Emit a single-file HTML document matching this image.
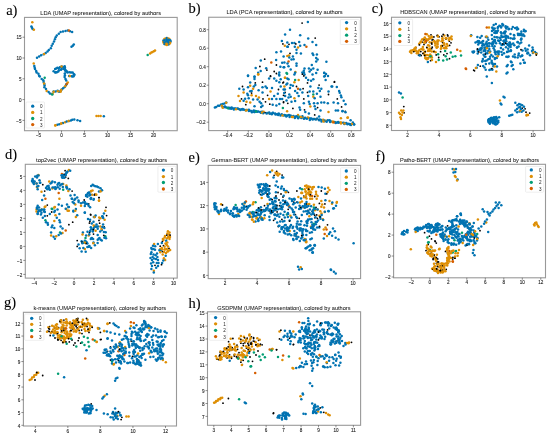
<!DOCTYPE html>
<html><head><meta charset="utf-8"><style>
html,body{margin:0;padding:0;background:#fff;}
svg{display:block;font-family:"Liberation Sans",sans-serif;will-change:transform;}
</style></head><body>
<svg width="550" height="435" viewBox="0 0 550 435">
<rect width="550" height="435" fill="#fff"/>
<circle cx="32.3" cy="22.3" r="1.25" fill="#de8f05"/>
<circle cx="31.4" cy="26.5" r="1.25" fill="#0173b2"/>
<circle cx="32.0" cy="27.8" r="1.25" fill="#0173b2"/>
<circle cx="32.6" cy="29.1" r="1.25" fill="#0173b2"/>
<circle cx="33.9" cy="29.7" r="1.25" fill="#de8f05"/>
<circle cx="37.0" cy="57.8" r="1.25" fill="#0173b2"/>
<circle cx="39.1" cy="56.4" r="1.25" fill="#0173b2"/>
<circle cx="41.1" cy="55.3" r="1.25" fill="#0173b2"/>
<circle cx="43.7" cy="54.3" r="1.25" fill="#0173b2"/>
<circle cx="45.7" cy="53.0" r="1.25" fill="#0173b2"/>
<circle cx="47.5" cy="51.5" r="1.25" fill="#0173b2"/>
<circle cx="48.8" cy="50.1" r="1.25" fill="#0173b2"/>
<circle cx="50.8" cy="48.2" r="1.25" fill="#0173b2"/>
<circle cx="51.7" cy="45.7" r="1.25" fill="#0173b2"/>
<circle cx="52.8" cy="43.8" r="1.25" fill="#0173b2"/>
<circle cx="54.0" cy="41.6" r="1.25" fill="#0173b2"/>
<circle cx="54.9" cy="39.2" r="1.25" fill="#0173b2"/>
<circle cx="55.7" cy="37.2" r="1.25" fill="#0173b2"/>
<circle cx="56.8" cy="35.4" r="1.25" fill="#0173b2"/>
<circle cx="58.8" cy="33.7" r="1.25" fill="#0173b2"/>
<circle cx="60.6" cy="32.1" r="1.25" fill="#0173b2"/>
<circle cx="63.0" cy="31.5" r="1.25" fill="#0173b2"/>
<circle cx="65.5" cy="31.1" r="1.25" fill="#0173b2"/>
<circle cx="67.7" cy="30.6" r="1.25" fill="#0173b2"/>
<circle cx="70.0" cy="31.3" r="1.25" fill="#0173b2"/>
<circle cx="72.1" cy="32.0" r="1.25" fill="#0173b2"/>
<circle cx="44.1" cy="53.9" r="1.25" fill="#de8f05"/>
<circle cx="68.9" cy="30.6" r="1.25" fill="#d55e00"/>
<circle cx="71.5" cy="46.8" r="1.25" fill="#0173b2"/>
<circle cx="72.8" cy="45.8" r="1.25" fill="#0173b2"/>
<circle cx="73.8" cy="44.4" r="1.25" fill="#0173b2"/>
<circle cx="33.7" cy="63.6" r="1.25" fill="#de8f05"/>
<circle cx="34.3" cy="65.9" r="1.25" fill="#0173b2"/>
<circle cx="34.7" cy="67.8" r="1.25" fill="#0173b2"/>
<circle cx="35.0" cy="68.9" r="1.25" fill="#0173b2"/>
<circle cx="36.2" cy="70.9" r="1.25" fill="#0173b2"/>
<circle cx="36.6" cy="72.5" r="1.25" fill="#0173b2"/>
<circle cx="38.4" cy="73.7" r="1.25" fill="#0173b2"/>
<circle cx="39.1" cy="75.8" r="1.25" fill="#0173b2"/>
<circle cx="39.8" cy="76.5" r="1.25" fill="#0173b2"/>
<circle cx="41.7" cy="78.9" r="1.25" fill="#0173b2"/>
<circle cx="43.3" cy="80.2" r="1.25" fill="#0173b2"/>
<circle cx="43.6" cy="82.0" r="1.25" fill="#0173b2"/>
<circle cx="44.3" cy="83.9" r="1.25" fill="#0173b2"/>
<circle cx="44.6" cy="85.5" r="1.25" fill="#0173b2"/>
<circle cx="44.4" cy="87.3" r="1.25" fill="#0173b2"/>
<circle cx="46.0" cy="89.0" r="1.25" fill="#0173b2"/>
<circle cx="46.7" cy="91.1" r="1.25" fill="#de8f05"/>
<circle cx="48.6" cy="92.1" r="1.25" fill="#0173b2"/>
<circle cx="49.9" cy="93.6" r="1.25" fill="#0173b2"/>
<circle cx="51.6" cy="94.1" r="1.25" fill="#0173b2"/>
<circle cx="52.6" cy="93.7" r="1.25" fill="#de8f05"/>
<circle cx="53.6" cy="91.4" r="1.25" fill="#0173b2"/>
<circle cx="55.6" cy="91.5" r="1.25" fill="#0173b2"/>
<circle cx="57.6" cy="90.7" r="1.25" fill="#0173b2"/>
<circle cx="59.1" cy="91.7" r="1.25" fill="#0173b2"/>
<circle cx="60.7" cy="91.0" r="1.25" fill="#0173b2"/>
<circle cx="61.7" cy="89.6" r="1.25" fill="#0173b2"/>
<circle cx="63.1" cy="88.2" r="1.25" fill="#0173b2"/>
<circle cx="64.7" cy="87.1" r="1.25" fill="#0173b2"/>
<circle cx="66.0" cy="85.1" r="1.25" fill="#0173b2"/>
<circle cx="66.7" cy="84.0" r="1.25" fill="#0173b2"/>
<circle cx="67.8" cy="82.4" r="1.25" fill="#de8f05"/>
<circle cx="66.2" cy="80.5" r="1.25" fill="#0173b2"/>
<circle cx="65.5" cy="79.1" r="1.25" fill="#0173b2"/>
<circle cx="64.6" cy="77.1" r="1.25" fill="#0173b2"/>
<circle cx="64.9" cy="75.3" r="1.25" fill="#0173b2"/>
<circle cx="64.8" cy="73.5" r="1.25" fill="#0173b2"/>
<circle cx="66.0" cy="71.6" r="1.25" fill="#0173b2"/>
<circle cx="65.3" cy="70.2" r="1.25" fill="#0173b2"/>
<circle cx="64.4" cy="67.9" r="1.25" fill="#0173b2"/>
<circle cx="53.6" cy="71.2" r="1.25" fill="#0173b2"/>
<circle cx="55.1" cy="69.0" r="1.25" fill="#0173b2"/>
<circle cx="56.2" cy="68.4" r="1.25" fill="#0173b2"/>
<circle cx="57.4" cy="67.8" r="1.25" fill="#0173b2"/>
<circle cx="58.7" cy="68.3" r="1.25" fill="#0173b2"/>
<circle cx="59.9" cy="67.3" r="1.25" fill="#0173b2"/>
<circle cx="61.6" cy="66.5" r="1.25" fill="#0173b2"/>
<circle cx="62.8" cy="66.9" r="1.25" fill="#0173b2"/>
<circle cx="64.7" cy="66.3" r="1.25" fill="#0173b2"/>
<circle cx="55.2" cy="72.5" r="1.25" fill="#0173b2"/>
<circle cx="55.9" cy="72.3" r="1.25" fill="#0173b2"/>
<circle cx="56.9" cy="72.2" r="1.25" fill="#0173b2"/>
<circle cx="58.3" cy="71.5" r="1.25" fill="#0173b2"/>
<circle cx="58.9" cy="70.2" r="1.25" fill="#0173b2"/>
<circle cx="61.0" cy="69.7" r="1.25" fill="#0173b2"/>
<circle cx="61.7" cy="68.9" r="1.25" fill="#0173b2"/>
<circle cx="63.7" cy="69.0" r="1.25" fill="#0173b2"/>
<circle cx="65.0" cy="67.7" r="1.25" fill="#0173b2"/>
<circle cx="64.3" cy="68.0" r="1.25" fill="#0173b2"/>
<circle cx="65.4" cy="69.9" r="1.25" fill="#0173b2"/>
<circle cx="65.7" cy="71.0" r="1.25" fill="#0173b2"/>
<circle cx="67.1" cy="71.6" r="1.25" fill="#0173b2"/>
<circle cx="67.5" cy="72.6" r="1.25" fill="#0173b2"/>
<circle cx="69.5" cy="72.2" r="1.25" fill="#0173b2"/>
<circle cx="71.0" cy="72.5" r="1.25" fill="#0173b2"/>
<circle cx="72.6" cy="72.5" r="1.25" fill="#0173b2"/>
<circle cx="73.7" cy="74.1" r="1.25" fill="#0173b2"/>
<circle cx="74.5" cy="74.8" r="1.25" fill="#0173b2"/>
<circle cx="73.6" cy="76.2" r="1.25" fill="#0173b2"/>
<circle cx="72.6" cy="76.5" r="1.25" fill="#0173b2"/>
<circle cx="71.6" cy="76.2" r="1.25" fill="#0173b2"/>
<circle cx="69.1" cy="76.0" r="1.25" fill="#0173b2"/>
<circle cx="61.5" cy="66.4" r="1.25" fill="#de8f05"/>
<circle cx="69.8" cy="76.1" r="1.25" fill="#de8f05"/>
<circle cx="66.6" cy="83.9" r="1.25" fill="#d55e00"/>
<circle cx="65.2" cy="86.2" r="1.25" fill="#de8f05"/>
<circle cx="61.1" cy="89.9" r="1.25" fill="#de8f05"/>
<circle cx="60.6" cy="91.7" r="1.25" fill="#de8f05"/>
<circle cx="57.9" cy="91.2" r="1.25" fill="#de8f05"/>
<circle cx="53.7" cy="91.7" r="1.25" fill="#de8f05"/>
<circle cx="52.3" cy="94.4" r="1.25" fill="#029e73"/>
<circle cx="44.7" cy="77.8" r="1.25" fill="#029e73"/>
<circle cx="44.1" cy="83.5" r="1.25" fill="#de8f05"/>
<circle cx="55.2" cy="125.4" r="1.25" fill="#de8f05"/>
<circle cx="57.4" cy="124.8" r="1.25" fill="#0173b2"/>
<circle cx="59.3" cy="124.3" r="1.25" fill="#0173b2"/>
<circle cx="61.1" cy="123.5" r="1.25" fill="#de8f05"/>
<circle cx="63.0" cy="123.0" r="1.25" fill="#0173b2"/>
<circle cx="65.1" cy="122.2" r="1.25" fill="#de8f05"/>
<circle cx="66.7" cy="121.6" r="1.25" fill="#0173b2"/>
<circle cx="68.9" cy="121.0" r="1.25" fill="#0173b2"/>
<circle cx="70.9" cy="120.4" r="1.25" fill="#0173b2"/>
<circle cx="72.3" cy="119.8" r="1.25" fill="#0173b2"/>
<circle cx="74.3" cy="119.4" r="1.25" fill="#0173b2"/>
<circle cx="55.5" cy="125.3" r="1.25" fill="#de8f05"/>
<circle cx="61.3" cy="123.5" r="1.25" fill="#de8f05"/>
<circle cx="68.6" cy="121.0" r="1.25" fill="#de8f05"/>
<circle cx="77.5" cy="120.2" r="1.25" fill="#0173b2"/>
<circle cx="80.1" cy="120.9" r="1.25" fill="#0173b2"/>
<circle cx="96.5" cy="116.0" r="1.25" fill="#de8f05"/>
<circle cx="98.5" cy="115.9" r="1.25" fill="#de8f05"/>
<circle cx="100.6" cy="116.0" r="1.25" fill="#de8f05"/>
<circle cx="103.8" cy="116.3" r="1.25" fill="#0173b2"/>
<circle cx="170.5" cy="41.5" r="1.25" fill="#0173b2"/>
<circle cx="170.2" cy="42.8" r="1.25" fill="#de8f05"/>
<circle cx="169.4" cy="43.9" r="1.25" fill="#de8f05"/>
<circle cx="168.3" cy="44.6" r="1.25" fill="#0173b2"/>
<circle cx="166.9" cy="44.9" r="1.25" fill="#de8f05"/>
<circle cx="165.5" cy="44.6" r="1.25" fill="#de8f05"/>
<circle cx="164.4" cy="43.9" r="1.25" fill="#0173b2"/>
<circle cx="163.6" cy="42.8" r="1.25" fill="#de8f05"/>
<circle cx="163.3" cy="41.5" r="1.25" fill="#de8f05"/>
<circle cx="163.6" cy="40.2" r="1.25" fill="#0173b2"/>
<circle cx="164.4" cy="39.1" r="1.25" fill="#de8f05"/>
<circle cx="165.5" cy="38.4" r="1.25" fill="#de8f05"/>
<circle cx="166.9" cy="38.1" r="1.25" fill="#0173b2"/>
<circle cx="168.3" cy="38.4" r="1.25" fill="#de8f05"/>
<circle cx="169.4" cy="39.1" r="1.25" fill="#de8f05"/>
<circle cx="170.2" cy="40.2" r="1.25" fill="#0173b2"/>
<circle cx="166.9" cy="41.8" r="1.25" fill="#0173b2"/>
<circle cx="169.3" cy="41.2" r="1.25" fill="#0173b2"/>
<circle cx="166.9" cy="41.6" r="1.25" fill="#0173b2"/>
<circle cx="166.6" cy="41.7" r="1.25" fill="#0173b2"/>
<circle cx="169.5" cy="42.6" r="1.25" fill="#de8f05"/>
<circle cx="167.2" cy="43.9" r="1.25" fill="#de8f05"/>
<circle cx="166.6" cy="39.2" r="1.25" fill="#0173b2"/>
<circle cx="164.4" cy="42.4" r="1.25" fill="#0173b2"/>
<circle cx="168.2" cy="42.4" r="1.25" fill="#0173b2"/>
<circle cx="166.3" cy="41.4" r="1.25" fill="#de8f05"/>
<circle cx="168.8" cy="39.7" r="1.25" fill="#0173b2"/>
<circle cx="167.0" cy="40.6" r="1.25" fill="#0173b2"/>
<circle cx="165.8" cy="42.7" r="1.25" fill="#0173b2"/>
<circle cx="167.2" cy="41.2" r="1.25" fill="#0173b2"/>
<circle cx="165.9" cy="42.2" r="1.25" fill="#0173b2"/>
<circle cx="164.6" cy="40.2" r="1.25" fill="#0173b2"/>
<circle cx="168.5" cy="40.3" r="1.25" fill="#0173b2"/>
<circle cx="166.4" cy="43.7" r="1.25" fill="#de8f05"/>
<circle cx="150.1" cy="53.4" r="1.25" fill="#de8f05"/>
<circle cx="151.4" cy="52.5" r="1.25" fill="#de8f05"/>
<circle cx="152.5" cy="51.9" r="1.25" fill="#de8f05"/>
<circle cx="153.9" cy="51.3" r="1.25" fill="#de8f05"/>
<circle cx="155.0" cy="50.5" r="1.25" fill="#de8f05"/>
<circle cx="147.7" cy="55.0" r="1.25" fill="#029e73"/>
<circle cx="285.1" cy="34.5" r="1.25" fill="#0173b2"/>
<circle cx="281.9" cy="41.0" r="1.25" fill="#0173b2"/>
<circle cx="282.9" cy="43.9" r="0.9" fill="#000000"/>
<circle cx="284.8" cy="45.8" r="1.25" fill="#de8f05"/>
<circle cx="287.3" cy="42.5" r="1.25" fill="#0173b2"/>
<circle cx="287.3" cy="46.8" r="1.25" fill="#0173b2"/>
<circle cx="276.4" cy="52.3" r="1.25" fill="#0173b2"/>
<circle cx="281.0" cy="51.6" r="1.25" fill="#0173b2"/>
<circle cx="283.6" cy="56.6" r="1.25" fill="#0173b2"/>
<circle cx="287.3" cy="56.0" r="1.25" fill="#de8f05"/>
<circle cx="264.7" cy="59.2" r="0.9" fill="#000000"/>
<circle cx="260.8" cy="60.6" r="1.25" fill="#0173b2"/>
<circle cx="271.3" cy="62.4" r="1.25" fill="#d55e00"/>
<circle cx="276.1" cy="59.9" r="1.25" fill="#0173b2"/>
<circle cx="276.4" cy="65.0" r="0.9" fill="#000000"/>
<circle cx="282.2" cy="62.8" r="1.25" fill="#0173b2"/>
<circle cx="284.4" cy="62.4" r="1.25" fill="#0173b2"/>
<circle cx="280.4" cy="66.7" r="1.25" fill="#0173b2"/>
<circle cx="283.6" cy="67.2" r="1.25" fill="#0173b2"/>
<circle cx="255.7" cy="67.9" r="1.25" fill="#0173b2"/>
<circle cx="259.9" cy="66.5" r="0.9" fill="#000000"/>
<circle cx="266.2" cy="68.2" r="1.25" fill="#0173b2"/>
<circle cx="266.9" cy="70.1" r="0.9" fill="#000000"/>
<circle cx="260.7" cy="71.1" r="1.25" fill="#0173b2"/>
<circle cx="258.2" cy="72.7" r="1.25" fill="#0173b2"/>
<circle cx="258.2" cy="74.5" r="1.25" fill="#de8f05"/>
<circle cx="274.2" cy="71.5" r="0.9" fill="#000000"/>
<circle cx="279.3" cy="72.6" r="1.25" fill="#0173b2"/>
<circle cx="279.0" cy="74.5" r="1.25" fill="#0173b2"/>
<circle cx="286.5" cy="73.0" r="1.25" fill="#029e73"/>
<circle cx="248.0" cy="75.9" r="1.25" fill="#0173b2"/>
<circle cx="254.5" cy="76.6" r="1.25" fill="#0173b2"/>
<circle cx="270.5" cy="75.9" r="0.9" fill="#000000"/>
<circle cx="302.1" cy="23.1" r="0.9" fill="#000000"/>
<circle cx="307.9" cy="22.1" r="1.25" fill="#0173b2"/>
<circle cx="290.0" cy="29.8" r="1.25" fill="#0173b2"/>
<circle cx="300.2" cy="35.2" r="1.25" fill="#0173b2"/>
<circle cx="308.2" cy="38.5" r="1.25" fill="#0173b2"/>
<circle cx="315.2" cy="38.1" r="0.9" fill="#000000"/>
<circle cx="292.0" cy="43.0" r="1.25" fill="#0173b2"/>
<circle cx="289.0" cy="44.3" r="0.9" fill="#000000"/>
<circle cx="287.8" cy="46.8" r="1.25" fill="#0173b2"/>
<circle cx="294.4" cy="42.9" r="1.25" fill="#0173b2"/>
<circle cx="295.8" cy="43.9" r="0.9" fill="#000000"/>
<circle cx="299.2" cy="42.0" r="1.25" fill="#0173b2"/>
<circle cx="294.8" cy="46.8" r="1.25" fill="#0173b2"/>
<circle cx="298.0" cy="47.5" r="1.25" fill="#de8f05"/>
<circle cx="300.2" cy="45.8" r="1.25" fill="#0173b2"/>
<circle cx="304.5" cy="44.9" r="1.25" fill="#0173b2"/>
<circle cx="306.4" cy="46.8" r="1.25" fill="#d55e00"/>
<circle cx="312.5" cy="42.0" r="1.25" fill="#0173b2"/>
<circle cx="316.2" cy="44.9" r="1.25" fill="#0173b2"/>
<circle cx="296.5" cy="49.7" r="1.25" fill="#0173b2"/>
<circle cx="290.0" cy="53.4" r="0.9" fill="#000000"/>
<circle cx="296.5" cy="53.1" r="1.25" fill="#0173b2"/>
<circle cx="300.9" cy="53.4" r="1.25" fill="#0173b2"/>
<circle cx="289.0" cy="55.5" r="1.25" fill="#de8f05"/>
<circle cx="289.3" cy="57.4" r="1.25" fill="#0173b2"/>
<circle cx="292.9" cy="56.6" r="1.25" fill="#0173b2"/>
<circle cx="291.5" cy="59.5" r="1.25" fill="#0173b2"/>
<circle cx="293.6" cy="59.2" r="1.25" fill="#0173b2"/>
<circle cx="288.5" cy="61.4" r="1.25" fill="#d55e00"/>
<circle cx="312.5" cy="53.4" r="1.25" fill="#0173b2"/>
<circle cx="313.3" cy="55.1" r="1.25" fill="#0173b2"/>
<circle cx="316.9" cy="54.5" r="1.25" fill="#0173b2"/>
<circle cx="316.2" cy="58.0" r="1.25" fill="#0173b2"/>
<circle cx="317.6" cy="59.5" r="1.25" fill="#0173b2"/>
<circle cx="316.2" cy="61.4" r="1.25" fill="#0173b2"/>
<circle cx="326.4" cy="61.8" r="1.25" fill="#0173b2"/>
<circle cx="287.5" cy="63.5" r="1.25" fill="#0173b2"/>
<circle cx="284.2" cy="67.2" r="1.25" fill="#0173b2"/>
<circle cx="296.5" cy="63.5" r="1.25" fill="#0173b2"/>
<circle cx="296.5" cy="65.7" r="1.25" fill="#0173b2"/>
<circle cx="288.5" cy="66.2" r="1.25" fill="#0173b2"/>
<circle cx="311.8" cy="65.0" r="1.25" fill="#0173b2"/>
<circle cx="290.7" cy="69.4" r="1.25" fill="#0173b2"/>
<circle cx="304.5" cy="68.6" r="1.25" fill="#0173b2"/>
<circle cx="303.8" cy="70.8" r="1.25" fill="#0173b2"/>
<circle cx="308.9" cy="68.6" r="1.25" fill="#0173b2"/>
<circle cx="311.1" cy="69.7" r="1.25" fill="#0173b2"/>
<circle cx="313.3" cy="68.6" r="1.25" fill="#0173b2"/>
<circle cx="317.6" cy="69.7" r="1.25" fill="#0173b2"/>
<circle cx="287.1" cy="73.7" r="1.25" fill="#029e73"/>
<circle cx="295.4" cy="72.0" r="1.25" fill="#de8f05"/>
<circle cx="294.4" cy="74.5" r="1.25" fill="#0173b2"/>
<circle cx="302.4" cy="72.6" r="1.25" fill="#0173b2"/>
<circle cx="304.5" cy="74.5" r="1.25" fill="#0173b2"/>
<circle cx="303.8" cy="75.9" r="0.9" fill="#000000"/>
<circle cx="309.6" cy="71.5" r="1.25" fill="#0173b2"/>
<circle cx="312.5" cy="74.5" r="1.25" fill="#0173b2"/>
<circle cx="316.2" cy="73.0" r="1.25" fill="#0173b2"/>
<circle cx="324.2" cy="73.0" r="1.25" fill="#0173b2"/>
<circle cx="324.9" cy="75.9" r="1.25" fill="#0173b2"/>
<circle cx="248.0" cy="75.6" r="1.25" fill="#0173b2"/>
<circle cx="258.2" cy="74.2" r="1.25" fill="#de8f05"/>
<circle cx="254.5" cy="77.1" r="1.25" fill="#0173b2"/>
<circle cx="254.5" cy="79.0" r="1.25" fill="#0173b2"/>
<circle cx="250.2" cy="82.5" r="1.25" fill="#0173b2"/>
<circle cx="255.3" cy="82.9" r="0.9" fill="#000000"/>
<circle cx="250.2" cy="85.8" r="1.25" fill="#de8f05"/>
<circle cx="242.5" cy="86.5" r="0.9" fill="#000000"/>
<circle cx="239.3" cy="88.7" r="1.25" fill="#0173b2"/>
<circle cx="243.6" cy="89.5" r="1.25" fill="#0173b2"/>
<circle cx="248.0" cy="87.3" r="1.25" fill="#0173b2"/>
<circle cx="253.8" cy="86.5" r="1.25" fill="#0173b2"/>
<circle cx="255.3" cy="85.1" r="1.25" fill="#0173b2"/>
<circle cx="253.1" cy="88.7" r="1.25" fill="#de8f05"/>
<circle cx="251.6" cy="90.9" r="1.25" fill="#0173b2"/>
<circle cx="250.2" cy="91.2" r="1.25" fill="#0173b2"/>
<circle cx="243.6" cy="92.4" r="1.25" fill="#de8f05"/>
<circle cx="247.3" cy="93.8" r="1.25" fill="#0173b2"/>
<circle cx="251.6" cy="93.1" r="0.9" fill="#000000"/>
<circle cx="258.6" cy="90.2" r="1.25" fill="#0173b2"/>
<circle cx="262.5" cy="82.2" r="0.9" fill="#000000"/>
<circle cx="262.5" cy="87.3" r="1.25" fill="#0173b2"/>
<circle cx="265.5" cy="86.5" r="1.25" fill="#0173b2"/>
<circle cx="266.9" cy="88.0" r="1.25" fill="#0173b2"/>
<circle cx="262.5" cy="92.4" r="1.25" fill="#0173b2"/>
<circle cx="238.5" cy="96.0" r="1.25" fill="#de8f05"/>
<circle cx="245.1" cy="98.7" r="1.25" fill="#0173b2"/>
<circle cx="248.0" cy="95.3" r="1.25" fill="#0173b2"/>
<circle cx="251.6" cy="95.3" r="1.25" fill="#de8f05"/>
<circle cx="256.0" cy="96.0" r="1.25" fill="#de8f05"/>
<circle cx="258.9" cy="97.5" r="1.25" fill="#de8f05"/>
<circle cx="241.5" cy="98.9" r="0.9" fill="#000000"/>
<circle cx="240.0" cy="101.1" r="1.25" fill="#de8f05"/>
<circle cx="243.6" cy="100.8" r="1.25" fill="#0173b2"/>
<circle cx="248.7" cy="98.2" r="1.25" fill="#0173b2"/>
<circle cx="246.5" cy="101.8" r="1.25" fill="#de8f05"/>
<circle cx="250.2" cy="102.5" r="1.25" fill="#de8f05"/>
<circle cx="253.1" cy="99.6" r="1.25" fill="#0173b2"/>
<circle cx="257.5" cy="99.6" r="1.25" fill="#0173b2"/>
<circle cx="259.6" cy="101.8" r="1.25" fill="#0173b2"/>
<circle cx="263.0" cy="98.9" r="0.9" fill="#000000"/>
<circle cx="261.1" cy="103.3" r="1.25" fill="#0173b2"/>
<circle cx="254.5" cy="106.2" r="1.25" fill="#0173b2"/>
<circle cx="265.5" cy="101.8" r="0.9" fill="#000000"/>
<circle cx="261.1" cy="106.9" r="1.25" fill="#0173b2"/>
<circle cx="262.5" cy="105.7" r="1.25" fill="#0173b2"/>
<circle cx="245.8" cy="104.7" r="0.9" fill="#000000"/>
<circle cx="267.6" cy="95.3" r="0.9" fill="#000000"/>
<circle cx="270.5" cy="91.6" r="1.25" fill="#de8f05"/>
<circle cx="272.0" cy="88.0" r="1.25" fill="#0173b2"/>
<circle cx="270.5" cy="76.4" r="0.9" fill="#000000"/>
<circle cx="274.2" cy="78.5" r="1.25" fill="#0173b2"/>
<circle cx="269.1" cy="78.5" r="1.25" fill="#0173b2"/>
<circle cx="274.2" cy="96.0" r="1.25" fill="#0173b2"/>
<circle cx="277.8" cy="93.8" r="1.25" fill="#0173b2"/>
<circle cx="278.5" cy="89.5" r="0.9" fill="#000000"/>
<circle cx="272.0" cy="98.9" r="1.25" fill="#0173b2"/>
<circle cx="269.1" cy="98.9" r="1.25" fill="#de8f05"/>
<circle cx="276.4" cy="98.9" r="1.25" fill="#0173b2"/>
<circle cx="280.0" cy="98.9" r="1.25" fill="#0173b2"/>
<circle cx="272.7" cy="104.7" r="1.25" fill="#0173b2"/>
<circle cx="269.8" cy="104.2" r="0.9" fill="#000000"/>
<circle cx="276.4" cy="105.5" r="1.25" fill="#0173b2"/>
<circle cx="279.3" cy="104.0" r="1.25" fill="#0173b2"/>
<circle cx="282.2" cy="98.9" r="1.25" fill="#0173b2"/>
<circle cx="283.6" cy="101.8" r="0.9" fill="#000000"/>
<circle cx="282.9" cy="108.1" r="1.25" fill="#029e73"/>
<circle cx="285.1" cy="92.4" r="0.9" fill="#000000"/>
<circle cx="285.1" cy="96.0" r="1.25" fill="#0173b2"/>
<circle cx="283.6" cy="89.5" r="1.25" fill="#0173b2"/>
<circle cx="284.4" cy="86.5" r="1.25" fill="#de8f05"/>
<circle cx="285.1" cy="77.8" r="1.25" fill="#de8f05"/>
<circle cx="287.3" cy="78.5" r="1.25" fill="#0173b2"/>
<circle cx="280.7" cy="86.5" r="1.25" fill="#0173b2"/>
<circle cx="276.4" cy="80.7" r="1.25" fill="#0173b2"/>
<circle cx="279.3" cy="82.2" r="1.25" fill="#0173b2"/>
<circle cx="280.7" cy="79.3" r="1.25" fill="#0173b2"/>
<circle cx="282.9" cy="82.9" r="0.9" fill="#000000"/>
<circle cx="287.3" cy="83.6" r="1.25" fill="#0173b2"/>
<circle cx="279.3" cy="75.6" r="1.25" fill="#0173b2"/>
<circle cx="276.4" cy="73.5" r="0.9" fill="#000000"/>
<circle cx="286.5" cy="100.4" r="1.25" fill="#0173b2"/>
<circle cx="295.1" cy="72.7" r="1.25" fill="#0173b2"/>
<circle cx="302.4" cy="74.2" r="0.9" fill="#000000"/>
<circle cx="304.0" cy="72.8" r="1.25" fill="#0173b2"/>
<circle cx="284.9" cy="77.8" r="1.25" fill="#de8f05"/>
<circle cx="288.5" cy="79.3" r="1.25" fill="#0173b2"/>
<circle cx="295.1" cy="80.0" r="1.25" fill="#029e73"/>
<circle cx="298.7" cy="80.0" r="1.25" fill="#de8f05"/>
<circle cx="294.4" cy="82.2" r="1.25" fill="#de8f05"/>
<circle cx="283.5" cy="82.2" r="0.9" fill="#000000"/>
<circle cx="286.4" cy="84.4" r="1.25" fill="#0173b2"/>
<circle cx="290.7" cy="85.1" r="1.25" fill="#0173b2"/>
<circle cx="292.9" cy="85.8" r="1.25" fill="#0173b2"/>
<circle cx="290.0" cy="88.0" r="1.25" fill="#0173b2"/>
<circle cx="296.5" cy="86.5" r="0.9" fill="#000000"/>
<circle cx="298.0" cy="88.7" r="1.25" fill="#d55e00"/>
<circle cx="300.2" cy="89.5" r="1.25" fill="#0173b2"/>
<circle cx="303.1" cy="88.7" r="0.9" fill="#000000"/>
<circle cx="295.1" cy="90.9" r="1.25" fill="#0173b2"/>
<circle cx="284.9" cy="89.5" r="1.25" fill="#0173b2"/>
<circle cx="284.2" cy="93.1" r="1.25" fill="#0173b2"/>
<circle cx="289.3" cy="94.5" r="1.25" fill="#0173b2"/>
<circle cx="297.3" cy="93.1" r="1.25" fill="#0173b2"/>
<circle cx="302.4" cy="92.4" r="1.25" fill="#0173b2"/>
<circle cx="307.5" cy="92.4" r="0.9" fill="#000000"/>
<circle cx="309.6" cy="91.6" r="1.25" fill="#0173b2"/>
<circle cx="313.3" cy="91.6" r="1.25" fill="#0173b2"/>
<circle cx="313.3" cy="94.5" r="1.25" fill="#029e73"/>
<circle cx="313.3" cy="96.7" r="1.25" fill="#de8f05"/>
<circle cx="316.9" cy="93.8" r="1.25" fill="#0173b2"/>
<circle cx="319.8" cy="90.9" r="1.25" fill="#0173b2"/>
<circle cx="321.3" cy="88.7" r="1.25" fill="#0173b2"/>
<circle cx="306.0" cy="77.8" r="1.25" fill="#0173b2"/>
<circle cx="308.2" cy="80.0" r="1.25" fill="#0173b2"/>
<circle cx="307.5" cy="82.9" r="0.9" fill="#000000"/>
<circle cx="311.1" cy="80.7" r="1.25" fill="#0173b2"/>
<circle cx="313.3" cy="79.3" r="1.25" fill="#0173b2"/>
<circle cx="310.4" cy="86.5" r="1.25" fill="#0173b2"/>
<circle cx="319.1" cy="85.1" r="0.9" fill="#000000"/>
<circle cx="318.4" cy="88.0" r="1.25" fill="#0173b2"/>
<circle cx="283.5" cy="95.3" r="0.9" fill="#000000"/>
<circle cx="288.5" cy="97.5" r="1.25" fill="#0173b2"/>
<circle cx="290.7" cy="96.7" r="1.25" fill="#0173b2"/>
<circle cx="294.4" cy="98.2" r="1.25" fill="#de8f05"/>
<circle cx="298.7" cy="96.0" r="1.25" fill="#0173b2"/>
<circle cx="303.8" cy="98.9" r="0.9" fill="#000000"/>
<circle cx="308.2" cy="96.0" r="1.25" fill="#0173b2"/>
<circle cx="314.7" cy="98.2" r="1.25" fill="#0173b2"/>
<circle cx="320.5" cy="96.7" r="1.25" fill="#0173b2"/>
<circle cx="328.5" cy="94.5" r="0.9" fill="#000000"/>
<circle cx="328.5" cy="91.6" r="1.25" fill="#0173b2"/>
<circle cx="332.2" cy="86.5" r="1.25" fill="#0173b2"/>
<circle cx="283.5" cy="102.5" r="0.9" fill="#000000"/>
<circle cx="287.8" cy="103.3" r="0.9" fill="#000000"/>
<circle cx="291.5" cy="101.8" r="1.25" fill="#0173b2"/>
<circle cx="295.1" cy="101.1" r="1.25" fill="#0173b2"/>
<circle cx="303.8" cy="103.3" r="1.25" fill="#0173b2"/>
<circle cx="308.9" cy="101.8" r="1.25" fill="#0173b2"/>
<circle cx="309.6" cy="104.0" r="1.25" fill="#0173b2"/>
<circle cx="314.0" cy="103.3" r="1.25" fill="#0173b2"/>
<circle cx="317.6" cy="103.3" r="1.25" fill="#0173b2"/>
<circle cx="321.3" cy="102.5" r="1.25" fill="#0173b2"/>
<circle cx="324.2" cy="102.5" r="1.25" fill="#0173b2"/>
<circle cx="327.8" cy="103.3" r="1.25" fill="#0173b2"/>
<circle cx="333.6" cy="102.5" r="1.25" fill="#0173b2"/>
<circle cx="337.3" cy="98.9" r="0.9" fill="#000000"/>
<circle cx="338.0" cy="103.3" r="1.25" fill="#0173b2"/>
<circle cx="287.1" cy="111.3" r="1.25" fill="#de8f05"/>
<circle cx="292.9" cy="108.4" r="0.9" fill="#000000"/>
<circle cx="299.5" cy="107.6" r="1.25" fill="#0173b2"/>
<circle cx="300.2" cy="109.8" r="1.25" fill="#0173b2"/>
<circle cx="304.5" cy="109.8" r="0.9" fill="#000000"/>
<circle cx="305.3" cy="112.0" r="1.25" fill="#0173b2"/>
<circle cx="310.4" cy="106.6" r="1.25" fill="#de8f05"/>
<circle cx="314.7" cy="106.2" r="1.25" fill="#0173b2"/>
<circle cx="315.5" cy="109.1" r="1.25" fill="#0173b2"/>
<circle cx="317.6" cy="107.6" r="0.9" fill="#000000"/>
<circle cx="320.5" cy="110.5" r="1.25" fill="#0173b2"/>
<circle cx="308.9" cy="113.5" r="1.25" fill="#0173b2"/>
<circle cx="314.7" cy="114.9" r="0.9" fill="#000000"/>
<circle cx="319.1" cy="116.4" r="1.25" fill="#0173b2"/>
<circle cx="328.5" cy="112.0" r="1.25" fill="#de8f05"/>
<circle cx="335.8" cy="110.5" r="1.25" fill="#0173b2"/>
<circle cx="338.0" cy="110.5" r="1.25" fill="#0173b2"/>
<circle cx="341.6" cy="106.9" r="0.9" fill="#000000"/>
<circle cx="342.4" cy="111.3" r="1.25" fill="#0173b2"/>
<circle cx="345.3" cy="111.3" r="0.9" fill="#000000"/>
<circle cx="340.9" cy="118.3" r="1.25" fill="#de8f05"/>
<circle cx="347.5" cy="117.8" r="1.25" fill="#de8f05"/>
<circle cx="298.0" cy="114.9" r="1.25" fill="#de8f05"/>
<circle cx="334.4" cy="82.2" r="0.9" fill="#000000"/>
<circle cx="331.5" cy="86.5" r="1.25" fill="#0173b2"/>
<circle cx="325.6" cy="80.0" r="1.25" fill="#0173b2"/>
<circle cx="324.2" cy="76.4" r="1.25" fill="#0173b2"/>
<circle cx="324.2" cy="72.7" r="1.25" fill="#0173b2"/>
<circle cx="336.8" cy="86.9" r="1.25" fill="#0173b2"/>
<circle cx="339.1" cy="90.9" r="1.25" fill="#0173b2"/>
<circle cx="339.7" cy="92.7" r="1.25" fill="#0173b2"/>
<circle cx="340.9" cy="95.5" r="1.25" fill="#0173b2"/>
<circle cx="341.4" cy="97.3" r="1.25" fill="#0173b2"/>
<circle cx="343.7" cy="100.7" r="1.25" fill="#0173b2"/>
<circle cx="345.5" cy="104.2" r="1.25" fill="#0173b2"/>
<circle cx="342.6" cy="111.1" r="1.25" fill="#0173b2"/>
<circle cx="345.5" cy="112.2" r="1.25" fill="#0173b2"/>
<circle cx="347.8" cy="117.4" r="1.25" fill="#de8f05"/>
<circle cx="350.6" cy="120.3" r="1.25" fill="#0173b2"/>
<circle cx="352.9" cy="122.6" r="1.25" fill="#0173b2"/>
<circle cx="354.1" cy="124.3" r="1.25" fill="#0173b2"/>
<circle cx="350.6" cy="124.3" r="1.25" fill="#0173b2"/>
<circle cx="334.5" cy="81.7" r="0.9" fill="#000000"/>
<circle cx="328.0" cy="76.0" r="1.25" fill="#0173b2"/>
<circle cx="326.0" cy="74.0" r="1.25" fill="#0173b2"/>
<circle cx="222.3" cy="106.4" r="1.25" fill="#0173b2"/>
<circle cx="223.9" cy="107.2" r="1.25" fill="#0173b2"/>
<circle cx="224.9" cy="106.6" r="1.25" fill="#0173b2"/>
<circle cx="225.2" cy="106.9" r="1.25" fill="#0173b2"/>
<circle cx="227.8" cy="107.7" r="1.25" fill="#0173b2"/>
<circle cx="229.0" cy="107.7" r="1.25" fill="#0173b2"/>
<circle cx="230.3" cy="108.1" r="1.25" fill="#0173b2"/>
<circle cx="231.7" cy="107.6" r="1.25" fill="#0173b2"/>
<circle cx="233.2" cy="108.4" r="1.25" fill="#0173b2"/>
<circle cx="234.5" cy="108.4" r="1.25" fill="#0173b2"/>
<circle cx="235.6" cy="108.4" r="1.25" fill="#0173b2"/>
<circle cx="237.4" cy="108.6" r="1.25" fill="#0173b2"/>
<circle cx="238.3" cy="109.0" r="1.25" fill="#de8f05"/>
<circle cx="239.7" cy="109.3" r="1.25" fill="#0173b2"/>
<circle cx="241.9" cy="109.2" r="1.25" fill="#0173b2"/>
<circle cx="242.7" cy="108.9" r="1.25" fill="#0173b2"/>
<circle cx="244.2" cy="109.7" r="1.25" fill="#0173b2"/>
<circle cx="246.3" cy="110.1" r="1.25" fill="#0173b2"/>
<circle cx="247.2" cy="110.1" r="1.25" fill="#de8f05"/>
<circle cx="248.9" cy="109.7" r="1.25" fill="#0173b2"/>
<circle cx="249.9" cy="110.7" r="1.25" fill="#0173b2"/>
<circle cx="251.6" cy="110.9" r="1.25" fill="#0173b2"/>
<circle cx="253.8" cy="110.5" r="1.25" fill="#0173b2"/>
<circle cx="254.2" cy="111.9" r="1.25" fill="#0173b2"/>
<circle cx="255.5" cy="111.1" r="1.25" fill="#0173b2"/>
<circle cx="256.5" cy="111.4" r="1.25" fill="#0173b2"/>
<circle cx="258.3" cy="111.5" r="1.25" fill="#0173b2"/>
<circle cx="260.1" cy="111.9" r="1.25" fill="#0173b2"/>
<circle cx="261.5" cy="111.9" r="1.25" fill="#0173b2"/>
<circle cx="262.2" cy="111.8" r="1.25" fill="#0173b2"/>
<circle cx="263.6" cy="111.7" r="1.25" fill="#de8f05"/>
<circle cx="265.1" cy="112.6" r="0.9" fill="#000000"/>
<circle cx="267.2" cy="113.1" r="1.25" fill="#0173b2"/>
<circle cx="268.9" cy="113.0" r="1.25" fill="#de8f05"/>
<circle cx="269.2" cy="112.5" r="1.25" fill="#0173b2"/>
<circle cx="271.3" cy="113.5" r="1.25" fill="#0173b2"/>
<circle cx="272.8" cy="112.7" r="1.25" fill="#0173b2"/>
<circle cx="273.1" cy="113.1" r="1.25" fill="#0173b2"/>
<circle cx="275.1" cy="113.4" r="1.25" fill="#0173b2"/>
<circle cx="276.9" cy="114.2" r="1.25" fill="#0173b2"/>
<circle cx="278.3" cy="113.7" r="1.25" fill="#0173b2"/>
<circle cx="279.0" cy="113.8" r="1.25" fill="#0173b2"/>
<circle cx="281.6" cy="114.5" r="1.25" fill="#0173b2"/>
<circle cx="281.8" cy="114.6" r="1.25" fill="#0173b2"/>
<circle cx="284.3" cy="115.1" r="1.25" fill="#0173b2"/>
<circle cx="285.4" cy="115.2" r="1.25" fill="#0173b2"/>
<circle cx="286.7" cy="115.8" r="1.25" fill="#029e73"/>
<circle cx="287.5" cy="115.4" r="1.25" fill="#0173b2"/>
<circle cx="289.0" cy="115.0" r="1.25" fill="#0173b2"/>
<circle cx="290.6" cy="115.6" r="1.25" fill="#0173b2"/>
<circle cx="292.1" cy="116.6" r="1.25" fill="#0173b2"/>
<circle cx="293.5" cy="116.1" r="1.25" fill="#0173b2"/>
<circle cx="294.9" cy="116.9" r="1.25" fill="#0173b2"/>
<circle cx="296.2" cy="116.2" r="1.25" fill="#0173b2"/>
<circle cx="297.3" cy="116.8" r="1.25" fill="#0173b2"/>
<circle cx="299.4" cy="116.7" r="1.25" fill="#029e73"/>
<circle cx="300.6" cy="117.1" r="1.25" fill="#0173b2"/>
<circle cx="302.4" cy="116.3" r="1.25" fill="#0173b2"/>
<circle cx="303.3" cy="117.7" r="1.25" fill="#de8f05"/>
<circle cx="304.9" cy="118.2" r="1.25" fill="#0173b2"/>
<circle cx="305.2" cy="117.7" r="1.25" fill="#0173b2"/>
<circle cx="307.8" cy="117.6" r="1.25" fill="#de8f05"/>
<circle cx="308.9" cy="117.9" r="1.25" fill="#de8f05"/>
<circle cx="310.3" cy="118.4" r="1.25" fill="#0173b2"/>
<circle cx="311.4" cy="118.6" r="1.25" fill="#0173b2"/>
<circle cx="313.4" cy="119.1" r="1.25" fill="#0173b2"/>
<circle cx="314.6" cy="118.9" r="1.25" fill="#0173b2"/>
<circle cx="316.1" cy="119.0" r="1.25" fill="#de8f05"/>
<circle cx="317.2" cy="118.5" r="1.25" fill="#0173b2"/>
<circle cx="318.6" cy="119.8" r="0.9" fill="#000000"/>
<circle cx="319.9" cy="119.5" r="1.25" fill="#0173b2"/>
<circle cx="321.6" cy="120.0" r="1.25" fill="#0173b2"/>
<circle cx="323.2" cy="119.8" r="1.25" fill="#de8f05"/>
<circle cx="324.5" cy="120.6" r="1.25" fill="#0173b2"/>
<circle cx="326.0" cy="120.8" r="1.25" fill="#de8f05"/>
<circle cx="327.8" cy="120.2" r="1.25" fill="#0173b2"/>
<circle cx="329.5" cy="120.3" r="1.25" fill="#0173b2"/>
<circle cx="330.1" cy="120.9" r="1.25" fill="#0173b2"/>
<circle cx="330.9" cy="121.4" r="1.25" fill="#0173b2"/>
<circle cx="332.9" cy="121.5" r="1.25" fill="#de8f05"/>
<circle cx="334.6" cy="121.9" r="1.25" fill="#0173b2"/>
<circle cx="335.5" cy="122.4" r="1.25" fill="#029e73"/>
<circle cx="337.1" cy="122.5" r="1.25" fill="#0173b2"/>
<circle cx="338.2" cy="122.0" r="1.25" fill="#0173b2"/>
<circle cx="340.1" cy="122.6" r="1.25" fill="#de8f05"/>
<circle cx="341.1" cy="122.5" r="1.25" fill="#de8f05"/>
<circle cx="343.2" cy="122.7" r="1.25" fill="#0173b2"/>
<circle cx="344.2" cy="123.1" r="1.25" fill="#0173b2"/>
<circle cx="345.8" cy="123.2" r="1.25" fill="#0173b2"/>
<circle cx="346.2" cy="122.9" r="1.25" fill="#0173b2"/>
<circle cx="348.0" cy="123.7" r="1.25" fill="#0173b2"/>
<circle cx="349.5" cy="123.9" r="1.25" fill="#0173b2"/>
<circle cx="351.0" cy="124.9" r="1.25" fill="#0173b2"/>
<circle cx="352.0" cy="124.0" r="1.25" fill="#de8f05"/>
<circle cx="354.1" cy="124.5" r="1.25" fill="#0173b2"/>
<circle cx="222.7" cy="107.8" r="1.25" fill="#de8f05"/>
<circle cx="226.3" cy="107.4" r="1.25" fill="#0173b2"/>
<circle cx="229.3" cy="108.5" r="1.25" fill="#0173b2"/>
<circle cx="231.2" cy="108.8" r="1.25" fill="#0173b2"/>
<circle cx="233.9" cy="109.6" r="1.25" fill="#0173b2"/>
<circle cx="238.0" cy="108.8" r="1.25" fill="#0173b2"/>
<circle cx="240.5" cy="110.0" r="1.25" fill="#0173b2"/>
<circle cx="242.9" cy="109.5" r="1.25" fill="#0173b2"/>
<circle cx="245.7" cy="110.2" r="1.25" fill="#0173b2"/>
<circle cx="248.9" cy="111.0" r="1.25" fill="#0173b2"/>
<circle cx="251.9" cy="112.2" r="1.25" fill="#0173b2"/>
<circle cx="254.7" cy="112.0" r="1.25" fill="#0173b2"/>
<circle cx="257.3" cy="111.8" r="1.25" fill="#0173b2"/>
<circle cx="260.9" cy="112.8" r="1.25" fill="#0173b2"/>
<circle cx="263.2" cy="113.2" r="1.25" fill="#0173b2"/>
<circle cx="266.6" cy="113.4" r="1.25" fill="#0173b2"/>
<circle cx="269.7" cy="113.7" r="1.25" fill="#0173b2"/>
<circle cx="271.8" cy="114.2" r="1.25" fill="#0173b2"/>
<circle cx="275.5" cy="114.4" r="1.25" fill="#0173b2"/>
<circle cx="278.2" cy="115.0" r="1.25" fill="#0173b2"/>
<circle cx="280.5" cy="115.5" r="1.25" fill="#0173b2"/>
<circle cx="283.8" cy="115.6" r="1.25" fill="#0173b2"/>
<circle cx="286.3" cy="116.4" r="1.25" fill="#0173b2"/>
<circle cx="289.6" cy="117.1" r="1.25" fill="#0173b2"/>
<circle cx="292.0" cy="116.9" r="1.25" fill="#de8f05"/>
<circle cx="294.9" cy="117.9" r="1.25" fill="#0173b2"/>
<circle cx="298.2" cy="118.2" r="1.25" fill="#0173b2"/>
<circle cx="301.3" cy="117.9" r="1.25" fill="#0173b2"/>
<circle cx="303.9" cy="118.8" r="1.25" fill="#0173b2"/>
<circle cx="306.9" cy="118.7" r="1.25" fill="#0173b2"/>
<circle cx="309.8" cy="120.1" r="1.25" fill="#0173b2"/>
<circle cx="312.6" cy="119.6" r="1.25" fill="#0173b2"/>
<circle cx="315.9" cy="119.5" r="1.25" fill="#0173b2"/>
<circle cx="319.1" cy="120.3" r="1.25" fill="#0173b2"/>
<circle cx="321.5" cy="121.5" r="1.25" fill="#0173b2"/>
<circle cx="324.5" cy="121.2" r="1.25" fill="#0173b2"/>
<circle cx="326.7" cy="121.7" r="1.25" fill="#0173b2"/>
<circle cx="330.1" cy="121.9" r="1.25" fill="#0173b2"/>
<circle cx="332.9" cy="122.2" r="1.25" fill="#de8f05"/>
<circle cx="335.7" cy="123.0" r="1.25" fill="#0173b2"/>
<circle cx="338.6" cy="122.7" r="1.25" fill="#0173b2"/>
<circle cx="341.0" cy="123.5" r="1.25" fill="#de8f05"/>
<circle cx="344.3" cy="124.1" r="1.25" fill="#0173b2"/>
<circle cx="347.5" cy="124.3" r="1.25" fill="#0173b2"/>
<circle cx="350.0" cy="124.5" r="1.25" fill="#0173b2"/>
<circle cx="214.9" cy="107.4" r="1.25" fill="#0173b2"/>
<circle cx="216.2" cy="106.9" r="1.25" fill="#0173b2"/>
<circle cx="218.0" cy="105.8" r="1.25" fill="#0173b2"/>
<circle cx="219.4" cy="105.8" r="1.25" fill="#0173b2"/>
<circle cx="221.1" cy="104.6" r="1.25" fill="#0173b2"/>
<circle cx="222.8" cy="103.9" r="1.25" fill="#0173b2"/>
<circle cx="224.5" cy="103.4" r="1.25" fill="#0173b2"/>
<circle cx="226.2" cy="102.4" r="1.25" fill="#0173b2"/>
<circle cx="221.8" cy="105.7" r="1.25" fill="#de8f05"/>
<circle cx="226.2" cy="102.8" r="1.25" fill="#de8f05"/>
<circle cx="292.9" cy="117.1" r="1.25" fill="#de8f05"/>
<circle cx="300.9" cy="117.1" r="1.25" fill="#de8f05"/>
<circle cx="323.5" cy="121.5" r="1.25" fill="#de8f05"/>
<circle cx="333.6" cy="122.2" r="1.25" fill="#d55e00"/>
<circle cx="344.5" cy="123.6" r="1.25" fill="#de8f05"/>
<circle cx="282.5" cy="115.6" r="1.25" fill="#de8f05"/>
<circle cx="262.0" cy="112.5" r="1.25" fill="#de8f05"/>
<circle cx="246.0" cy="110.5" r="1.25" fill="#de8f05"/>
<circle cx="236.0" cy="109.2" r="1.25" fill="#de8f05"/>
<circle cx="256.0" cy="111.6" r="1.25" fill="#029e73"/>
<circle cx="228.0" cy="108.2" r="1.25" fill="#029e73"/>
<circle cx="430.6" cy="60.7" r="0.9" fill="#000000"/>
<circle cx="426.7" cy="40.5" r="1.25" fill="#de8f05"/>
<circle cx="424.1" cy="42.4" r="1.25" fill="#de8f05"/>
<circle cx="444.3" cy="35.6" r="1.25" fill="#de8f05"/>
<circle cx="443.0" cy="40.4" r="1.25" fill="#de8f05"/>
<circle cx="441.1" cy="46.1" r="1.25" fill="#de8f05"/>
<circle cx="428.0" cy="51.0" r="1.25" fill="#de8f05"/>
<circle cx="439.1" cy="36.8" r="0.9" fill="#000000"/>
<circle cx="422.6" cy="49.5" r="1.25" fill="#de8f05"/>
<circle cx="442.3" cy="39.0" r="1.25" fill="#de8f05"/>
<circle cx="424.0" cy="44.6" r="0.9" fill="#000000"/>
<circle cx="432.1" cy="39.9" r="0.9" fill="#000000"/>
<circle cx="426.1" cy="58.1" r="1.25" fill="#de8f05"/>
<circle cx="421.1" cy="55.5" r="0.9" fill="#000000"/>
<circle cx="414.2" cy="50.3" r="1.25" fill="#de8f05"/>
<circle cx="419.2" cy="43.8" r="1.25" fill="#de8f05"/>
<circle cx="424.1" cy="52.7" r="1.25" fill="#de8f05"/>
<circle cx="423.4" cy="39.1" r="1.25" fill="#de8f05"/>
<circle cx="434.0" cy="51.6" r="1.25" fill="#de8f05"/>
<circle cx="416.8" cy="53.2" r="1.25" fill="#de8f05"/>
<circle cx="422.1" cy="42.1" r="0.9" fill="#000000"/>
<circle cx="423.4" cy="49.5" r="1.25" fill="#de8f05"/>
<circle cx="428.0" cy="58.0" r="0.9" fill="#000000"/>
<circle cx="425.7" cy="38.9" r="1.25" fill="#de8f05"/>
<circle cx="449.6" cy="45.4" r="0.9" fill="#000000"/>
<circle cx="427.6" cy="58.5" r="1.25" fill="#de8f05"/>
<circle cx="434.0" cy="51.6" r="0.9" fill="#000000"/>
<circle cx="413.5" cy="51.1" r="1.25" fill="#de8f05"/>
<circle cx="431.9" cy="37.5" r="1.25" fill="#de8f05"/>
<circle cx="431.0" cy="34.8" r="0.9" fill="#000000"/>
<circle cx="426.8" cy="59.2" r="1.25" fill="#de8f05"/>
<circle cx="446.2" cy="37.9" r="1.25" fill="#de8f05"/>
<circle cx="419.4" cy="44.9" r="0.9" fill="#000000"/>
<circle cx="446.4" cy="38.5" r="1.25" fill="#de8f05"/>
<circle cx="427.3" cy="48.1" r="1.25" fill="#de8f05"/>
<circle cx="443.2" cy="34.4" r="0.9" fill="#000000"/>
<circle cx="414.7" cy="50.4" r="1.25" fill="#de8f05"/>
<circle cx="437.4" cy="42.1" r="1.25" fill="#de8f05"/>
<circle cx="435.4" cy="45.5" r="1.25" fill="#de8f05"/>
<circle cx="429.4" cy="45.8" r="1.25" fill="#de8f05"/>
<circle cx="437.0" cy="47.3" r="1.25" fill="#de8f05"/>
<circle cx="429.9" cy="38.4" r="1.25" fill="#de8f05"/>
<circle cx="428.7" cy="35.9" r="1.25" fill="#de8f05"/>
<circle cx="437.8" cy="35.7" r="1.25" fill="#de8f05"/>
<circle cx="444.1" cy="47.9" r="1.25" fill="#de8f05"/>
<circle cx="431.9" cy="44.1" r="0.9" fill="#000000"/>
<circle cx="445.8" cy="38.8" r="0.9" fill="#000000"/>
<circle cx="450.3" cy="38.0" r="1.25" fill="#de8f05"/>
<circle cx="425.1" cy="54.9" r="1.25" fill="#de8f05"/>
<circle cx="449.4" cy="41.2" r="0.9" fill="#000000"/>
<circle cx="415.9" cy="47.7" r="0.9" fill="#000000"/>
<circle cx="432.0" cy="42.4" r="1.25" fill="#de8f05"/>
<circle cx="449.3" cy="38.1" r="1.25" fill="#de8f05"/>
<circle cx="414.6" cy="48.5" r="1.25" fill="#de8f05"/>
<circle cx="425.5" cy="58.3" r="1.25" fill="#de8f05"/>
<circle cx="437.5" cy="44.6" r="1.25" fill="#de8f05"/>
<circle cx="435.2" cy="43.6" r="1.25" fill="#de8f05"/>
<circle cx="429.2" cy="38.4" r="1.25" fill="#de8f05"/>
<circle cx="420.8" cy="51.6" r="0.9" fill="#000000"/>
<circle cx="435.6" cy="52.3" r="1.25" fill="#de8f05"/>
<circle cx="416.1" cy="50.9" r="1.25" fill="#de8f05"/>
<circle cx="419.5" cy="50.0" r="1.25" fill="#de8f05"/>
<circle cx="418.6" cy="51.1" r="1.25" fill="#de8f05"/>
<circle cx="413.8" cy="51.6" r="0.9" fill="#000000"/>
<circle cx="444.3" cy="44.8" r="1.25" fill="#de8f05"/>
<circle cx="410.0" cy="51.7" r="1.25" fill="#de8f05"/>
<circle cx="425.1" cy="51.8" r="1.25" fill="#de8f05"/>
<circle cx="427.6" cy="40.1" r="1.25" fill="#de8f05"/>
<circle cx="436.6" cy="47.8" r="1.25" fill="#de8f05"/>
<circle cx="445.7" cy="38.3" r="1.25" fill="#de8f05"/>
<circle cx="430.2" cy="54.5" r="1.25" fill="#de8f05"/>
<circle cx="424.4" cy="54.7" r="1.25" fill="#de8f05"/>
<circle cx="421.3" cy="49.1" r="1.25" fill="#de8f05"/>
<circle cx="444.6" cy="48.3" r="1.25" fill="#de8f05"/>
<circle cx="420.0" cy="54.6" r="0.9" fill="#000000"/>
<circle cx="442.7" cy="42.6" r="0.9" fill="#000000"/>
<circle cx="424.1" cy="40.1" r="0.9" fill="#000000"/>
<circle cx="430.4" cy="57.3" r="1.25" fill="#de8f05"/>
<circle cx="447.7" cy="45.8" r="1.25" fill="#de8f05"/>
<circle cx="434.9" cy="42.1" r="1.25" fill="#de8f05"/>
<circle cx="437.2" cy="35.5" r="0.9" fill="#000000"/>
<circle cx="424.8" cy="37.4" r="1.25" fill="#de8f05"/>
<circle cx="411.4" cy="53.1" r="1.25" fill="#de8f05"/>
<circle cx="412.4" cy="50.2" r="1.25" fill="#de8f05"/>
<circle cx="451.5" cy="36.4" r="1.25" fill="#de8f05"/>
<circle cx="437.6" cy="41.5" r="1.25" fill="#de8f05"/>
<circle cx="420.9" cy="41.4" r="1.25" fill="#de8f05"/>
<circle cx="425.9" cy="42.5" r="0.9" fill="#000000"/>
<circle cx="431.9" cy="57.6" r="1.25" fill="#de8f05"/>
<circle cx="428.9" cy="55.4" r="1.25" fill="#de8f05"/>
<circle cx="440.9" cy="48.7" r="1.25" fill="#de8f05"/>
<circle cx="447.9" cy="35.9" r="0.9" fill="#000000"/>
<circle cx="418.5" cy="55.1" r="0.9" fill="#000000"/>
<circle cx="431.4" cy="56.1" r="1.25" fill="#de8f05"/>
<circle cx="431.5" cy="43.2" r="0.9" fill="#000000"/>
<circle cx="422.1" cy="39.4" r="1.25" fill="#de8f05"/>
<circle cx="431.7" cy="36.4" r="1.25" fill="#de8f05"/>
<circle cx="437.4" cy="43.5" r="1.25" fill="#de8f05"/>
<circle cx="427.1" cy="58.8" r="1.25" fill="#de8f05"/>
<circle cx="426.4" cy="58.6" r="1.25" fill="#de8f05"/>
<circle cx="430.0" cy="48.5" r="1.25" fill="#de8f05"/>
<circle cx="425.0" cy="42.6" r="1.25" fill="#de8f05"/>
<circle cx="442.5" cy="38.1" r="1.25" fill="#de8f05"/>
<circle cx="448.9" cy="40.1" r="1.25" fill="#de8f05"/>
<circle cx="422.9" cy="53.4" r="0.9" fill="#000000"/>
<circle cx="420.5" cy="42.6" r="1.25" fill="#de8f05"/>
<circle cx="441.9" cy="36.2" r="0.9" fill="#000000"/>
<circle cx="442.1" cy="45.7" r="1.25" fill="#de8f05"/>
<circle cx="437.9" cy="36.4" r="1.25" fill="#de8f05"/>
<circle cx="426.8" cy="34.3" r="1.25" fill="#de8f05"/>
<circle cx="431.8" cy="51.4" r="1.25" fill="#de8f05"/>
<circle cx="415.8" cy="50.6" r="1.25" fill="#de8f05"/>
<circle cx="428.6" cy="49.7" r="1.25" fill="#de8f05"/>
<circle cx="428.2" cy="39.8" r="1.25" fill="#de8f05"/>
<circle cx="429.7" cy="42.3" r="1.25" fill="#de8f05"/>
<circle cx="437.5" cy="40.5" r="1.25" fill="#de8f05"/>
<circle cx="429.8" cy="51.1" r="1.25" fill="#de8f05"/>
<circle cx="417.6" cy="52.0" r="1.25" fill="#de8f05"/>
<circle cx="426.8" cy="47.3" r="0.9" fill="#000000"/>
<circle cx="414.0" cy="49.7" r="1.25" fill="#de8f05"/>
<circle cx="441.4" cy="47.9" r="1.25" fill="#de8f05"/>
<circle cx="446.4" cy="48.2" r="1.25" fill="#de8f05"/>
<circle cx="451.7" cy="39.3" r="1.25" fill="#de8f05"/>
<circle cx="427.0" cy="55.1" r="1.25" fill="#de8f05"/>
<circle cx="428.1" cy="45.3" r="1.25" fill="#de8f05"/>
<circle cx="425.2" cy="40.9" r="1.25" fill="#de8f05"/>
<circle cx="433.0" cy="39.6" r="0.9" fill="#000000"/>
<circle cx="426.9" cy="39.4" r="1.25" fill="#de8f05"/>
<circle cx="437.7" cy="46.7" r="1.25" fill="#de8f05"/>
<circle cx="425.2" cy="51.6" r="0.9" fill="#000000"/>
<circle cx="445.8" cy="46.7" r="1.25" fill="#de8f05"/>
<circle cx="433.9" cy="36.9" r="0.9" fill="#000000"/>
<circle cx="425.3" cy="57.6" r="1.25" fill="#de8f05"/>
<circle cx="426.2" cy="40.6" r="1.25" fill="#de8f05"/>
<circle cx="441.6" cy="41.3" r="1.25" fill="#de8f05"/>
<circle cx="422.9" cy="47.0" r="1.25" fill="#de8f05"/>
<circle cx="447.5" cy="34.9" r="0.9" fill="#000000"/>
<circle cx="438.7" cy="40.5" r="1.25" fill="#de8f05"/>
<circle cx="444.0" cy="43.2" r="1.25" fill="#de8f05"/>
<circle cx="418.3" cy="53.1" r="1.25" fill="#de8f05"/>
<circle cx="442.5" cy="45.8" r="0.9" fill="#000000"/>
<circle cx="434.2" cy="40.9" r="1.25" fill="#de8f05"/>
<circle cx="415.7" cy="47.4" r="1.25" fill="#de8f05"/>
<circle cx="430.3" cy="37.4" r="1.25" fill="#de8f05"/>
<circle cx="431.7" cy="48.7" r="0.9" fill="#000000"/>
<circle cx="430.3" cy="49.4" r="1.25" fill="#de8f05"/>
<circle cx="446.9" cy="44.0" r="1.25" fill="#de8f05"/>
<circle cx="410.8" cy="50.7" r="1.25" fill="#de8f05"/>
<circle cx="451.0" cy="42.8" r="0.9" fill="#000000"/>
<circle cx="432.2" cy="47.2" r="0.9" fill="#000000"/>
<circle cx="430.5" cy="56.2" r="1.25" fill="#029e73"/>
<circle cx="438.1" cy="54.3" r="1.25" fill="#029e73"/>
<circle cx="445.1" cy="51.1" r="1.25" fill="#029e73"/>
<circle cx="450.8" cy="52.4" r="1.25" fill="#029e73"/>
<circle cx="452.7" cy="56.8" r="1.25" fill="#029e73"/>
<circle cx="455.3" cy="56.2" r="1.25" fill="#029e73"/>
<circle cx="461.0" cy="55.5" r="1.25" fill="#029e73"/>
<circle cx="443.2" cy="60.6" r="1.25" fill="#029e73"/>
<circle cx="438.7" cy="60.0" r="1.25" fill="#029e73"/>
<circle cx="447.0" cy="59.4" r="1.25" fill="#029e73"/>
<circle cx="445.7" cy="56.2" r="1.25" fill="#029e73"/>
<circle cx="436.2" cy="54.9" r="0.9" fill="#000000"/>
<circle cx="440.6" cy="51.7" r="0.9" fill="#000000"/>
<circle cx="443.8" cy="54.9" r="0.9" fill="#000000"/>
<circle cx="447.0" cy="53.6" r="0.9" fill="#000000"/>
<circle cx="449.5" cy="58.7" r="0.9" fill="#000000"/>
<circle cx="438.7" cy="57.5" r="0.9" fill="#000000"/>
<circle cx="424.7" cy="55.5" r="0.9" fill="#000000"/>
<circle cx="419.6" cy="55.5" r="1.25" fill="#0173b2"/>
<circle cx="427.9" cy="61.9" r="1.25" fill="#0173b2"/>
<circle cx="425.4" cy="33.9" r="1.25" fill="#d55e00"/>
<circle cx="426.0" cy="40.9" r="1.25" fill="#d55e00"/>
<circle cx="457.2" cy="49.8" r="1.25" fill="#d55e00"/>
<circle cx="466.1" cy="68.9" r="1.25" fill="#d55e00"/>
<circle cx="460.4" cy="51.1" r="1.25" fill="#de8f05"/>
<circle cx="473.7" cy="70.2" r="0.9" fill="#000000"/>
<circle cx="471.2" cy="35.2" r="1.25" fill="#0173b2"/>
<circle cx="472.5" cy="51.7" r="1.25" fill="#0173b2"/>
<circle cx="432.0" cy="60.0" r="1.25" fill="#de8f05"/>
<circle cx="436.0" cy="62.0" r="1.25" fill="#de8f05"/>
<circle cx="428.0" cy="58.5" r="1.25" fill="#de8f05"/>
<circle cx="399.0" cy="92.5" r="1.25" fill="#0173b2"/>
<circle cx="400.9" cy="93.6" r="1.25" fill="#0173b2"/>
<circle cx="402.6" cy="97.5" r="1.25" fill="#029e73"/>
<circle cx="403.8" cy="106.6" r="0.9" fill="#000000"/>
<circle cx="399.0" cy="112.8" r="1.25" fill="#de8f05"/>
<circle cx="401.2" cy="110.6" r="1.25" fill="#de8f05"/>
<circle cx="403.4" cy="110.6" r="1.25" fill="#de8f05"/>
<circle cx="401.9" cy="115.0" r="1.25" fill="#de8f05"/>
<circle cx="400.5" cy="117.2" r="1.25" fill="#de8f05"/>
<circle cx="404.1" cy="112.8" r="0.9" fill="#000000"/>
<circle cx="400.0" cy="114.0" r="1.25" fill="#de8f05"/>
<circle cx="402.5" cy="112.5" r="1.25" fill="#de8f05"/>
<circle cx="401.0" cy="119.0" r="1.25" fill="#de8f05"/>
<circle cx="484.4" cy="47.8" r="1.25" fill="#0173b2"/>
<circle cx="510.5" cy="34.1" r="1.25" fill="#0173b2"/>
<circle cx="521.0" cy="35.1" r="1.25" fill="#0173b2"/>
<circle cx="503.9" cy="40.8" r="1.25" fill="#0173b2"/>
<circle cx="517.0" cy="29.5" r="1.25" fill="#0173b2"/>
<circle cx="502.1" cy="37.1" r="1.25" fill="#0173b2"/>
<circle cx="507.4" cy="51.7" r="1.25" fill="#0173b2"/>
<circle cx="495.8" cy="51.7" r="1.25" fill="#0173b2"/>
<circle cx="500.7" cy="40.0" r="1.25" fill="#0173b2"/>
<circle cx="494.9" cy="40.1" r="1.25" fill="#0173b2"/>
<circle cx="517.9" cy="33.8" r="1.25" fill="#0173b2"/>
<circle cx="496.9" cy="32.7" r="1.25" fill="#0173b2"/>
<circle cx="508.8" cy="44.8" r="1.25" fill="#0173b2"/>
<circle cx="491.3" cy="55.1" r="1.25" fill="#0173b2"/>
<circle cx="509.8" cy="45.6" r="1.25" fill="#0173b2"/>
<circle cx="509.9" cy="44.1" r="1.25" fill="#0173b2"/>
<circle cx="510.6" cy="47.0" r="1.25" fill="#0173b2"/>
<circle cx="509.3" cy="46.4" r="1.25" fill="#0173b2"/>
<circle cx="492.3" cy="45.9" r="1.25" fill="#0173b2"/>
<circle cx="503.1" cy="49.4" r="1.25" fill="#0173b2"/>
<circle cx="484.5" cy="49.8" r="1.25" fill="#0173b2"/>
<circle cx="499.2" cy="51.5" r="1.25" fill="#0173b2"/>
<circle cx="517.7" cy="42.1" r="1.25" fill="#0173b2"/>
<circle cx="494.3" cy="32.8" r="1.25" fill="#0173b2"/>
<circle cx="501.5" cy="33.4" r="1.25" fill="#0173b2"/>
<circle cx="501.9" cy="45.0" r="1.25" fill="#0173b2"/>
<circle cx="488.2" cy="51.1" r="1.25" fill="#0173b2"/>
<circle cx="500.0" cy="43.2" r="1.25" fill="#0173b2"/>
<circle cx="503.9" cy="36.7" r="1.25" fill="#0173b2"/>
<circle cx="487.4" cy="45.1" r="1.25" fill="#0173b2"/>
<circle cx="492.3" cy="27.4" r="1.25" fill="#0173b2"/>
<circle cx="493.6" cy="48.3" r="1.25" fill="#0173b2"/>
<circle cx="517.1" cy="47.6" r="1.25" fill="#0173b2"/>
<circle cx="486.6" cy="44.5" r="1.25" fill="#0173b2"/>
<circle cx="514.2" cy="38.5" r="1.25" fill="#0173b2"/>
<circle cx="524.1" cy="31.0" r="1.25" fill="#0173b2"/>
<circle cx="515.1" cy="27.9" r="1.25" fill="#0173b2"/>
<circle cx="521.0" cy="39.4" r="1.25" fill="#0173b2"/>
<circle cx="508.3" cy="37.7" r="1.25" fill="#0173b2"/>
<circle cx="512.8" cy="27.1" r="1.25" fill="#0173b2"/>
<circle cx="518.1" cy="35.0" r="1.25" fill="#0173b2"/>
<circle cx="511.4" cy="44.6" r="1.25" fill="#0173b2"/>
<circle cx="501.4" cy="35.8" r="1.25" fill="#0173b2"/>
<circle cx="517.6" cy="42.3" r="1.25" fill="#0173b2"/>
<circle cx="495.8" cy="24.1" r="1.25" fill="#0173b2"/>
<circle cx="519.5" cy="33.9" r="1.25" fill="#0173b2"/>
<circle cx="519.6" cy="43.5" r="1.25" fill="#0173b2"/>
<circle cx="496.5" cy="37.3" r="1.25" fill="#0173b2"/>
<circle cx="522.2" cy="35.5" r="1.25" fill="#0173b2"/>
<circle cx="513.2" cy="43.6" r="1.25" fill="#0173b2"/>
<circle cx="494.5" cy="37.1" r="1.25" fill="#0173b2"/>
<circle cx="508.8" cy="51.3" r="1.25" fill="#0173b2"/>
<circle cx="521.2" cy="42.5" r="1.25" fill="#0173b2"/>
<circle cx="495.0" cy="52.5" r="1.25" fill="#0173b2"/>
<circle cx="518.6" cy="46.5" r="1.25" fill="#0173b2"/>
<circle cx="523.3" cy="34.4" r="1.25" fill="#0173b2"/>
<circle cx="486.7" cy="41.8" r="1.25" fill="#0173b2"/>
<circle cx="518.1" cy="29.1" r="1.25" fill="#0173b2"/>
<circle cx="493.2" cy="43.7" r="1.25" fill="#0173b2"/>
<circle cx="512.9" cy="38.7" r="1.25" fill="#0173b2"/>
<circle cx="492.0" cy="31.1" r="1.25" fill="#0173b2"/>
<circle cx="503.2" cy="25.1" r="1.25" fill="#0173b2"/>
<circle cx="493.2" cy="42.8" r="1.25" fill="#0173b2"/>
<circle cx="506.0" cy="39.1" r="1.25" fill="#0173b2"/>
<circle cx="508.9" cy="28.7" r="1.25" fill="#0173b2"/>
<circle cx="513.9" cy="35.0" r="1.25" fill="#0173b2"/>
<circle cx="507.8" cy="36.4" r="1.25" fill="#0173b2"/>
<circle cx="505.8" cy="27.3" r="1.25" fill="#0173b2"/>
<circle cx="499.4" cy="25.7" r="1.25" fill="#0173b2"/>
<circle cx="510.9" cy="50.2" r="1.25" fill="#0173b2"/>
<circle cx="489.8" cy="43.4" r="1.25" fill="#0173b2"/>
<circle cx="498.1" cy="40.6" r="1.25" fill="#0173b2"/>
<circle cx="504.4" cy="42.3" r="1.25" fill="#0173b2"/>
<circle cx="494.5" cy="50.0" r="1.25" fill="#0173b2"/>
<circle cx="525.5" cy="31.0" r="1.25" fill="#0173b2"/>
<circle cx="521.4" cy="38.4" r="1.25" fill="#0173b2"/>
<circle cx="485.7" cy="43.4" r="1.25" fill="#0173b2"/>
<circle cx="500.5" cy="26.2" r="1.25" fill="#0173b2"/>
<circle cx="525.3" cy="31.2" r="1.25" fill="#0173b2"/>
<circle cx="507.8" cy="45.0" r="1.25" fill="#0173b2"/>
<circle cx="500.3" cy="38.0" r="1.25" fill="#0173b2"/>
<circle cx="490.0" cy="56.7" r="1.25" fill="#0173b2"/>
<circle cx="498.5" cy="54.4" r="1.25" fill="#0173b2"/>
<circle cx="485.0" cy="50.2" r="1.25" fill="#0173b2"/>
<circle cx="514.3" cy="45.2" r="1.25" fill="#0173b2"/>
<circle cx="489.3" cy="49.1" r="1.25" fill="#0173b2"/>
<circle cx="496.1" cy="43.2" r="1.25" fill="#0173b2"/>
<circle cx="497.2" cy="31.2" r="1.25" fill="#0173b2"/>
<circle cx="489.2" cy="46.3" r="1.25" fill="#0173b2"/>
<circle cx="523.9" cy="29.8" r="1.25" fill="#0173b2"/>
<circle cx="502.7" cy="25.4" r="1.25" fill="#0173b2"/>
<circle cx="510.7" cy="38.2" r="1.25" fill="#0173b2"/>
<circle cx="497.9" cy="51.5" r="1.25" fill="#0173b2"/>
<circle cx="504.0" cy="44.5" r="1.25" fill="#0173b2"/>
<circle cx="485.4" cy="47.6" r="1.25" fill="#0173b2"/>
<circle cx="507.4" cy="27.1" r="1.25" fill="#0173b2"/>
<circle cx="521.4" cy="31.5" r="1.25" fill="#0173b2"/>
<circle cx="501.1" cy="27.5" r="1.25" fill="#0173b2"/>
<circle cx="494.9" cy="52.1" r="1.25" fill="#0173b2"/>
<circle cx="497.7" cy="27.9" r="1.25" fill="#0173b2"/>
<circle cx="504.6" cy="33.4" r="1.25" fill="#0173b2"/>
<circle cx="492.2" cy="39.1" r="1.25" fill="#0173b2"/>
<circle cx="495.6" cy="31.2" r="1.25" fill="#0173b2"/>
<circle cx="491.8" cy="35.0" r="1.25" fill="#0173b2"/>
<circle cx="495.7" cy="54.2" r="1.25" fill="#0173b2"/>
<circle cx="485.4" cy="48.1" r="1.25" fill="#0173b2"/>
<circle cx="483.6" cy="51.0" r="1.25" fill="#0173b2"/>
<circle cx="498.0" cy="26.9" r="1.25" fill="#0173b2"/>
<circle cx="506.2" cy="28.6" r="1.25" fill="#0173b2"/>
<circle cx="502.1" cy="54.7" r="1.25" fill="#0173b2"/>
<circle cx="492.5" cy="42.5" r="1.25" fill="#0173b2"/>
<circle cx="517.0" cy="47.5" r="1.25" fill="#0173b2"/>
<circle cx="486.8" cy="43.8" r="1.25" fill="#0173b2"/>
<circle cx="504.8" cy="31.8" r="1.25" fill="#0173b2"/>
<circle cx="492.0" cy="43.9" r="1.25" fill="#0173b2"/>
<circle cx="508.7" cy="29.2" r="1.25" fill="#0173b2"/>
<circle cx="485.8" cy="48.3" r="1.25" fill="#0173b2"/>
<circle cx="500.9" cy="47.9" r="1.25" fill="#0173b2"/>
<circle cx="485.3" cy="51.1" r="1.25" fill="#0173b2"/>
<circle cx="497.7" cy="52.2" r="1.25" fill="#0173b2"/>
<circle cx="521.1" cy="39.6" r="1.25" fill="#0173b2"/>
<circle cx="483.6" cy="54.7" r="1.25" fill="#0173b2"/>
<circle cx="504.0" cy="53.3" r="1.25" fill="#0173b2"/>
<circle cx="494.7" cy="28.6" r="1.25" fill="#0173b2"/>
<circle cx="519.7" cy="35.1" r="1.25" fill="#0173b2"/>
<circle cx="505.9" cy="37.9" r="1.25" fill="#0173b2"/>
<circle cx="505.7" cy="26.2" r="1.25" fill="#0173b2"/>
<circle cx="521.2" cy="33.5" r="1.25" fill="#0173b2"/>
<circle cx="514.3" cy="35.6" r="1.25" fill="#0173b2"/>
<circle cx="504.8" cy="40.4" r="1.25" fill="#0173b2"/>
<circle cx="506.3" cy="41.2" r="1.25" fill="#0173b2"/>
<circle cx="492.8" cy="28.5" r="1.25" fill="#0173b2"/>
<circle cx="487.2" cy="47.1" r="1.25" fill="#0173b2"/>
<circle cx="509.4" cy="42.7" r="1.25" fill="#0173b2"/>
<circle cx="506.0" cy="47.2" r="1.25" fill="#0173b2"/>
<circle cx="487.4" cy="53.2" r="1.25" fill="#0173b2"/>
<circle cx="488.3" cy="39.7" r="1.25" fill="#0173b2"/>
<circle cx="505.0" cy="32.0" r="1.25" fill="#0173b2"/>
<circle cx="489.0" cy="43.2" r="1.25" fill="#0173b2"/>
<circle cx="508.2" cy="48.8" r="1.25" fill="#0173b2"/>
<circle cx="490.2" cy="51.6" r="1.25" fill="#0173b2"/>
<circle cx="524.3" cy="35.9" r="1.25" fill="#0173b2"/>
<circle cx="501.5" cy="52.1" r="1.25" fill="#0173b2"/>
<circle cx="506.1" cy="36.1" r="1.25" fill="#0173b2"/>
<circle cx="497.9" cy="30.6" r="1.25" fill="#0173b2"/>
<circle cx="497.7" cy="37.6" r="1.25" fill="#0173b2"/>
<circle cx="524.2" cy="30.9" r="1.25" fill="#0173b2"/>
<circle cx="501.6" cy="44.7" r="1.25" fill="#0173b2"/>
<circle cx="499.0" cy="41.0" r="1.25" fill="#0173b2"/>
<circle cx="510.9" cy="51.0" r="1.25" fill="#0173b2"/>
<circle cx="484.4" cy="45.0" r="1.25" fill="#0173b2"/>
<circle cx="494.6" cy="46.3" r="1.25" fill="#0173b2"/>
<circle cx="495.0" cy="41.4" r="1.25" fill="#0173b2"/>
<circle cx="494.0" cy="40.6" r="1.25" fill="#0173b2"/>
<circle cx="495.6" cy="32.9" r="1.25" fill="#0173b2"/>
<circle cx="505.6" cy="31.6" r="1.25" fill="#0173b2"/>
<circle cx="503.5" cy="41.1" r="1.25" fill="#0173b2"/>
<circle cx="500.9" cy="32.3" r="1.25" fill="#0173b2"/>
<circle cx="493.7" cy="25.1" r="1.25" fill="#0173b2"/>
<circle cx="507.0" cy="52.1" r="1.25" fill="#0173b2"/>
<circle cx="509.9" cy="42.4" r="1.25" fill="#0173b2"/>
<circle cx="511.6" cy="29.1" r="1.25" fill="#0173b2"/>
<circle cx="514.3" cy="38.5" r="1.25" fill="#0173b2"/>
<circle cx="507.1" cy="44.0" r="1.25" fill="#0173b2"/>
<circle cx="503.6" cy="33.1" r="1.25" fill="#0173b2"/>
<circle cx="493.6" cy="29.9" r="1.25" fill="#0173b2"/>
<circle cx="505.6" cy="35.7" r="1.25" fill="#0173b2"/>
<circle cx="498.5" cy="52.9" r="1.25" fill="#0173b2"/>
<circle cx="493.4" cy="41.9" r="1.25" fill="#0173b2"/>
<circle cx="504.6" cy="32.2" r="1.25" fill="#0173b2"/>
<circle cx="517.0" cy="27.6" r="1.25" fill="#0173b2"/>
<circle cx="485.9" cy="53.3" r="1.25" fill="#0173b2"/>
<circle cx="502.3" cy="24.1" r="1.25" fill="#0173b2"/>
<circle cx="500.0" cy="37.7" r="1.25" fill="#0173b2"/>
<circle cx="492.9" cy="56.4" r="1.25" fill="#0173b2"/>
<circle cx="485.9" cy="37.1" r="1.25" fill="#0173b2"/>
<circle cx="478.1" cy="41.0" r="1.25" fill="#0173b2"/>
<circle cx="481.6" cy="48.8" r="1.25" fill="#0173b2"/>
<circle cx="480.8" cy="49.7" r="1.25" fill="#0173b2"/>
<circle cx="474.0" cy="51.4" r="1.25" fill="#0173b2"/>
<circle cx="482.9" cy="44.0" r="1.25" fill="#0173b2"/>
<circle cx="479.6" cy="49.7" r="1.25" fill="#0173b2"/>
<circle cx="478.9" cy="43.0" r="1.25" fill="#0173b2"/>
<circle cx="480.4" cy="48.5" r="1.25" fill="#0173b2"/>
<circle cx="477.2" cy="41.8" r="1.25" fill="#0173b2"/>
<circle cx="482.3" cy="41.7" r="1.25" fill="#0173b2"/>
<circle cx="477.8" cy="49.7" r="1.25" fill="#0173b2"/>
<circle cx="480.2" cy="37.7" r="1.25" fill="#0173b2"/>
<circle cx="477.4" cy="36.9" r="1.25" fill="#0173b2"/>
<circle cx="482.7" cy="45.6" r="1.25" fill="#0173b2"/>
<circle cx="473.2" cy="52.4" r="1.25" fill="#0173b2"/>
<circle cx="477.8" cy="50.9" r="1.25" fill="#0173b2"/>
<circle cx="475.5" cy="42.5" r="1.25" fill="#0173b2"/>
<circle cx="481.2" cy="52.4" r="1.25" fill="#0173b2"/>
<circle cx="481.6" cy="47.7" r="1.25" fill="#0173b2"/>
<circle cx="479.1" cy="41.2" r="1.25" fill="#0173b2"/>
<circle cx="483.1" cy="41.0" r="1.25" fill="#0173b2"/>
<circle cx="481.7" cy="36.0" r="1.25" fill="#0173b2"/>
<circle cx="478.8" cy="42.0" r="1.25" fill="#0173b2"/>
<circle cx="482.4" cy="45.5" r="1.25" fill="#0173b2"/>
<circle cx="481.0" cy="42.8" r="1.25" fill="#0173b2"/>
<circle cx="478.2" cy="44.6" r="1.25" fill="#0173b2"/>
<circle cx="487.4" cy="37.4" r="1.25" fill="#0173b2"/>
<circle cx="477.7" cy="53.6" r="1.25" fill="#0173b2"/>
<circle cx="473.7" cy="51.9" r="1.25" fill="#0173b2"/>
<circle cx="513.3" cy="69.2" r="1.25" fill="#0173b2"/>
<circle cx="491.7" cy="60.8" r="1.25" fill="#0173b2"/>
<circle cx="485.9" cy="64.0" r="1.25" fill="#0173b2"/>
<circle cx="508.6" cy="56.5" r="1.25" fill="#0173b2"/>
<circle cx="518.5" cy="55.3" r="1.25" fill="#0173b2"/>
<circle cx="492.4" cy="69.7" r="1.25" fill="#0173b2"/>
<circle cx="507.7" cy="65.0" r="1.25" fill="#0173b2"/>
<circle cx="486.6" cy="60.4" r="1.25" fill="#0173b2"/>
<circle cx="510.9" cy="61.4" r="1.25" fill="#0173b2"/>
<circle cx="484.5" cy="67.5" r="1.25" fill="#0173b2"/>
<circle cx="485.2" cy="61.1" r="1.25" fill="#0173b2"/>
<circle cx="520.4" cy="63.6" r="1.25" fill="#0173b2"/>
<circle cx="476.7" cy="67.8" r="1.25" fill="#0173b2"/>
<circle cx="493.4" cy="66.3" r="1.25" fill="#0173b2"/>
<circle cx="524.8" cy="62.7" r="1.25" fill="#0173b2"/>
<circle cx="494.8" cy="59.1" r="1.25" fill="#0173b2"/>
<circle cx="524.1" cy="62.7" r="1.25" fill="#0173b2"/>
<circle cx="522.2" cy="55.5" r="1.25" fill="#0173b2"/>
<circle cx="492.4" cy="63.3" r="1.25" fill="#0173b2"/>
<circle cx="527.3" cy="53.6" r="1.25" fill="#0173b2"/>
<circle cx="497.0" cy="66.4" r="1.25" fill="#0173b2"/>
<circle cx="523.3" cy="60.1" r="1.25" fill="#0173b2"/>
<circle cx="518.8" cy="53.6" r="1.25" fill="#0173b2"/>
<circle cx="485.4" cy="56.7" r="1.25" fill="#0173b2"/>
<circle cx="491.7" cy="62.2" r="1.25" fill="#0173b2"/>
<circle cx="482.2" cy="61.4" r="1.25" fill="#0173b2"/>
<circle cx="496.8" cy="57.9" r="1.25" fill="#0173b2"/>
<circle cx="520.6" cy="56.5" r="1.25" fill="#0173b2"/>
<circle cx="477.9" cy="64.9" r="1.25" fill="#0173b2"/>
<circle cx="490.6" cy="69.5" r="1.25" fill="#0173b2"/>
<circle cx="482.9" cy="59.0" r="1.25" fill="#0173b2"/>
<circle cx="484.6" cy="56.5" r="1.25" fill="#0173b2"/>
<circle cx="515.0" cy="57.2" r="1.25" fill="#0173b2"/>
<circle cx="527.8" cy="52.6" r="1.25" fill="#0173b2"/>
<circle cx="488.3" cy="59.2" r="1.25" fill="#0173b2"/>
<circle cx="483.1" cy="66.1" r="1.25" fill="#0173b2"/>
<circle cx="507.7" cy="56.9" r="1.25" fill="#0173b2"/>
<circle cx="489.3" cy="63.4" r="1.25" fill="#0173b2"/>
<circle cx="482.6" cy="60.9" r="1.25" fill="#0173b2"/>
<circle cx="517.7" cy="57.4" r="1.25" fill="#0173b2"/>
<circle cx="511.5" cy="62.3" r="1.25" fill="#0173b2"/>
<circle cx="522.0" cy="55.7" r="1.25" fill="#0173b2"/>
<circle cx="506.3" cy="56.8" r="1.25" fill="#0173b2"/>
<circle cx="514.7" cy="54.6" r="1.25" fill="#0173b2"/>
<circle cx="522.5" cy="50.6" r="1.25" fill="#0173b2"/>
<circle cx="512.7" cy="64.9" r="1.25" fill="#0173b2"/>
<circle cx="495.0" cy="58.1" r="1.25" fill="#0173b2"/>
<circle cx="511.6" cy="65.9" r="1.25" fill="#0173b2"/>
<circle cx="489.4" cy="69.9" r="1.25" fill="#0173b2"/>
<circle cx="495.0" cy="64.0" r="1.25" fill="#0173b2"/>
<circle cx="492.8" cy="64.2" r="1.25" fill="#0173b2"/>
<circle cx="485.7" cy="69.7" r="1.25" fill="#0173b2"/>
<circle cx="506.8" cy="66.3" r="1.25" fill="#0173b2"/>
<circle cx="489.8" cy="58.7" r="1.25" fill="#0173b2"/>
<circle cx="513.0" cy="56.4" r="1.25" fill="#0173b2"/>
<circle cx="536.4" cy="53.2" r="1.25" fill="#0173b2"/>
<circle cx="528.2" cy="53.2" r="1.25" fill="#0173b2"/>
<circle cx="532.9" cy="53.1" r="1.25" fill="#0173b2"/>
<circle cx="535.0" cy="51.9" r="1.25" fill="#0173b2"/>
<circle cx="529.1" cy="45.6" r="1.25" fill="#0173b2"/>
<circle cx="533.0" cy="49.7" r="1.25" fill="#0173b2"/>
<circle cx="530.0" cy="55.2" r="1.25" fill="#0173b2"/>
<circle cx="532.0" cy="51.0" r="1.25" fill="#0173b2"/>
<circle cx="527.6" cy="49.5" r="1.25" fill="#0173b2"/>
<circle cx="525.2" cy="48.4" r="1.25" fill="#0173b2"/>
<circle cx="532.5" cy="47.6" r="1.25" fill="#0173b2"/>
<circle cx="525.8" cy="50.7" r="1.25" fill="#0173b2"/>
<circle cx="486.8" cy="27.5" r="1.25" fill="#d55e00"/>
<circle cx="489.0" cy="27.5" r="1.25" fill="#de8f05"/>
<circle cx="470.8" cy="35.9" r="1.25" fill="#de8f05"/>
<circle cx="486.5" cy="36.6" r="1.25" fill="#de8f05"/>
<circle cx="486.8" cy="48.3" r="1.25" fill="#de8f05"/>
<circle cx="489.7" cy="52.6" r="1.25" fill="#de8f05"/>
<circle cx="497.7" cy="56.3" r="1.25" fill="#de8f05"/>
<circle cx="494.8" cy="66.5" r="1.25" fill="#de8f05"/>
<circle cx="496.3" cy="71.5" r="1.25" fill="#de8f05"/>
<circle cx="533.4" cy="52.6" r="1.25" fill="#de8f05"/>
<circle cx="536.3" cy="54.1" r="1.25" fill="#de8f05"/>
<circle cx="475.9" cy="67.9" r="1.25" fill="#de8f05"/>
<circle cx="465.7" cy="68.6" r="1.25" fill="#d55e00"/>
<circle cx="536.3" cy="55.1" r="0.9" fill="#000000"/>
<circle cx="477.4" cy="49.0" r="0.9" fill="#000000"/>
<circle cx="478.8" cy="51.9" r="0.9" fill="#000000"/>
<circle cx="485.4" cy="54.1" r="0.9" fill="#000000"/>
<circle cx="502.8" cy="43.9" r="0.9" fill="#000000"/>
<circle cx="505.7" cy="43.2" r="0.9" fill="#000000"/>
<circle cx="521.0" cy="49.7" r="0.9" fill="#000000"/>
<circle cx="480.3" cy="66.2" r="0.9" fill="#000000"/>
<circle cx="491.9" cy="68.6" r="0.9" fill="#000000"/>
<circle cx="474.5" cy="70.8" r="0.9" fill="#000000"/>
<circle cx="486.8" cy="76.5" r="1.25" fill="#0173b2"/>
<circle cx="491.9" cy="83.0" r="1.25" fill="#0173b2"/>
<circle cx="506.5" cy="73.5" r="1.25" fill="#0173b2"/>
<circle cx="507.5" cy="72.5" r="1.25" fill="#0173b2"/>
<circle cx="503.5" cy="96.8" r="1.25" fill="#0173b2"/>
<circle cx="504.5" cy="97.5" r="1.25" fill="#0173b2"/>
<circle cx="499.9" cy="100.5" r="1.25" fill="#de8f05"/>
<circle cx="500.6" cy="103.4" r="1.25" fill="#0173b2"/>
<circle cx="501.4" cy="104.5" r="1.25" fill="#0173b2"/>
<circle cx="499.2" cy="117.2" r="1.25" fill="#0173b2"/>
<circle cx="515.3" cy="102.8" r="1.25" fill="#0173b2"/>
<circle cx="517.4" cy="105.3" r="1.25" fill="#0173b2"/>
<circle cx="520.5" cy="104.5" r="1.25" fill="#0173b2"/>
<circle cx="522.2" cy="105.3" r="1.25" fill="#0173b2"/>
<circle cx="524.0" cy="106.8" r="1.25" fill="#0173b2"/>
<circle cx="518.8" cy="107.4" r="1.25" fill="#0173b2"/>
<circle cx="515.3" cy="110.5" r="1.25" fill="#0173b2"/>
<circle cx="517.1" cy="112.2" r="1.25" fill="#0173b2"/>
<circle cx="519.5" cy="111.5" r="1.25" fill="#0173b2"/>
<circle cx="521.7" cy="111.7" r="1.25" fill="#0173b2"/>
<circle cx="523.4" cy="110.5" r="1.25" fill="#0173b2"/>
<circle cx="520.2" cy="110.5" r="1.25" fill="#de8f05"/>
<circle cx="522.2" cy="108.2" r="0.9" fill="#000000"/>
<circle cx="525.1" cy="108.8" r="0.9" fill="#000000"/>
<circle cx="526.0" cy="112.2" r="0.9" fill="#000000"/>
<circle cx="529.7" cy="113.1" r="0.9" fill="#000000"/>
<circle cx="526.8" cy="114.8" r="1.25" fill="#de8f05"/>
<circle cx="528.0" cy="115.1" r="1.25" fill="#de8f05"/>
<circle cx="526.5" cy="115.5" r="1.25" fill="#de8f05"/>
<circle cx="519.0" cy="104.0" r="1.25" fill="#0173b2"/>
<circle cx="520.0" cy="107.0" r="1.25" fill="#0173b2"/>
<circle cx="517.0" cy="109.0" r="1.25" fill="#0173b2"/>
<circle cx="521.0" cy="109.0" r="1.25" fill="#0173b2"/>
<circle cx="509.2" cy="115.8" r="1.25" fill="#0173b2"/>
<circle cx="510.8" cy="115.3" r="1.25" fill="#0173b2"/>
<circle cx="512.3" cy="114.7" r="1.25" fill="#0173b2"/>
<circle cx="494.1" cy="119.3" r="1.25" fill="#0173b2"/>
<circle cx="496.9" cy="121.2" r="1.25" fill="#0173b2"/>
<circle cx="496.3" cy="117.8" r="1.25" fill="#0173b2"/>
<circle cx="495.2" cy="121.7" r="1.25" fill="#0173b2"/>
<circle cx="493.0" cy="123.2" r="1.25" fill="#0173b2"/>
<circle cx="491.1" cy="119.5" r="1.25" fill="#0173b2"/>
<circle cx="491.0" cy="118.1" r="1.25" fill="#0173b2"/>
<circle cx="495.6" cy="120.3" r="1.25" fill="#0173b2"/>
<circle cx="489.1" cy="119.2" r="1.25" fill="#0173b2"/>
<circle cx="493.1" cy="119.6" r="1.25" fill="#0173b2"/>
<circle cx="496.2" cy="117.1" r="1.25" fill="#0173b2"/>
<circle cx="494.1" cy="117.3" r="1.25" fill="#0173b2"/>
<circle cx="493.3" cy="120.2" r="1.25" fill="#0173b2"/>
<circle cx="490.0" cy="121.2" r="1.25" fill="#0173b2"/>
<circle cx="495.0" cy="121.9" r="1.25" fill="#0173b2"/>
<circle cx="498.2" cy="122.2" r="1.25" fill="#0173b2"/>
<circle cx="490.7" cy="118.5" r="1.25" fill="#0173b2"/>
<circle cx="496.4" cy="123.9" r="1.25" fill="#0173b2"/>
<circle cx="491.2" cy="118.0" r="1.25" fill="#0173b2"/>
<circle cx="494.9" cy="123.9" r="1.25" fill="#0173b2"/>
<circle cx="496.5" cy="123.8" r="1.25" fill="#0173b2"/>
<circle cx="496.1" cy="119.2" r="1.25" fill="#0173b2"/>
<circle cx="489.9" cy="123.7" r="1.25" fill="#0173b2"/>
<circle cx="491.4" cy="119.6" r="1.25" fill="#0173b2"/>
<circle cx="494.0" cy="119.6" r="1.25" fill="#0173b2"/>
<circle cx="497.0" cy="118.5" r="1.25" fill="#0173b2"/>
<circle cx="488.4" cy="121.4" r="1.25" fill="#0173b2"/>
<circle cx="494.8" cy="123.7" r="1.25" fill="#0173b2"/>
<circle cx="495.7" cy="124.4" r="1.25" fill="#0173b2"/>
<circle cx="498.3" cy="120.7" r="1.25" fill="#0173b2"/>
<circle cx="493.4" cy="117.7" r="1.25" fill="#0173b2"/>
<circle cx="491.2" cy="121.5" r="1.25" fill="#0173b2"/>
<circle cx="488.8" cy="122.5" r="1.25" fill="#0173b2"/>
<circle cx="489.7" cy="120.3" r="1.25" fill="#0173b2"/>
<circle cx="488.3" cy="120.3" r="1.25" fill="#0173b2"/>
<circle cx="490.0" cy="122.8" r="1.25" fill="#0173b2"/>
<circle cx="497.3" cy="123.4" r="1.25" fill="#0173b2"/>
<circle cx="492.6" cy="118.8" r="1.25" fill="#0173b2"/>
<circle cx="495.2" cy="120.9" r="1.25" fill="#0173b2"/>
<circle cx="492.5" cy="119.3" r="1.25" fill="#0173b2"/>
<circle cx="492.7" cy="122.3" r="1.25" fill="#0173b2"/>
<circle cx="489.7" cy="119.0" r="1.25" fill="#0173b2"/>
<circle cx="492.8" cy="121.4" r="1.25" fill="#0173b2"/>
<circle cx="491.7" cy="118.1" r="1.25" fill="#0173b2"/>
<circle cx="488.8" cy="119.2" r="1.25" fill="#0173b2"/>
<circle cx="32.6" cy="179.0" r="1.25" fill="#0173b2"/>
<circle cx="35.2" cy="176.5" r="1.25" fill="#0173b2"/>
<circle cx="38.4" cy="174.9" r="1.25" fill="#de8f05"/>
<circle cx="34.5" cy="181.5" r="1.25" fill="#0173b2"/>
<circle cx="36.5" cy="183.5" r="1.25" fill="#de8f05"/>
<circle cx="37.1" cy="187.3" r="1.25" fill="#de8f05"/>
<circle cx="37.7" cy="189.2" r="1.25" fill="#0173b2"/>
<circle cx="32.0" cy="180.9" r="1.25" fill="#0173b2"/>
<circle cx="40.3" cy="182.8" r="1.25" fill="#0173b2"/>
<circle cx="33.9" cy="184.1" r="1.25" fill="#0173b2"/>
<circle cx="42.8" cy="184.7" r="0.9" fill="#000000"/>
<circle cx="44.7" cy="191.1" r="0.9" fill="#000000"/>
<circle cx="46.0" cy="187.9" r="1.25" fill="#0173b2"/>
<circle cx="48.5" cy="186.0" r="1.25" fill="#0173b2"/>
<circle cx="50.5" cy="183.5" r="1.25" fill="#0173b2"/>
<circle cx="52.4" cy="181.5" r="1.25" fill="#0173b2"/>
<circle cx="54.9" cy="182.2" r="1.25" fill="#0173b2"/>
<circle cx="57.5" cy="184.7" r="1.25" fill="#0173b2"/>
<circle cx="55.5" cy="187.3" r="1.25" fill="#0173b2"/>
<circle cx="52.4" cy="188.5" r="1.25" fill="#de8f05"/>
<circle cx="49.8" cy="189.8" r="1.25" fill="#0173b2"/>
<circle cx="47.3" cy="189.2" r="1.25" fill="#0173b2"/>
<circle cx="49.2" cy="181.5" r="1.25" fill="#de8f05"/>
<circle cx="60.0" cy="185.4" r="1.25" fill="#0173b2"/>
<circle cx="63.2" cy="184.1" r="1.25" fill="#de8f05"/>
<circle cx="66.4" cy="185.4" r="1.25" fill="#de8f05"/>
<circle cx="67.0" cy="188.5" r="1.25" fill="#0173b2"/>
<circle cx="63.2" cy="189.8" r="1.25" fill="#029e73"/>
<circle cx="68.3" cy="191.1" r="1.25" fill="#de8f05"/>
<circle cx="69.5" cy="189.2" r="1.25" fill="#0173b2"/>
<circle cx="61.9" cy="173.9" r="1.25" fill="#d55e00"/>
<circle cx="64.5" cy="175.2" r="1.25" fill="#0173b2"/>
<circle cx="65.7" cy="173.9" r="1.25" fill="#0173b2"/>
<circle cx="67.6" cy="171.4" r="1.25" fill="#0173b2"/>
<circle cx="68.9" cy="170.1" r="1.25" fill="#de8f05"/>
<circle cx="70.2" cy="170.7" r="1.25" fill="#0173b2"/>
<circle cx="63.2" cy="177.1" r="1.25" fill="#0173b2"/>
<circle cx="65.7" cy="177.1" r="0.9" fill="#000000"/>
<circle cx="68.3" cy="178.4" r="0.9" fill="#000000"/>
<circle cx="65.1" cy="170.7" r="0.9" fill="#000000"/>
<circle cx="62.5" cy="176.0" r="1.25" fill="#0173b2"/>
<circle cx="41.5" cy="191.7" r="1.25" fill="#de8f05"/>
<circle cx="44.1" cy="195.5" r="1.25" fill="#0173b2"/>
<circle cx="45.4" cy="198.7" r="1.25" fill="#d55e00"/>
<circle cx="42.2" cy="200.0" r="1.25" fill="#0173b2"/>
<circle cx="58.7" cy="193.0" r="1.25" fill="#d55e00"/>
<circle cx="59.4" cy="198.7" r="1.25" fill="#de8f05"/>
<circle cx="72.1" cy="191.1" r="0.9" fill="#000000"/>
<circle cx="91.2" cy="186.0" r="1.25" fill="#0173b2"/>
<circle cx="92.5" cy="190.5" r="1.25" fill="#de8f05"/>
<circle cx="88.6" cy="193.0" r="1.25" fill="#0173b2"/>
<circle cx="86.1" cy="194.9" r="1.25" fill="#0173b2"/>
<circle cx="89.9" cy="194.9" r="1.25" fill="#0173b2"/>
<circle cx="87.4" cy="196.8" r="1.25" fill="#0173b2"/>
<circle cx="91.2" cy="198.1" r="1.25" fill="#0173b2"/>
<circle cx="93.7" cy="185.4" r="1.25" fill="#0173b2"/>
<circle cx="74.6" cy="194.9" r="1.25" fill="#0173b2"/>
<circle cx="72.1" cy="198.7" r="1.25" fill="#0173b2"/>
<circle cx="75.3" cy="198.7" r="1.25" fill="#0173b2"/>
<circle cx="77.2" cy="197.5" r="1.25" fill="#0173b2"/>
<circle cx="78.5" cy="200.6" r="1.25" fill="#0173b2"/>
<circle cx="81.0" cy="203.2" r="1.25" fill="#0173b2"/>
<circle cx="84.8" cy="201.9" r="1.25" fill="#0173b2"/>
<circle cx="86.1" cy="203.8" r="1.25" fill="#0173b2"/>
<circle cx="88.6" cy="205.7" r="1.25" fill="#0173b2"/>
<circle cx="72.7" cy="201.9" r="1.25" fill="#0173b2"/>
<circle cx="75.3" cy="204.5" r="1.25" fill="#de8f05"/>
<circle cx="81.0" cy="205.7" r="1.25" fill="#de8f05"/>
<circle cx="84.2" cy="200.0" r="0.9" fill="#000000"/>
<circle cx="74.0" cy="203.2" r="1.25" fill="#0173b2"/>
<circle cx="37.7" cy="205.7" r="1.25" fill="#0173b2"/>
<circle cx="45.4" cy="206.4" r="1.25" fill="#de8f05"/>
<circle cx="47.3" cy="205.1" r="0.9" fill="#000000"/>
<circle cx="36.5" cy="209.5" r="1.25" fill="#de8f05"/>
<circle cx="44.1" cy="209.5" r="1.25" fill="#0173b2"/>
<circle cx="39.0" cy="210.2" r="1.25" fill="#0173b2"/>
<circle cx="52.4" cy="208.9" r="1.25" fill="#029e73"/>
<circle cx="54.9" cy="207.0" r="1.25" fill="#de8f05"/>
<circle cx="57.5" cy="209.5" r="1.25" fill="#0173b2"/>
<circle cx="58.7" cy="204.5" r="1.25" fill="#0173b2"/>
<circle cx="61.9" cy="205.7" r="1.25" fill="#0173b2"/>
<circle cx="67.0" cy="204.5" r="1.25" fill="#0173b2"/>
<circle cx="68.9" cy="207.0" r="1.25" fill="#0173b2"/>
<circle cx="66.4" cy="208.9" r="1.25" fill="#de8f05"/>
<circle cx="68.9" cy="210.8" r="1.25" fill="#de8f05"/>
<circle cx="73.4" cy="210.8" r="1.25" fill="#0173b2"/>
<circle cx="75.9" cy="208.9" r="1.25" fill="#0173b2"/>
<circle cx="41.5" cy="212.7" r="1.25" fill="#0173b2"/>
<circle cx="37.7" cy="213.4" r="1.25" fill="#0173b2"/>
<circle cx="54.3" cy="212.1" r="1.25" fill="#0173b2"/>
<circle cx="84.8" cy="212.7" r="1.25" fill="#0173b2"/>
<circle cx="36.5" cy="211.4" r="1.25" fill="#de8f05"/>
<circle cx="37.7" cy="213.9" r="1.25" fill="#0173b2"/>
<circle cx="37.1" cy="208.8" r="1.25" fill="#0173b2"/>
<circle cx="39.0" cy="207.5" r="1.25" fill="#0173b2"/>
<circle cx="41.5" cy="209.5" r="1.25" fill="#de8f05"/>
<circle cx="44.1" cy="211.4" r="1.25" fill="#0173b2"/>
<circle cx="40.9" cy="214.5" r="1.25" fill="#0173b2"/>
<circle cx="42.8" cy="217.7" r="1.25" fill="#0173b2"/>
<circle cx="45.4" cy="220.3" r="1.25" fill="#029e73"/>
<circle cx="46.0" cy="222.2" r="1.25" fill="#0173b2"/>
<circle cx="47.9" cy="224.7" r="1.25" fill="#0173b2"/>
<circle cx="47.3" cy="215.8" r="0.9" fill="#000000"/>
<circle cx="44.7" cy="206.9" r="1.25" fill="#de8f05"/>
<circle cx="51.7" cy="208.8" r="1.25" fill="#029e73"/>
<circle cx="54.3" cy="207.5" r="1.25" fill="#de8f05"/>
<circle cx="54.9" cy="210.7" r="1.25" fill="#0173b2"/>
<circle cx="51.7" cy="212.0" r="0.9" fill="#000000"/>
<circle cx="49.8" cy="213.9" r="1.25" fill="#0173b2"/>
<circle cx="55.5" cy="215.2" r="1.25" fill="#de8f05"/>
<circle cx="56.8" cy="217.7" r="1.25" fill="#0173b2"/>
<circle cx="54.3" cy="220.9" r="1.25" fill="#de8f05"/>
<circle cx="59.4" cy="213.9" r="1.25" fill="#0173b2"/>
<circle cx="59.4" cy="220.3" r="1.25" fill="#0173b2"/>
<circle cx="60.0" cy="222.2" r="1.25" fill="#0173b2"/>
<circle cx="52.4" cy="225.4" r="1.25" fill="#0173b2"/>
<circle cx="54.3" cy="227.9" r="1.25" fill="#0173b2"/>
<circle cx="51.7" cy="227.3" r="1.25" fill="#0173b2"/>
<circle cx="60.6" cy="226.6" r="1.25" fill="#0173b2"/>
<circle cx="62.5" cy="228.5" r="1.25" fill="#0173b2"/>
<circle cx="51.1" cy="232.4" r="1.25" fill="#0173b2"/>
<circle cx="51.1" cy="235.5" r="1.25" fill="#de8f05"/>
<circle cx="53.6" cy="236.8" r="1.25" fill="#0173b2"/>
<circle cx="54.9" cy="238.7" r="1.25" fill="#0173b2"/>
<circle cx="56.2" cy="236.2" r="1.25" fill="#de8f05"/>
<circle cx="58.7" cy="234.9" r="1.25" fill="#0173b2"/>
<circle cx="60.0" cy="232.4" r="1.25" fill="#029e73"/>
<circle cx="62.5" cy="233.0" r="1.25" fill="#de8f05"/>
<circle cx="65.7" cy="230.5" r="1.25" fill="#d55e00"/>
<circle cx="61.0" cy="233.5" r="1.25" fill="#0173b2"/>
<circle cx="65.7" cy="208.8" r="1.25" fill="#0173b2"/>
<circle cx="67.6" cy="210.7" r="1.25" fill="#de8f05"/>
<circle cx="68.3" cy="206.9" r="1.25" fill="#0173b2"/>
<circle cx="72.7" cy="222.2" r="0.9" fill="#000000"/>
<circle cx="68.9" cy="224.7" r="0.9" fill="#000000"/>
<circle cx="73.4" cy="211.4" r="1.25" fill="#0173b2"/>
<circle cx="75.3" cy="210.7" r="1.25" fill="#de8f05"/>
<circle cx="77.2" cy="215.2" r="1.25" fill="#0173b2"/>
<circle cx="75.9" cy="217.1" r="1.25" fill="#de8f05"/>
<circle cx="84.8" cy="212.6" r="1.25" fill="#0173b2"/>
<circle cx="90.5" cy="214.5" r="0.9" fill="#000000"/>
<circle cx="88.0" cy="219.0" r="1.25" fill="#0173b2"/>
<circle cx="89.9" cy="221.5" r="0.9" fill="#000000"/>
<circle cx="91.8" cy="223.5" r="1.25" fill="#0173b2"/>
<circle cx="93.7" cy="225.4" r="1.25" fill="#de8f05"/>
<circle cx="82.9" cy="232.4" r="1.25" fill="#0173b2"/>
<circle cx="86.1" cy="235.5" r="1.25" fill="#0173b2"/>
<circle cx="89.9" cy="231.7" r="0.9" fill="#000000"/>
<circle cx="91.2" cy="229.2" r="1.25" fill="#0173b2"/>
<circle cx="93.7" cy="227.9" r="1.25" fill="#0173b2"/>
<circle cx="85.5" cy="238.1" r="1.25" fill="#029e73"/>
<circle cx="81.6" cy="241.3" r="1.25" fill="#0173b2"/>
<circle cx="77.2" cy="240.6" r="0.9" fill="#000000"/>
<circle cx="78.5" cy="244.5" r="1.25" fill="#0173b2"/>
<circle cx="77.2" cy="246.4" r="0.9" fill="#000000"/>
<circle cx="79.7" cy="248.3" r="1.25" fill="#0173b2"/>
<circle cx="81.6" cy="251.5" r="1.25" fill="#0173b2"/>
<circle cx="84.8" cy="248.9" r="1.25" fill="#de8f05"/>
<circle cx="87.4" cy="247.0" r="1.25" fill="#0173b2"/>
<circle cx="89.3" cy="246.4" r="1.25" fill="#0173b2"/>
<circle cx="82.3" cy="243.2" r="1.25" fill="#0173b2"/>
<circle cx="90.8" cy="191.4" r="1.25" fill="#de8f05"/>
<circle cx="89.4" cy="195.5" r="1.25" fill="#0173b2"/>
<circle cx="92.1" cy="194.8" r="1.25" fill="#de8f05"/>
<circle cx="94.9" cy="194.1" r="0.9" fill="#000000"/>
<circle cx="96.3" cy="194.8" r="1.25" fill="#de8f05"/>
<circle cx="99.0" cy="191.4" r="1.25" fill="#0173b2"/>
<circle cx="101.1" cy="190.7" r="1.25" fill="#de8f05"/>
<circle cx="90.8" cy="199.0" r="1.25" fill="#0173b2"/>
<circle cx="93.5" cy="199.7" r="1.25" fill="#0173b2"/>
<circle cx="99.0" cy="197.6" r="0.9" fill="#000000"/>
<circle cx="99.0" cy="200.4" r="1.25" fill="#de8f05"/>
<circle cx="88.7" cy="203.8" r="0.9" fill="#000000"/>
<circle cx="90.1" cy="207.3" r="1.25" fill="#0173b2"/>
<circle cx="106.0" cy="207.3" r="0.9" fill="#000000"/>
<circle cx="105.3" cy="210.7" r="1.25" fill="#de8f05"/>
<circle cx="103.9" cy="213.5" r="1.25" fill="#0173b2"/>
<circle cx="106.6" cy="215.6" r="0.9" fill="#000000"/>
<circle cx="102.5" cy="216.2" r="1.25" fill="#0173b2"/>
<circle cx="100.4" cy="218.3" r="1.25" fill="#de8f05"/>
<circle cx="104.6" cy="219.7" r="1.25" fill="#de8f05"/>
<circle cx="99.0" cy="220.4" r="0.9" fill="#000000"/>
<circle cx="90.8" cy="214.9" r="0.9" fill="#000000"/>
<circle cx="95.6" cy="215.6" r="1.25" fill="#0173b2"/>
<circle cx="90.1" cy="219.7" r="1.25" fill="#0173b2"/>
<circle cx="93.5" cy="221.8" r="1.25" fill="#0173b2"/>
<circle cx="89.4" cy="223.1" r="0.9" fill="#000000"/>
<circle cx="94.2" cy="225.9" r="1.25" fill="#de8f05"/>
<circle cx="95.6" cy="226.6" r="1.25" fill="#de8f05"/>
<circle cx="100.4" cy="226.6" r="1.25" fill="#de8f05"/>
<circle cx="97.7" cy="228.7" r="1.25" fill="#0173b2"/>
<circle cx="90.8" cy="227.3" r="1.25" fill="#0173b2"/>
<circle cx="92.8" cy="231.4" r="1.25" fill="#0173b2"/>
<circle cx="89.4" cy="232.8" r="0.9" fill="#000000"/>
<circle cx="95.6" cy="230.7" r="1.25" fill="#de8f05"/>
<circle cx="101.8" cy="230.0" r="1.25" fill="#0173b2"/>
<circle cx="103.9" cy="232.1" r="1.25" fill="#0173b2"/>
<circle cx="88.7" cy="235.6" r="1.25" fill="#de8f05"/>
<circle cx="97.7" cy="234.9" r="1.25" fill="#0173b2"/>
<circle cx="105.3" cy="236.3" r="1.25" fill="#029e73"/>
<circle cx="106.0" cy="238.3" r="1.25" fill="#0173b2"/>
<circle cx="101.8" cy="240.4" r="1.25" fill="#0173b2"/>
<circle cx="97.7" cy="239.7" r="1.25" fill="#0173b2"/>
<circle cx="93.5" cy="242.5" r="1.25" fill="#0173b2"/>
<circle cx="94.9" cy="245.2" r="1.25" fill="#0173b2"/>
<circle cx="89.4" cy="245.9" r="1.25" fill="#0173b2"/>
<circle cx="92.7" cy="184.7" r="1.25" fill="#0173b2"/>
<circle cx="95.3" cy="186.2" r="1.25" fill="#0173b2"/>
<circle cx="98.4" cy="187.2" r="1.25" fill="#0173b2"/>
<circle cx="100.5" cy="188.3" r="1.25" fill="#0173b2"/>
<circle cx="102.0" cy="190.3" r="1.25" fill="#0173b2"/>
<circle cx="100.5" cy="191.4" r="1.25" fill="#de8f05"/>
<circle cx="91.2" cy="190.9" r="1.25" fill="#de8f05"/>
<circle cx="89.1" cy="192.4" r="1.25" fill="#0173b2"/>
<circle cx="87.1" cy="194.5" r="1.25" fill="#0173b2"/>
<circle cx="86.0" cy="196.0" r="1.25" fill="#0173b2"/>
<circle cx="90.2" cy="194.5" r="1.25" fill="#0173b2"/>
<circle cx="95.8" cy="194.5" r="1.25" fill="#de8f05"/>
<circle cx="94.3" cy="195.0" r="0.9" fill="#000000"/>
<circle cx="90.7" cy="198.6" r="1.25" fill="#0173b2"/>
<circle cx="93.8" cy="199.1" r="1.25" fill="#0173b2"/>
<circle cx="99.0" cy="197.6" r="0.9" fill="#000000"/>
<circle cx="99.0" cy="200.7" r="1.25" fill="#de8f05"/>
<circle cx="88.0" cy="193.0" r="1.25" fill="#0173b2"/>
<circle cx="97.0" cy="186.5" r="1.25" fill="#0173b2"/>
<circle cx="61.6" cy="175.4" r="1.25" fill="#0173b2"/>
<circle cx="64.0" cy="174.3" r="0.9" fill="#000000"/>
<circle cx="65.8" cy="175.1" r="1.25" fill="#0173b2"/>
<circle cx="64.4" cy="177.7" r="1.25" fill="#0173b2"/>
<circle cx="62.9" cy="175.5" r="1.25" fill="#0173b2"/>
<circle cx="61.9" cy="175.3" r="1.25" fill="#0173b2"/>
<circle cx="66.8" cy="172.6" r="1.25" fill="#0173b2"/>
<circle cx="66.6" cy="172.4" r="1.25" fill="#0173b2"/>
<circle cx="62.8" cy="177.8" r="1.25" fill="#0173b2"/>
<circle cx="62.1" cy="177.5" r="1.25" fill="#0173b2"/>
<circle cx="32.9" cy="182.5" r="1.25" fill="#0173b2"/>
<circle cx="34.3" cy="181.8" r="1.25" fill="#0173b2"/>
<circle cx="37.0" cy="177.6" r="1.25" fill="#0173b2"/>
<circle cx="37.2" cy="175.8" r="1.25" fill="#0173b2"/>
<circle cx="36.6" cy="183.4" r="1.25" fill="#0173b2"/>
<circle cx="32.7" cy="180.5" r="1.25" fill="#0173b2"/>
<circle cx="32.7" cy="181.0" r="1.25" fill="#0173b2"/>
<circle cx="39.8" cy="182.8" r="1.25" fill="#0173b2"/>
<circle cx="38.4" cy="186.1" r="1.25" fill="#0173b2"/>
<circle cx="38.5" cy="175.6" r="1.25" fill="#0173b2"/>
<circle cx="39.5" cy="180.3" r="1.25" fill="#0173b2"/>
<circle cx="37.1" cy="186.4" r="1.25" fill="#0173b2"/>
<circle cx="49.0" cy="188.0" r="1.25" fill="#0173b2"/>
<circle cx="59.1" cy="182.9" r="1.25" fill="#0173b2"/>
<circle cx="52.6" cy="187.4" r="1.25" fill="#0173b2"/>
<circle cx="55.4" cy="189.0" r="1.25" fill="#0173b2"/>
<circle cx="59.7" cy="188.8" r="1.25" fill="#0173b2"/>
<circle cx="62.4" cy="184.1" r="1.25" fill="#0173b2"/>
<circle cx="62.8" cy="187.1" r="1.25" fill="#0173b2"/>
<circle cx="54.2" cy="187.6" r="1.25" fill="#0173b2"/>
<circle cx="66.9" cy="187.5" r="1.25" fill="#0173b2"/>
<circle cx="47.0" cy="186.4" r="1.25" fill="#0173b2"/>
<circle cx="48.2" cy="185.9" r="1.25" fill="#0173b2"/>
<circle cx="66.4" cy="187.1" r="1.25" fill="#0173b2"/>
<circle cx="51.6" cy="182.7" r="1.25" fill="#0173b2"/>
<circle cx="55.8" cy="188.5" r="1.25" fill="#0173b2"/>
<circle cx="58.2" cy="183.6" r="1.25" fill="#0173b2"/>
<circle cx="61.1" cy="184.4" r="1.25" fill="#0173b2"/>
<circle cx="49.2" cy="188.9" r="1.25" fill="#0173b2"/>
<circle cx="57.8" cy="187.2" r="1.25" fill="#0173b2"/>
<circle cx="100.7" cy="239.8" r="1.25" fill="#0173b2"/>
<circle cx="101.5" cy="228.9" r="1.25" fill="#de8f05"/>
<circle cx="94.7" cy="216.9" r="1.25" fill="#0173b2"/>
<circle cx="83.3" cy="248.0" r="1.25" fill="#0173b2"/>
<circle cx="87.5" cy="231.8" r="1.25" fill="#0173b2"/>
<circle cx="96.5" cy="224.4" r="1.25" fill="#0173b2"/>
<circle cx="93.5" cy="234.1" r="0.9" fill="#000000"/>
<circle cx="93.3" cy="243.3" r="1.25" fill="#de8f05"/>
<circle cx="99.5" cy="238.1" r="1.25" fill="#0173b2"/>
<circle cx="85.8" cy="243.0" r="1.25" fill="#0173b2"/>
<circle cx="91.8" cy="238.1" r="1.25" fill="#0173b2"/>
<circle cx="93.0" cy="229.4" r="1.25" fill="#0173b2"/>
<circle cx="105.7" cy="232.3" r="1.25" fill="#0173b2"/>
<circle cx="90.1" cy="230.9" r="1.25" fill="#0173b2"/>
<circle cx="85.9" cy="241.6" r="1.25" fill="#0173b2"/>
<circle cx="104.2" cy="226.9" r="0.9" fill="#000000"/>
<circle cx="93.9" cy="217.0" r="1.25" fill="#0173b2"/>
<circle cx="87.4" cy="243.4" r="1.25" fill="#0173b2"/>
<circle cx="102.2" cy="216.6" r="1.25" fill="#0173b2"/>
<circle cx="103.1" cy="224.5" r="1.25" fill="#0173b2"/>
<circle cx="84.8" cy="240.8" r="1.25" fill="#0173b2"/>
<circle cx="94.4" cy="217.0" r="1.25" fill="#de8f05"/>
<circle cx="102.4" cy="227.0" r="1.25" fill="#0173b2"/>
<circle cx="82.5" cy="234.4" r="1.25" fill="#de8f05"/>
<circle cx="98.7" cy="238.7" r="1.25" fill="#0173b2"/>
<circle cx="96.7" cy="226.8" r="1.25" fill="#0173b2"/>
<circle cx="95.2" cy="226.7" r="1.25" fill="#0173b2"/>
<circle cx="103.8" cy="235.4" r="0.9" fill="#000000"/>
<circle cx="98.0" cy="226.5" r="1.25" fill="#0173b2"/>
<circle cx="99.2" cy="217.4" r="1.25" fill="#de8f05"/>
<circle cx="89.3" cy="234.5" r="1.25" fill="#0173b2"/>
<circle cx="93.1" cy="239.0" r="1.25" fill="#0173b2"/>
<circle cx="86.6" cy="242.2" r="1.25" fill="#0173b2"/>
<circle cx="97.6" cy="243.0" r="1.25" fill="#0173b2"/>
<circle cx="86.0" cy="243.4" r="0.9" fill="#000000"/>
<circle cx="90.8" cy="238.9" r="1.25" fill="#0173b2"/>
<circle cx="83.6" cy="242.8" r="1.25" fill="#0173b2"/>
<circle cx="104.3" cy="227.9" r="1.25" fill="#0173b2"/>
<circle cx="82.1" cy="242.0" r="0.9" fill="#000000"/>
<circle cx="99.6" cy="223.2" r="0.9" fill="#000000"/>
<circle cx="91.5" cy="238.2" r="1.25" fill="#0173b2"/>
<circle cx="100.2" cy="231.5" r="1.25" fill="#0173b2"/>
<circle cx="103.2" cy="218.1" r="1.25" fill="#0173b2"/>
<circle cx="88.7" cy="246.8" r="1.25" fill="#0173b2"/>
<circle cx="93.4" cy="229.6" r="0.9" fill="#000000"/>
<circle cx="104.4" cy="237.8" r="1.25" fill="#0173b2"/>
<circle cx="82.9" cy="242.8" r="1.25" fill="#0173b2"/>
<circle cx="85.7" cy="251.8" r="1.25" fill="#0173b2"/>
<circle cx="84.8" cy="242.6" r="1.25" fill="#de8f05"/>
<circle cx="91.1" cy="247.9" r="1.25" fill="#0173b2"/>
<circle cx="83.0" cy="202.4" r="1.25" fill="#0173b2"/>
<circle cx="78.6" cy="202.1" r="1.25" fill="#0173b2"/>
<circle cx="84.8" cy="206.1" r="1.25" fill="#0173b2"/>
<circle cx="70.5" cy="195.6" r="1.25" fill="#0173b2"/>
<circle cx="71.7" cy="198.8" r="1.25" fill="#0173b2"/>
<circle cx="87.5" cy="204.0" r="1.25" fill="#0173b2"/>
<circle cx="85.1" cy="203.7" r="1.25" fill="#0173b2"/>
<circle cx="74.4" cy="200.0" r="1.25" fill="#0173b2"/>
<circle cx="37.3" cy="207.4" r="1.25" fill="#0173b2"/>
<circle cx="41.8" cy="209.4" r="1.25" fill="#0173b2"/>
<circle cx="41.1" cy="210.2" r="1.25" fill="#0173b2"/>
<circle cx="44.2" cy="209.7" r="1.25" fill="#0173b2"/>
<circle cx="44.9" cy="216.0" r="1.25" fill="#0173b2"/>
<circle cx="40.2" cy="210.9" r="1.25" fill="#0173b2"/>
<circle cx="47.6" cy="222.9" r="1.25" fill="#0173b2"/>
<circle cx="44.8" cy="211.9" r="1.25" fill="#0173b2"/>
<circle cx="38.1" cy="211.8" r="1.25" fill="#0173b2"/>
<circle cx="36.8" cy="207.8" r="1.25" fill="#0173b2"/>
<circle cx="167.9" cy="231.3" r="1.25" fill="#de8f05"/>
<circle cx="169.5" cy="232.4" r="1.25" fill="#de8f05"/>
<circle cx="167.3" cy="233.5" r="1.25" fill="#de8f05"/>
<circle cx="169.0" cy="234.6" r="1.25" fill="#de8f05"/>
<circle cx="170.1" cy="235.2" r="0.9" fill="#000000"/>
<circle cx="166.8" cy="235.2" r="0.9" fill="#000000"/>
<circle cx="168.4" cy="236.8" r="1.25" fill="#de8f05"/>
<circle cx="164.6" cy="237.4" r="1.25" fill="#de8f05"/>
<circle cx="166.8" cy="238.5" r="1.25" fill="#de8f05"/>
<circle cx="162.9" cy="239.0" r="1.25" fill="#de8f05"/>
<circle cx="169.5" cy="239.0" r="1.25" fill="#de8f05"/>
<circle cx="166.2" cy="240.7" r="1.25" fill="#0173b2"/>
<circle cx="162.4" cy="241.3" r="0.9" fill="#000000"/>
<circle cx="167.3" cy="242.4" r="1.25" fill="#de8f05"/>
<circle cx="165.5" cy="243.5" r="1.25" fill="#de8f05"/>
<circle cx="161.8" cy="242.9" r="1.25" fill="#0173b2"/>
<circle cx="157.9" cy="244.0" r="1.25" fill="#0173b2"/>
<circle cx="154.1" cy="244.0" r="1.25" fill="#de8f05"/>
<circle cx="153.0" cy="245.7" r="1.25" fill="#0173b2"/>
<circle cx="155.2" cy="246.2" r="1.25" fill="#0173b2"/>
<circle cx="151.3" cy="247.9" r="1.25" fill="#0173b2"/>
<circle cx="153.5" cy="249.0" r="1.25" fill="#0173b2"/>
<circle cx="160.2" cy="246.2" r="0.9" fill="#000000"/>
<circle cx="163.5" cy="245.7" r="0.9" fill="#000000"/>
<circle cx="164.6" cy="246.8" r="1.25" fill="#de8f05"/>
<circle cx="166.8" cy="245.1" r="1.25" fill="#de8f05"/>
<circle cx="161.8" cy="247.9" r="1.25" fill="#de8f05"/>
<circle cx="159.6" cy="250.1" r="1.25" fill="#0173b2"/>
<circle cx="161.0" cy="250.5" r="1.25" fill="#0173b2"/>
<circle cx="164.6" cy="249.5" r="1.25" fill="#de8f05"/>
<circle cx="166.8" cy="249.0" r="1.25" fill="#de8f05"/>
<circle cx="169.0" cy="248.4" r="0.9" fill="#000000"/>
<circle cx="170.1" cy="250.1" r="1.25" fill="#de8f05"/>
<circle cx="167.9" cy="251.2" r="1.25" fill="#de8f05"/>
<circle cx="160.3" cy="248.9" r="1.25" fill="#de8f05"/>
<circle cx="162.1" cy="249.2" r="1.25" fill="#de8f05"/>
<circle cx="165.1" cy="249.2" r="1.25" fill="#de8f05"/>
<circle cx="168.7" cy="250.4" r="1.25" fill="#de8f05"/>
<circle cx="167.5" cy="251.6" r="1.25" fill="#de8f05"/>
<circle cx="152.0" cy="249.2" r="1.25" fill="#0173b2"/>
<circle cx="155.0" cy="249.8" r="1.25" fill="#0173b2"/>
<circle cx="159.7" cy="250.4" r="1.25" fill="#0173b2"/>
<circle cx="160.3" cy="252.2" r="1.25" fill="#de8f05"/>
<circle cx="162.7" cy="251.6" r="0.9" fill="#000000"/>
<circle cx="162.7" cy="254.6" r="1.25" fill="#de8f05"/>
<circle cx="165.7" cy="255.8" r="1.25" fill="#0173b2"/>
<circle cx="163.9" cy="258.2" r="1.25" fill="#de8f05"/>
<circle cx="165.1" cy="260.0" r="1.25" fill="#de8f05"/>
<circle cx="163.3" cy="260.6" r="1.25" fill="#0173b2"/>
<circle cx="162.1" cy="262.9" r="1.25" fill="#0173b2"/>
<circle cx="161.5" cy="264.7" r="0.9" fill="#000000"/>
<circle cx="151.4" cy="252.2" r="1.25" fill="#0173b2"/>
<circle cx="150.8" cy="254.0" r="1.25" fill="#0173b2"/>
<circle cx="155.6" cy="255.2" r="1.25" fill="#0173b2"/>
<circle cx="157.4" cy="257.0" r="1.25" fill="#0173b2"/>
<circle cx="158.0" cy="260.0" r="1.25" fill="#0173b2"/>
<circle cx="152.0" cy="260.0" r="1.25" fill="#0173b2"/>
<circle cx="153.2" cy="262.3" r="1.25" fill="#0173b2"/>
<circle cx="156.8" cy="262.9" r="1.25" fill="#0173b2"/>
<circle cx="158.5" cy="263.0" r="1.25" fill="#0173b2"/>
<circle cx="155.0" cy="265.3" r="0.9" fill="#000000"/>
<circle cx="158.0" cy="265.9" r="1.25" fill="#0173b2"/>
<circle cx="152.0" cy="265.9" r="1.25" fill="#0173b2"/>
<circle cx="151.4" cy="268.9" r="1.25" fill="#0173b2"/>
<circle cx="153.8" cy="270.7" r="1.25" fill="#de8f05"/>
<circle cx="153.8" cy="272.5" r="1.25" fill="#0173b2"/>
<circle cx="156.2" cy="267.7" r="1.25" fill="#0173b2"/>
<circle cx="152.6" cy="257.0" r="1.25" fill="#0173b2"/>
<circle cx="150.5" cy="258.0" r="1.25" fill="#0173b2"/>
<circle cx="168.0" cy="237.5" r="1.25" fill="#de8f05"/>
<circle cx="170.0" cy="237.0" r="1.25" fill="#de8f05"/>
<circle cx="165.0" cy="236.0" r="1.25" fill="#de8f05"/>
<circle cx="163.5" cy="240.0" r="1.25" fill="#de8f05"/>
<circle cx="166.0" cy="244.0" r="1.25" fill="#de8f05"/>
<circle cx="168.0" cy="246.5" r="1.25" fill="#de8f05"/>
<circle cx="164.0" cy="252.0" r="1.25" fill="#de8f05"/>
<circle cx="166.0" cy="253.0" r="1.25" fill="#de8f05"/>
<circle cx="154.0" cy="258.5" r="1.25" fill="#0173b2"/>
<circle cx="156.0" cy="259.0" r="1.25" fill="#0173b2"/>
<circle cx="151.0" cy="263.5" r="1.25" fill="#0173b2"/>
<circle cx="157.0" cy="253.5" r="1.25" fill="#0173b2"/>
<circle cx="153.5" cy="254.5" r="1.25" fill="#0173b2"/>
<circle cx="215.6" cy="203.6" r="1.25" fill="#0173b2"/>
<circle cx="214.9" cy="206.3" r="1.25" fill="#0173b2"/>
<circle cx="216.3" cy="209.1" r="1.25" fill="#0173b2"/>
<circle cx="218.3" cy="211.2" r="1.25" fill="#0173b2"/>
<circle cx="219.0" cy="213.9" r="1.25" fill="#de8f05"/>
<circle cx="221.1" cy="204.3" r="1.25" fill="#de8f05"/>
<circle cx="222.5" cy="205.0" r="0.9" fill="#000000"/>
<circle cx="221.1" cy="209.8" r="1.25" fill="#0173b2"/>
<circle cx="224.5" cy="209.1" r="1.25" fill="#0173b2"/>
<circle cx="226.6" cy="207.7" r="1.25" fill="#0173b2"/>
<circle cx="228.0" cy="210.5" r="1.25" fill="#0173b2"/>
<circle cx="230.0" cy="213.9" r="1.25" fill="#0173b2"/>
<circle cx="232.8" cy="213.2" r="1.25" fill="#0173b2"/>
<circle cx="233.5" cy="209.1" r="1.25" fill="#0173b2"/>
<circle cx="235.6" cy="205.0" r="1.25" fill="#029e73"/>
<circle cx="236.9" cy="207.7" r="1.25" fill="#0173b2"/>
<circle cx="237.6" cy="211.2" r="1.25" fill="#0173b2"/>
<circle cx="238.3" cy="213.9" r="1.25" fill="#de8f05"/>
<circle cx="236.2" cy="215.3" r="1.25" fill="#0173b2"/>
<circle cx="234.2" cy="216.7" r="1.25" fill="#0173b2"/>
<circle cx="239.7" cy="209.8" r="1.25" fill="#0173b2"/>
<circle cx="241.8" cy="207.7" r="1.25" fill="#0173b2"/>
<circle cx="243.8" cy="205.7" r="1.25" fill="#0173b2"/>
<circle cx="244.5" cy="203.6" r="1.25" fill="#de8f05"/>
<circle cx="245.9" cy="201.5" r="1.25" fill="#d55e00"/>
<circle cx="246.6" cy="206.3" r="0.9" fill="#000000"/>
<circle cx="248.7" cy="206.3" r="1.25" fill="#0173b2"/>
<circle cx="246.6" cy="209.8" r="1.25" fill="#0173b2"/>
<circle cx="252.8" cy="204.3" r="1.25" fill="#de8f05"/>
<circle cx="255.5" cy="202.2" r="1.25" fill="#029e73"/>
<circle cx="253.5" cy="202.2" r="1.25" fill="#de8f05"/>
<circle cx="252.8" cy="211.9" r="1.25" fill="#029e73"/>
<circle cx="249.3" cy="215.3" r="1.25" fill="#0173b2"/>
<circle cx="253.5" cy="214.6" r="1.25" fill="#0173b2"/>
<circle cx="256.9" cy="217.4" r="1.25" fill="#de8f05"/>
<circle cx="261.1" cy="217.4" r="1.25" fill="#de8f05"/>
<circle cx="252.1" cy="219.4" r="1.25" fill="#de8f05"/>
<circle cx="255.5" cy="221.5" r="1.25" fill="#0173b2"/>
<circle cx="258.3" cy="210.5" r="1.25" fill="#0173b2"/>
<circle cx="259.7" cy="209.8" r="0.9" fill="#000000"/>
<circle cx="263.1" cy="209.8" r="0.9" fill="#000000"/>
<circle cx="257.6" cy="213.2" r="1.25" fill="#0173b2"/>
<circle cx="268.6" cy="210.5" r="1.25" fill="#0173b2"/>
<circle cx="269.3" cy="216.7" r="1.25" fill="#0173b2"/>
<circle cx="272.8" cy="211.9" r="1.25" fill="#0173b2"/>
<circle cx="275.5" cy="209.1" r="1.25" fill="#d55e00"/>
<circle cx="216.5" cy="207.0" r="1.25" fill="#0173b2"/>
<circle cx="231.0" cy="211.0" r="1.25" fill="#0173b2"/>
<circle cx="240.0" cy="212.0" r="1.25" fill="#0173b2"/>
<circle cx="250.0" cy="212.5" r="1.25" fill="#0173b2"/>
<circle cx="254.0" cy="216.0" r="1.25" fill="#0173b2"/>
<circle cx="258.0" cy="219.0" r="1.25" fill="#0173b2"/>
<circle cx="261.7" cy="198.1" r="1.25" fill="#de8f05"/>
<circle cx="260.4" cy="194.6" r="0.9" fill="#000000"/>
<circle cx="275.5" cy="197.4" r="0.9" fill="#000000"/>
<circle cx="264.5" cy="205.7" r="0.9" fill="#000000"/>
<circle cx="272.1" cy="170.5" r="1.25" fill="#de8f05"/>
<circle cx="270.1" cy="171.9" r="1.25" fill="#0173b2"/>
<circle cx="267.2" cy="175.3" r="1.25" fill="#de8f05"/>
<circle cx="276.7" cy="171.3" r="0.9" fill="#000000"/>
<circle cx="275.5" cy="172.8" r="1.25" fill="#de8f05"/>
<circle cx="277.5" cy="173.0" r="1.25" fill="#de8f05"/>
<circle cx="279.5" cy="174.0" r="1.25" fill="#de8f05"/>
<circle cx="278.0" cy="175.5" r="1.25" fill="#de8f05"/>
<circle cx="276.5" cy="174.5" r="1.25" fill="#de8f05"/>
<circle cx="274.1" cy="175.3" r="0.9" fill="#000000"/>
<circle cx="282.1" cy="175.1" r="0.9" fill="#000000"/>
<circle cx="282.1" cy="177.4" r="1.25" fill="#0173b2"/>
<circle cx="283.2" cy="177.6" r="1.25" fill="#0173b2"/>
<circle cx="273.5" cy="177.6" r="1.25" fill="#0173b2"/>
<circle cx="276.7" cy="181.4" r="1.25" fill="#0173b2"/>
<circle cx="281.8" cy="186.4" r="1.25" fill="#0173b2"/>
<circle cx="283.8" cy="189.1" r="1.25" fill="#0173b2"/>
<circle cx="285.9" cy="191.2" r="1.25" fill="#0173b2"/>
<circle cx="274.5" cy="210.3" r="1.25" fill="#d55e00"/>
<circle cx="290.4" cy="215.8" r="1.25" fill="#de8f05"/>
<circle cx="286.9" cy="214.5" r="1.25" fill="#029e73"/>
<circle cx="289.0" cy="206.2" r="1.25" fill="#d55e00"/>
<circle cx="313.8" cy="224.1" r="1.25" fill="#029e73"/>
<circle cx="295.9" cy="235.8" r="1.25" fill="#de8f05"/>
<circle cx="289.7" cy="231.0" r="1.25" fill="#de8f05"/>
<circle cx="325.5" cy="227.6" r="1.25" fill="#de8f05"/>
<circle cx="260.8" cy="217.2" r="1.25" fill="#de8f05"/>
<circle cx="311.7" cy="226.9" r="1.25" fill="#de8f05"/>
<circle cx="306.2" cy="241.3" r="1.25" fill="#de8f05"/>
<circle cx="306.2" cy="248.2" r="1.25" fill="#0173b2"/>
<circle cx="310.4" cy="245.5" r="1.25" fill="#0173b2"/>
<circle cx="313.1" cy="248.2" r="1.25" fill="#0173b2"/>
<circle cx="312.4" cy="252.4" r="1.25" fill="#0173b2"/>
<circle cx="309.7" cy="250.3" r="1.25" fill="#0173b2"/>
<circle cx="314.5" cy="245.5" r="1.25" fill="#0173b2"/>
<circle cx="305.5" cy="239.3" r="1.25" fill="#0173b2"/>
<circle cx="310.4" cy="239.3" r="1.25" fill="#0173b2"/>
<circle cx="332.0" cy="203.7" r="1.25" fill="#de8f05"/>
<circle cx="336.7" cy="202.8" r="1.25" fill="#de8f05"/>
<circle cx="333.9" cy="208.3" r="1.25" fill="#0173b2"/>
<circle cx="328.4" cy="211.0" r="1.25" fill="#0173b2"/>
<circle cx="324.7" cy="211.9" r="1.25" fill="#de8f05"/>
<circle cx="314.6" cy="208.3" r="1.25" fill="#029e73"/>
<circle cx="312.8" cy="212.9" r="1.25" fill="#0173b2"/>
<circle cx="317.4" cy="218.4" r="0.9" fill="#000000"/>
<circle cx="322.9" cy="219.3" r="1.25" fill="#de8f05"/>
<circle cx="313.7" cy="223.9" r="1.25" fill="#029e73"/>
<circle cx="310.9" cy="226.7" r="1.25" fill="#de8f05"/>
<circle cx="311.8" cy="232.2" r="1.25" fill="#0173b2"/>
<circle cx="327.5" cy="224.8" r="0.9" fill="#000000"/>
<circle cx="319.2" cy="227.6" r="1.25" fill="#0173b2"/>
<circle cx="323.8" cy="229.4" r="1.25" fill="#de8f05"/>
<circle cx="326.5" cy="229.4" r="1.25" fill="#d55e00"/>
<circle cx="333.0" cy="228.5" r="1.25" fill="#0173b2"/>
<circle cx="334.8" cy="231.3" r="1.25" fill="#0173b2"/>
<circle cx="330.2" cy="232.2" r="1.25" fill="#0173b2"/>
<circle cx="324.7" cy="234.0" r="1.25" fill="#d55e00"/>
<circle cx="332.1" cy="235.8" r="1.25" fill="#0173b2"/>
<circle cx="335.7" cy="237.7" r="1.25" fill="#0173b2"/>
<circle cx="338.5" cy="239.5" r="1.25" fill="#0173b2"/>
<circle cx="323.8" cy="238.6" r="1.25" fill="#0173b2"/>
<circle cx="327.0" cy="236.0" r="1.25" fill="#de8f05"/>
<circle cx="329.0" cy="234.0" r="1.25" fill="#0173b2"/>
<circle cx="353.6" cy="243.2" r="1.25" fill="#0173b2"/>
<circle cx="311.8" cy="238.6" r="1.25" fill="#0173b2"/>
<circle cx="314.6" cy="245.0" r="1.25" fill="#0173b2"/>
<circle cx="311.8" cy="248.7" r="1.25" fill="#0173b2"/>
<circle cx="312.8" cy="252.4" r="1.25" fill="#0173b2"/>
<circle cx="331.1" cy="269.9" r="1.25" fill="#0173b2"/>
<circle cx="333.9" cy="271.7" r="1.25" fill="#0173b2"/>
<circle cx="335.7" cy="273.5" r="1.25" fill="#0173b2"/>
<circle cx="330.7" cy="269.4" r="1.25" fill="#0173b2"/>
<circle cx="306.2" cy="242.2" r="1.25" fill="#de8f05"/>
<circle cx="305.6" cy="248.2" r="1.25" fill="#0173b2"/>
<circle cx="308.4" cy="246.5" r="1.25" fill="#0173b2"/>
<circle cx="310.0" cy="245.5" r="1.25" fill="#0173b2"/>
<circle cx="314.9" cy="245.5" r="1.25" fill="#0173b2"/>
<circle cx="311.6" cy="249.8" r="1.25" fill="#0173b2"/>
<circle cx="312.7" cy="252.5" r="1.25" fill="#0173b2"/>
<circle cx="307.0" cy="247.5" r="1.25" fill="#0173b2"/>
<circle cx="298.0" cy="266.7" r="1.25" fill="#0173b2"/>
<circle cx="300.7" cy="267.3" r="1.25" fill="#de8f05"/>
<circle cx="299.1" cy="269.4" r="1.25" fill="#0173b2"/>
<circle cx="301.8" cy="268.9" r="1.25" fill="#0173b2"/>
<circle cx="214.5" cy="203.3" r="1.25" fill="#0173b2"/>
<circle cx="214.3" cy="204.8" r="1.25" fill="#0173b2"/>
<circle cx="215.2" cy="206.6" r="1.25" fill="#0173b2"/>
<circle cx="214.6" cy="207.5" r="1.25" fill="#0173b2"/>
<circle cx="215.1" cy="209.2" r="1.25" fill="#0173b2"/>
<circle cx="217.7" cy="210.7" r="1.25" fill="#0173b2"/>
<circle cx="217.6" cy="211.6" r="1.25" fill="#0173b2"/>
<circle cx="218.6" cy="212.8" r="1.25" fill="#0173b2"/>
<circle cx="220.6" cy="211.3" r="1.25" fill="#0173b2"/>
<circle cx="221.1" cy="210.7" r="1.25" fill="#0173b2"/>
<circle cx="223.9" cy="210.8" r="1.25" fill="#0173b2"/>
<circle cx="224.8" cy="209.5" r="1.25" fill="#0173b2"/>
<circle cx="226.0" cy="210.0" r="1.25" fill="#0173b2"/>
<circle cx="226.6" cy="210.8" r="1.25" fill="#0173b2"/>
<circle cx="228.2" cy="212.5" r="1.25" fill="#0173b2"/>
<circle cx="230.0" cy="214.1" r="1.25" fill="#0173b2"/>
<circle cx="230.5" cy="213.6" r="1.25" fill="#0173b2"/>
<circle cx="232.6" cy="215.3" r="1.25" fill="#0173b2"/>
<circle cx="233.2" cy="216.0" r="1.25" fill="#0173b2"/>
<circle cx="234.6" cy="215.8" r="1.25" fill="#0173b2"/>
<circle cx="236.6" cy="216.4" r="1.25" fill="#0173b2"/>
<circle cx="238.2" cy="215.4" r="1.25" fill="#0173b2"/>
<circle cx="239.1" cy="216.0" r="1.25" fill="#0173b2"/>
<circle cx="233.9" cy="209.0" r="1.25" fill="#0173b2"/>
<circle cx="234.1" cy="207.2" r="1.25" fill="#0173b2"/>
<circle cx="235.3" cy="208.1" r="1.25" fill="#0173b2"/>
<circle cx="236.5" cy="209.1" r="1.25" fill="#0173b2"/>
<circle cx="237.5" cy="209.4" r="1.25" fill="#0173b2"/>
<circle cx="239.2" cy="211.3" r="1.25" fill="#0173b2"/>
<circle cx="240.7" cy="211.2" r="1.25" fill="#0173b2"/>
<circle cx="242.0" cy="210.5" r="1.25" fill="#0173b2"/>
<circle cx="243.8" cy="209.1" r="1.25" fill="#0173b2"/>
<circle cx="244.2" cy="207.5" r="1.25" fill="#0173b2"/>
<circle cx="244.9" cy="206.8" r="1.25" fill="#0173b2"/>
<circle cx="247.4" cy="207.8" r="1.25" fill="#0173b2"/>
<circle cx="247.7" cy="207.4" r="1.25" fill="#0173b2"/>
<circle cx="248.3" cy="206.5" r="1.25" fill="#0173b2"/>
<circle cx="250.0" cy="205.5" r="1.25" fill="#0173b2"/>
<circle cx="247.8" cy="214.8" r="1.25" fill="#0173b2"/>
<circle cx="249.5" cy="213.3" r="1.25" fill="#de8f05"/>
<circle cx="250.9" cy="213.6" r="1.25" fill="#de8f05"/>
<circle cx="251.9" cy="212.8" r="1.25" fill="#0173b2"/>
<circle cx="253.3" cy="214.1" r="1.25" fill="#0173b2"/>
<circle cx="254.8" cy="212.6" r="1.25" fill="#0173b2"/>
<circle cx="256.3" cy="212.4" r="0.9" fill="#000000"/>
<circle cx="256.8" cy="210.3" r="1.25" fill="#0173b2"/>
<circle cx="258.5" cy="208.7" r="1.25" fill="#0173b2"/>
<circle cx="259.2" cy="209.0" r="1.25" fill="#0173b2"/>
<circle cx="260.7" cy="211.2" r="1.25" fill="#0173b2"/>
<circle cx="261.3" cy="212.1" r="1.25" fill="#0173b2"/>
<circle cx="260.8" cy="213.5" r="1.25" fill="#0173b2"/>
<circle cx="260.4" cy="214.8" r="1.25" fill="#0173b2"/>
<circle cx="260.0" cy="217.6" r="1.25" fill="#0173b2"/>
<circle cx="257.6" cy="214.8" r="1.25" fill="#0173b2"/>
<circle cx="255.8" cy="216.0" r="1.25" fill="#0173b2"/>
<circle cx="254.9" cy="215.9" r="1.25" fill="#0173b2"/>
<circle cx="252.7" cy="216.8" r="1.25" fill="#0173b2"/>
<circle cx="251.0" cy="216.8" r="1.25" fill="#de8f05"/>
<circle cx="249.6" cy="217.1" r="1.25" fill="#0173b2"/>
<circle cx="256.4" cy="218.5" r="1.25" fill="#de8f05"/>
<circle cx="252.5" cy="219.8" r="1.25" fill="#de8f05"/>
<circle cx="253.8" cy="221.7" r="1.25" fill="#de8f05"/>
<circle cx="258.3" cy="221.1" r="1.25" fill="#0173b2"/>
<circle cx="261.5" cy="217.9" r="1.25" fill="#de8f05"/>
<circle cx="242.4" cy="203.9" r="1.25" fill="#0173b2"/>
<circle cx="244.9" cy="202.6" r="1.25" fill="#0173b2"/>
<circle cx="269.8" cy="186.0" r="0.9" fill="#000000"/>
<circle cx="266.2" cy="188.3" r="1.25" fill="#0173b2"/>
<circle cx="259.9" cy="184.4" r="1.25" fill="#0173b2"/>
<circle cx="260.7" cy="190.3" r="1.25" fill="#0173b2"/>
<circle cx="269.4" cy="193.3" r="1.25" fill="#0173b2"/>
<circle cx="264.2" cy="189.5" r="1.25" fill="#0173b2"/>
<circle cx="268.3" cy="188.9" r="1.25" fill="#0173b2"/>
<circle cx="269.2" cy="189.2" r="1.25" fill="#0173b2"/>
<circle cx="262.9" cy="194.1" r="1.25" fill="#0173b2"/>
<circle cx="266.7" cy="188.7" r="1.25" fill="#0173b2"/>
<circle cx="265.7" cy="190.6" r="1.25" fill="#0173b2"/>
<circle cx="267.2" cy="185.0" r="1.25" fill="#0173b2"/>
<circle cx="266.9" cy="190.8" r="1.25" fill="#0173b2"/>
<circle cx="265.7" cy="192.7" r="1.25" fill="#0173b2"/>
<circle cx="261.3" cy="191.0" r="0.9" fill="#000000"/>
<circle cx="268.0" cy="194.7" r="1.25" fill="#0173b2"/>
<circle cx="259.9" cy="190.2" r="1.25" fill="#0173b2"/>
<circle cx="258.8" cy="187.5" r="1.25" fill="#0173b2"/>
<circle cx="268.7" cy="190.7" r="1.25" fill="#0173b2"/>
<circle cx="261.4" cy="184.2" r="1.25" fill="#0173b2"/>
<circle cx="268.8" cy="193.8" r="1.25" fill="#0173b2"/>
<circle cx="258.7" cy="186.1" r="1.25" fill="#0173b2"/>
<circle cx="263.3" cy="188.3" r="1.25" fill="#0173b2"/>
<circle cx="262.5" cy="191.0" r="1.25" fill="#0173b2"/>
<circle cx="267.7" cy="186.1" r="1.25" fill="#0173b2"/>
<circle cx="263.6" cy="184.2" r="1.25" fill="#0173b2"/>
<circle cx="263.2" cy="188.8" r="1.25" fill="#0173b2"/>
<circle cx="259.8" cy="187.0" r="1.25" fill="#0173b2"/>
<circle cx="259.2" cy="192.7" r="1.25" fill="#0173b2"/>
<circle cx="264.2" cy="189.4" r="1.25" fill="#0173b2"/>
<circle cx="261.8" cy="194.8" r="1.25" fill="#0173b2"/>
<circle cx="261.6" cy="191.7" r="1.25" fill="#0173b2"/>
<circle cx="264.3" cy="185.8" r="1.25" fill="#0173b2"/>
<circle cx="263.7" cy="193.8" r="1.25" fill="#0173b2"/>
<circle cx="265.6" cy="192.2" r="1.25" fill="#0173b2"/>
<circle cx="257.8" cy="184.8" r="1.25" fill="#0173b2"/>
<circle cx="267.4" cy="195.8" r="1.25" fill="#0173b2"/>
<circle cx="265.3" cy="186.8" r="1.25" fill="#0173b2"/>
<circle cx="265.8" cy="185.5" r="1.25" fill="#0173b2"/>
<circle cx="265.9" cy="184.0" r="1.25" fill="#0173b2"/>
<circle cx="259.3" cy="186.5" r="1.25" fill="#0173b2"/>
<circle cx="259.7" cy="190.7" r="1.25" fill="#0173b2"/>
<circle cx="267.1" cy="194.1" r="0.9" fill="#000000"/>
<circle cx="268.2" cy="196.8" r="0.9" fill="#000000"/>
<circle cx="267.9" cy="196.6" r="1.25" fill="#0173b2"/>
<circle cx="268.6" cy="197.0" r="1.25" fill="#0173b2"/>
<circle cx="270.8" cy="198.9" r="1.25" fill="#0173b2"/>
<circle cx="269.7" cy="199.7" r="1.25" fill="#0173b2"/>
<circle cx="272.2" cy="199.6" r="0.9" fill="#000000"/>
<circle cx="274.9" cy="201.0" r="1.25" fill="#0173b2"/>
<circle cx="273.3" cy="202.9" r="1.25" fill="#0173b2"/>
<circle cx="272.3" cy="203.2" r="1.25" fill="#0173b2"/>
<circle cx="273.3" cy="204.3" r="1.25" fill="#0173b2"/>
<circle cx="275.5" cy="205.1" r="1.25" fill="#0173b2"/>
<circle cx="276.5" cy="208.1" r="0.9" fill="#000000"/>
<circle cx="277.8" cy="209.3" r="1.25" fill="#0173b2"/>
<circle cx="276.4" cy="206.9" r="1.25" fill="#0173b2"/>
<circle cx="275.6" cy="185.4" r="1.25" fill="#0173b2"/>
<circle cx="278.0" cy="187.0" r="1.25" fill="#0173b2"/>
<circle cx="281.0" cy="188.5" r="1.25" fill="#0173b2"/>
<circle cx="284.0" cy="190.0" r="1.25" fill="#0173b2"/>
<circle cx="286.6" cy="190.9" r="1.25" fill="#0173b2"/>
<circle cx="278.0" cy="192.5" r="0.9" fill="#000000"/>
<circle cx="281.0" cy="194.0" r="0.9" fill="#000000"/>
<circle cx="276.0" cy="196.0" r="0.9" fill="#000000"/>
<circle cx="283.0" cy="197.0" r="0.9" fill="#000000"/>
<circle cx="279.0" cy="200.0" r="0.9" fill="#000000"/>
<circle cx="285.0" cy="203.0" r="0.9" fill="#000000"/>
<circle cx="277.0" cy="205.5" r="0.9" fill="#000000"/>
<circle cx="282.0" cy="207.5" r="1.25" fill="#0173b2"/>
<circle cx="306.5" cy="185.5" r="1.25" fill="#de8f05"/>
<circle cx="310.2" cy="186.9" r="1.25" fill="#de8f05"/>
<circle cx="313.9" cy="186.9" r="1.25" fill="#de8f05"/>
<circle cx="304.7" cy="189.2" r="1.25" fill="#de8f05"/>
<circle cx="308.4" cy="189.2" r="1.25" fill="#de8f05"/>
<circle cx="312.1" cy="189.2" r="1.25" fill="#de8f05"/>
<circle cx="300.1" cy="188.3" r="1.25" fill="#0173b2"/>
<circle cx="302.0" cy="189.2" r="1.25" fill="#029e73"/>
<circle cx="296.9" cy="191.0" r="0.9" fill="#000000"/>
<circle cx="305.6" cy="191.9" r="1.25" fill="#de8f05"/>
<circle cx="308.4" cy="192.9" r="1.25" fill="#de8f05"/>
<circle cx="311.1" cy="192.4" r="1.25" fill="#de8f05"/>
<circle cx="309.3" cy="194.7" r="1.25" fill="#de8f05"/>
<circle cx="312.1" cy="196.1" r="1.25" fill="#d55e00"/>
<circle cx="314.8" cy="196.5" r="0.9" fill="#000000"/>
<circle cx="317.6" cy="196.1" r="1.25" fill="#de8f05"/>
<circle cx="303.8" cy="196.1" r="0.9" fill="#000000"/>
<circle cx="298.3" cy="197.0" r="1.25" fill="#de8f05"/>
<circle cx="301.0" cy="198.4" r="1.25" fill="#0173b2"/>
<circle cx="306.5" cy="198.4" r="1.25" fill="#de8f05"/>
<circle cx="312.1" cy="198.8" r="1.25" fill="#de8f05"/>
<circle cx="316.7" cy="198.8" r="1.25" fill="#de8f05"/>
<circle cx="318.5" cy="186.9" r="1.25" fill="#0173b2"/>
<circle cx="321.7" cy="187.4" r="1.25" fill="#0173b2"/>
<circle cx="324.9" cy="188.7" r="1.25" fill="#0173b2"/>
<circle cx="328.1" cy="187.8" r="1.25" fill="#de8f05"/>
<circle cx="329.5" cy="190.1" r="1.25" fill="#de8f05"/>
<circle cx="327.7" cy="191.9" r="1.25" fill="#de8f05"/>
<circle cx="325.4" cy="193.8" r="1.25" fill="#0173b2"/>
<circle cx="321.3" cy="191.0" r="0.9" fill="#000000"/>
<circle cx="326.8" cy="193.8" r="0.9" fill="#000000"/>
<circle cx="291.8" cy="199.3" r="1.25" fill="#0173b2"/>
<circle cx="293.7" cy="202.1" r="0.9" fill="#000000"/>
<circle cx="296.9" cy="202.1" r="0.9" fill="#000000"/>
<circle cx="300.1" cy="202.5" r="1.25" fill="#de8f05"/>
<circle cx="301.9" cy="201.6" r="1.25" fill="#de8f05"/>
<circle cx="306.5" cy="202.1" r="1.25" fill="#0173b2"/>
<circle cx="309.3" cy="203.9" r="1.25" fill="#de8f05"/>
<circle cx="313.9" cy="204.8" r="1.25" fill="#de8f05"/>
<circle cx="321.3" cy="201.1" r="1.25" fill="#de8f05"/>
<circle cx="325.4" cy="200.2" r="1.25" fill="#0173b2"/>
<circle cx="329.5" cy="201.1" r="1.25" fill="#de8f05"/>
<circle cx="332.3" cy="202.5" r="1.25" fill="#0173b2"/>
<circle cx="336.9" cy="202.1" r="1.25" fill="#de8f05"/>
<circle cx="336.0" cy="205.7" r="1.25" fill="#0173b2"/>
<circle cx="333.2" cy="208.5" r="1.25" fill="#0173b2"/>
<circle cx="319.4" cy="203.4" r="0.9" fill="#000000"/>
<circle cx="322.2" cy="204.4" r="1.25" fill="#de8f05"/>
<circle cx="324.9" cy="203.9" r="0.9" fill="#000000"/>
<circle cx="321.3" cy="206.7" r="1.25" fill="#de8f05"/>
<circle cx="324.0" cy="207.6" r="1.25" fill="#de8f05"/>
<circle cx="313.9" cy="207.6" r="1.25" fill="#029e73"/>
<circle cx="304.2" cy="207.6" r="1.25" fill="#de8f05"/>
<circle cx="307.9" cy="210.3" r="0.9" fill="#000000"/>
<circle cx="312.1" cy="211.3" r="0.9" fill="#000000"/>
<circle cx="314.8" cy="210.3" r="1.25" fill="#de8f05"/>
<circle cx="317.6" cy="209.4" r="1.25" fill="#de8f05"/>
<circle cx="320.3" cy="211.3" r="1.25" fill="#de8f05"/>
<circle cx="324.9" cy="211.7" r="1.25" fill="#0173b2"/>
<circle cx="328.6" cy="211.3" r="1.25" fill="#0173b2"/>
<circle cx="306.5" cy="204.8" r="1.25" fill="#0173b2"/>
<circle cx="311.1" cy="206.2" r="1.25" fill="#0173b2"/>
<circle cx="316.7" cy="214.9" r="0.9" fill="#000000"/>
<circle cx="314.8" cy="217.7" r="0.9" fill="#000000"/>
<circle cx="309.3" cy="216.3" r="1.25" fill="#de8f05"/>
<circle cx="319.4" cy="215.8" r="1.25" fill="#de8f05"/>
<circle cx="316.1" cy="194.2" r="1.25" fill="#de8f05"/>
<circle cx="305.7" cy="191.3" r="1.25" fill="#de8f05"/>
<circle cx="312.6" cy="187.5" r="1.25" fill="#de8f05"/>
<circle cx="305.1" cy="186.0" r="1.25" fill="#de8f05"/>
<circle cx="301.6" cy="192.7" r="1.25" fill="#de8f05"/>
<circle cx="310.1" cy="191.5" r="1.25" fill="#de8f05"/>
<circle cx="308.7" cy="186.4" r="1.25" fill="#de8f05"/>
<circle cx="302.2" cy="193.1" r="1.25" fill="#de8f05"/>
<circle cx="306.4" cy="194.3" r="1.25" fill="#de8f05"/>
<circle cx="305.6" cy="196.8" r="0.9" fill="#000000"/>
<circle cx="308.2" cy="187.1" r="1.25" fill="#de8f05"/>
<circle cx="308.4" cy="192.5" r="1.25" fill="#de8f05"/>
<circle cx="308.0" cy="187.3" r="1.25" fill="#de8f05"/>
<circle cx="308.6" cy="190.1" r="1.25" fill="#de8f05"/>
<circle cx="306.9" cy="187.8" r="1.25" fill="#de8f05"/>
<circle cx="304.1" cy="197.2" r="1.25" fill="#de8f05"/>
<circle cx="316.0" cy="191.8" r="1.25" fill="#de8f05"/>
<circle cx="309.7" cy="194.6" r="1.25" fill="#de8f05"/>
<circle cx="312.8" cy="187.2" r="1.25" fill="#de8f05"/>
<circle cx="308.8" cy="189.1" r="0.9" fill="#000000"/>
<circle cx="301.4" cy="193.1" r="1.25" fill="#de8f05"/>
<circle cx="310.1" cy="196.0" r="1.25" fill="#de8f05"/>
<circle cx="310.2" cy="198.8" r="1.25" fill="#de8f05"/>
<circle cx="310.5" cy="194.7" r="0.9" fill="#000000"/>
<circle cx="305.8" cy="196.3" r="1.25" fill="#de8f05"/>
<circle cx="320.2" cy="217.0" r="1.25" fill="#0173b2"/>
<circle cx="263.8" cy="210.1" r="1.25" fill="#0173b2"/>
<circle cx="302.9" cy="206.2" r="1.25" fill="#0173b2"/>
<circle cx="267.3" cy="208.2" r="1.25" fill="#0173b2"/>
<circle cx="289.7" cy="220.5" r="1.25" fill="#0173b2"/>
<circle cx="300.1" cy="208.2" r="1.25" fill="#0173b2"/>
<circle cx="281.1" cy="206.7" r="0.9" fill="#000000"/>
<circle cx="302.5" cy="230.8" r="1.25" fill="#0173b2"/>
<circle cx="297.0" cy="218.0" r="1.25" fill="#0173b2"/>
<circle cx="293.1" cy="239.1" r="1.25" fill="#0173b2"/>
<circle cx="273.3" cy="208.2" r="1.25" fill="#0173b2"/>
<circle cx="273.6" cy="220.3" r="0.9" fill="#000000"/>
<circle cx="303.3" cy="229.3" r="1.25" fill="#0173b2"/>
<circle cx="309.8" cy="232.8" r="1.25" fill="#0173b2"/>
<circle cx="284.9" cy="203.6" r="1.25" fill="#0173b2"/>
<circle cx="313.3" cy="214.0" r="1.25" fill="#0173b2"/>
<circle cx="258.3" cy="220.2" r="1.25" fill="#0173b2"/>
<circle cx="285.7" cy="225.0" r="1.25" fill="#0173b2"/>
<circle cx="280.2" cy="208.8" r="1.25" fill="#0173b2"/>
<circle cx="313.8" cy="225.6" r="1.25" fill="#0173b2"/>
<circle cx="263.8" cy="211.2" r="1.25" fill="#0173b2"/>
<circle cx="287.2" cy="227.3" r="1.25" fill="#0173b2"/>
<circle cx="270.2" cy="211.2" r="0.9" fill="#000000"/>
<circle cx="282.0" cy="209.3" r="1.25" fill="#0173b2"/>
<circle cx="298.3" cy="236.9" r="1.25" fill="#0173b2"/>
<circle cx="320.5" cy="218.8" r="1.25" fill="#0173b2"/>
<circle cx="274.6" cy="214.6" r="1.25" fill="#0173b2"/>
<circle cx="294.5" cy="235.6" r="1.25" fill="#0173b2"/>
<circle cx="317.1" cy="227.5" r="1.25" fill="#0173b2"/>
<circle cx="299.2" cy="218.3" r="0.9" fill="#000000"/>
<circle cx="281.9" cy="227.3" r="1.25" fill="#0173b2"/>
<circle cx="282.8" cy="221.6" r="1.25" fill="#0173b2"/>
<circle cx="318.0" cy="220.6" r="1.25" fill="#0173b2"/>
<circle cx="313.2" cy="228.2" r="1.25" fill="#0173b2"/>
<circle cx="287.6" cy="231.0" r="1.25" fill="#0173b2"/>
<circle cx="306.2" cy="231.0" r="1.25" fill="#0173b2"/>
<circle cx="279.5" cy="205.7" r="0.9" fill="#000000"/>
<circle cx="296.8" cy="223.8" r="1.25" fill="#0173b2"/>
<circle cx="283.9" cy="230.9" r="1.25" fill="#0173b2"/>
<circle cx="277.2" cy="222.5" r="1.25" fill="#0173b2"/>
<circle cx="311.2" cy="227.9" r="1.25" fill="#0173b2"/>
<circle cx="303.7" cy="211.5" r="1.25" fill="#0173b2"/>
<circle cx="296.0" cy="234.1" r="1.25" fill="#0173b2"/>
<circle cx="281.0" cy="205.8" r="1.25" fill="#0173b2"/>
<circle cx="306.8" cy="207.0" r="1.25" fill="#0173b2"/>
<circle cx="261.5" cy="212.3" r="1.25" fill="#0173b2"/>
<circle cx="270.4" cy="212.8" r="0.9" fill="#000000"/>
<circle cx="271.0" cy="213.3" r="1.25" fill="#0173b2"/>
<circle cx="265.2" cy="210.7" r="1.25" fill="#0173b2"/>
<circle cx="275.6" cy="208.4" r="0.9" fill="#000000"/>
<circle cx="287.8" cy="234.6" r="1.25" fill="#0173b2"/>
<circle cx="309.5" cy="213.0" r="1.25" fill="#0173b2"/>
<circle cx="308.0" cy="219.4" r="1.25" fill="#0173b2"/>
<circle cx="302.3" cy="231.1" r="1.25" fill="#0173b2"/>
<circle cx="293.0" cy="211.9" r="1.25" fill="#0173b2"/>
<circle cx="295.4" cy="214.6" r="0.9" fill="#000000"/>
<circle cx="275.6" cy="210.1" r="1.25" fill="#0173b2"/>
<circle cx="294.3" cy="231.1" r="1.25" fill="#0173b2"/>
<circle cx="285.3" cy="233.4" r="1.25" fill="#0173b2"/>
<circle cx="278.3" cy="226.6" r="0.9" fill="#000000"/>
<circle cx="299.9" cy="228.6" r="1.25" fill="#0173b2"/>
<circle cx="307.1" cy="214.1" r="1.25" fill="#0173b2"/>
<circle cx="311.3" cy="214.4" r="1.25" fill="#0173b2"/>
<circle cx="315.6" cy="222.0" r="1.25" fill="#0173b2"/>
<circle cx="302.2" cy="237.2" r="1.25" fill="#0173b2"/>
<circle cx="280.4" cy="202.7" r="1.25" fill="#0173b2"/>
<circle cx="291.2" cy="235.2" r="1.25" fill="#0173b2"/>
<circle cx="296.2" cy="216.7" r="1.25" fill="#0173b2"/>
<circle cx="307.8" cy="220.7" r="1.25" fill="#0173b2"/>
<circle cx="312.3" cy="226.8" r="1.25" fill="#0173b2"/>
<circle cx="304.5" cy="225.3" r="1.25" fill="#0173b2"/>
<circle cx="312.5" cy="211.3" r="1.25" fill="#0173b2"/>
<circle cx="272.8" cy="203.9" r="1.25" fill="#0173b2"/>
<circle cx="281.8" cy="228.9" r="1.25" fill="#0173b2"/>
<circle cx="313.4" cy="213.4" r="1.25" fill="#0173b2"/>
<circle cx="299.6" cy="205.7" r="1.25" fill="#0173b2"/>
<circle cx="261.9" cy="218.4" r="1.25" fill="#0173b2"/>
<circle cx="280.5" cy="213.7" r="1.25" fill="#0173b2"/>
<circle cx="311.5" cy="222.2" r="1.25" fill="#0173b2"/>
<circle cx="291.4" cy="217.5" r="1.25" fill="#0173b2"/>
<circle cx="299.6" cy="229.9" r="1.25" fill="#0173b2"/>
<circle cx="284.4" cy="221.1" r="1.25" fill="#0173b2"/>
<circle cx="321.5" cy="213.6" r="1.25" fill="#de8f05"/>
<circle cx="262.7" cy="219.7" r="1.25" fill="#0173b2"/>
<circle cx="288.0" cy="228.2" r="1.25" fill="#0173b2"/>
<circle cx="288.1" cy="214.1" r="1.25" fill="#0173b2"/>
<circle cx="284.6" cy="211.7" r="1.25" fill="#0173b2"/>
<circle cx="306.6" cy="221.3" r="1.25" fill="#0173b2"/>
<circle cx="271.0" cy="211.0" r="1.25" fill="#0173b2"/>
<circle cx="304.4" cy="240.2" r="1.25" fill="#0173b2"/>
<circle cx="305.8" cy="229.7" r="1.25" fill="#0173b2"/>
<circle cx="315.1" cy="229.8" r="1.25" fill="#0173b2"/>
<circle cx="275.4" cy="214.7" r="1.25" fill="#0173b2"/>
<circle cx="299.8" cy="240.9" r="1.25" fill="#0173b2"/>
<circle cx="260.9" cy="207.2" r="1.25" fill="#0173b2"/>
<circle cx="288.1" cy="204.2" r="1.25" fill="#0173b2"/>
<circle cx="289.5" cy="233.9" r="1.25" fill="#0173b2"/>
<circle cx="291.6" cy="208.6" r="1.25" fill="#0173b2"/>
<circle cx="304.9" cy="239.0" r="1.25" fill="#de8f05"/>
<circle cx="286.9" cy="230.2" r="1.25" fill="#0173b2"/>
<circle cx="283.0" cy="200.4" r="1.25" fill="#0173b2"/>
<circle cx="310.0" cy="219.2" r="1.25" fill="#0173b2"/>
<circle cx="316.8" cy="222.1" r="1.25" fill="#0173b2"/>
<circle cx="279.4" cy="225.8" r="1.25" fill="#0173b2"/>
<circle cx="290.0" cy="226.4" r="1.25" fill="#0173b2"/>
<circle cx="283.3" cy="204.3" r="1.25" fill="#0173b2"/>
<circle cx="266.3" cy="208.3" r="1.25" fill="#0173b2"/>
<circle cx="296.7" cy="226.3" r="1.25" fill="#0173b2"/>
<circle cx="287.1" cy="202.8" r="1.25" fill="#0173b2"/>
<circle cx="261.6" cy="219.4" r="1.25" fill="#0173b2"/>
<circle cx="302.5" cy="229.5" r="1.25" fill="#0173b2"/>
<circle cx="300.9" cy="228.6" r="1.25" fill="#0173b2"/>
<circle cx="297.6" cy="202.6" r="1.25" fill="#0173b2"/>
<circle cx="283.9" cy="232.5" r="1.25" fill="#0173b2"/>
<circle cx="299.9" cy="230.6" r="1.25" fill="#0173b2"/>
<circle cx="261.2" cy="209.9" r="0.9" fill="#000000"/>
<circle cx="319.5" cy="226.4" r="0.9" fill="#000000"/>
<circle cx="275.4" cy="206.3" r="1.25" fill="#0173b2"/>
<circle cx="308.0" cy="204.3" r="1.25" fill="#de8f05"/>
<circle cx="304.9" cy="207.7" r="1.25" fill="#0173b2"/>
<circle cx="294.7" cy="233.9" r="1.25" fill="#0173b2"/>
<circle cx="299.0" cy="224.6" r="1.25" fill="#0173b2"/>
<circle cx="294.1" cy="212.0" r="1.25" fill="#0173b2"/>
<circle cx="311.6" cy="218.9" r="1.25" fill="#0173b2"/>
<circle cx="301.0" cy="208.6" r="1.25" fill="#0173b2"/>
<circle cx="294.1" cy="214.6" r="1.25" fill="#0173b2"/>
<circle cx="306.3" cy="235.1" r="1.25" fill="#0173b2"/>
<circle cx="264.7" cy="215.2" r="1.25" fill="#0173b2"/>
<circle cx="308.4" cy="206.1" r="1.25" fill="#0173b2"/>
<circle cx="297.6" cy="221.5" r="1.25" fill="#0173b2"/>
<circle cx="284.9" cy="225.2" r="1.25" fill="#0173b2"/>
<circle cx="313.3" cy="229.6" r="1.25" fill="#0173b2"/>
<circle cx="303.0" cy="235.1" r="1.25" fill="#0173b2"/>
<circle cx="316.0" cy="207.4" r="0.9" fill="#000000"/>
<circle cx="287.2" cy="229.2" r="1.25" fill="#0173b2"/>
<circle cx="277.9" cy="214.4" r="1.25" fill="#0173b2"/>
<circle cx="264.3" cy="218.3" r="1.25" fill="#de8f05"/>
<circle cx="301.2" cy="238.5" r="1.25" fill="#0173b2"/>
<circle cx="307.8" cy="211.3" r="1.25" fill="#0173b2"/>
<circle cx="285.3" cy="200.9" r="1.25" fill="#0173b2"/>
<circle cx="279.7" cy="231.8" r="1.25" fill="#0173b2"/>
<circle cx="293.2" cy="204.3" r="1.25" fill="#0173b2"/>
<circle cx="278.7" cy="225.9" r="1.25" fill="#0173b2"/>
<circle cx="293.5" cy="239.9" r="1.25" fill="#0173b2"/>
<circle cx="293.1" cy="226.8" r="1.25" fill="#0173b2"/>
<circle cx="320.0" cy="216.8" r="0.9" fill="#000000"/>
<circle cx="303.6" cy="240.0" r="1.25" fill="#0173b2"/>
<circle cx="272.0" cy="211.9" r="0.9" fill="#000000"/>
<circle cx="258.9" cy="210.7" r="1.25" fill="#0173b2"/>
<circle cx="287.0" cy="228.4" r="1.25" fill="#0173b2"/>
<circle cx="307.3" cy="231.1" r="1.25" fill="#0173b2"/>
<circle cx="275.0" cy="201.1" r="1.25" fill="#0173b2"/>
<circle cx="271.8" cy="210.7" r="0.9" fill="#000000"/>
<circle cx="300.5" cy="224.4" r="1.25" fill="#0173b2"/>
<circle cx="297.5" cy="228.7" r="1.25" fill="#0173b2"/>
<circle cx="259.0" cy="214.9" r="1.25" fill="#0173b2"/>
<circle cx="269.8" cy="204.1" r="1.25" fill="#0173b2"/>
<circle cx="285.0" cy="228.5" r="1.25" fill="#0173b2"/>
<circle cx="306.1" cy="203.9" r="0.9" fill="#000000"/>
<circle cx="311.1" cy="227.7" r="1.25" fill="#0173b2"/>
<circle cx="258.6" cy="207.8" r="0.9" fill="#000000"/>
<circle cx="296.8" cy="227.3" r="1.25" fill="#0173b2"/>
<circle cx="267.5" cy="204.0" r="1.25" fill="#de8f05"/>
<circle cx="283.3" cy="226.9" r="1.25" fill="#0173b2"/>
<circle cx="272.8" cy="202.7" r="1.25" fill="#0173b2"/>
<circle cx="321.7" cy="215.0" r="1.25" fill="#0173b2"/>
<circle cx="274.6" cy="215.1" r="1.25" fill="#0173b2"/>
<circle cx="265.4" cy="210.3" r="1.25" fill="#0173b2"/>
<circle cx="276.9" cy="215.7" r="1.25" fill="#0173b2"/>
<circle cx="272.8" cy="208.0" r="1.25" fill="#0173b2"/>
<circle cx="283.4" cy="215.1" r="1.25" fill="#0173b2"/>
<circle cx="313.3" cy="209.7" r="1.25" fill="#0173b2"/>
<circle cx="287.0" cy="204.8" r="1.25" fill="#0173b2"/>
<circle cx="305.0" cy="203.9" r="1.25" fill="#0173b2"/>
<circle cx="289.7" cy="207.2" r="1.25" fill="#0173b2"/>
<circle cx="287.1" cy="204.9" r="1.25" fill="#0173b2"/>
<circle cx="281.9" cy="219.4" r="0.9" fill="#000000"/>
<circle cx="294.7" cy="203.0" r="1.25" fill="#0173b2"/>
<circle cx="307.2" cy="223.2" r="1.25" fill="#0173b2"/>
<circle cx="292.7" cy="209.9" r="1.25" fill="#0173b2"/>
<circle cx="315.2" cy="208.8" r="1.25" fill="#0173b2"/>
<circle cx="288.5" cy="230.2" r="1.25" fill="#0173b2"/>
<circle cx="287.9" cy="213.1" r="1.25" fill="#0173b2"/>
<circle cx="301.8" cy="214.9" r="1.25" fill="#0173b2"/>
<circle cx="323.1" cy="219.9" r="1.25" fill="#0173b2"/>
<circle cx="292.0" cy="201.0" r="1.25" fill="#0173b2"/>
<circle cx="306.9" cy="222.2" r="1.25" fill="#0173b2"/>
<circle cx="291.0" cy="225.0" r="1.25" fill="#0173b2"/>
<circle cx="314.7" cy="215.2" r="0.9" fill="#000000"/>
<circle cx="270.0" cy="209.4" r="1.25" fill="#0173b2"/>
<circle cx="272.3" cy="201.5" r="1.25" fill="#0173b2"/>
<circle cx="267.3" cy="207.9" r="1.25" fill="#0173b2"/>
<circle cx="296.6" cy="238.8" r="1.25" fill="#0173b2"/>
<circle cx="289.5" cy="221.1" r="0.9" fill="#000000"/>
<circle cx="299.1" cy="208.9" r="1.25" fill="#0173b2"/>
<circle cx="288.2" cy="209.3" r="0.9" fill="#000000"/>
<circle cx="279.3" cy="216.8" r="1.25" fill="#0173b2"/>
<circle cx="282.7" cy="206.7" r="1.25" fill="#0173b2"/>
<circle cx="275.0" cy="218.8" r="1.25" fill="#0173b2"/>
<circle cx="305.0" cy="205.7" r="1.25" fill="#0173b2"/>
<circle cx="267.9" cy="205.7" r="1.25" fill="#0173b2"/>
<circle cx="296.4" cy="236.6" r="1.25" fill="#0173b2"/>
<circle cx="273.5" cy="206.9" r="1.25" fill="#0173b2"/>
<circle cx="287.9" cy="216.9" r="1.25" fill="#0173b2"/>
<circle cx="301.7" cy="235.5" r="0.9" fill="#000000"/>
<circle cx="285.0" cy="202.1" r="0.9" fill="#000000"/>
<circle cx="277.1" cy="211.9" r="0.9" fill="#000000"/>
<circle cx="315.5" cy="217.3" r="1.25" fill="#0173b2"/>
<circle cx="301.2" cy="221.2" r="1.25" fill="#0173b2"/>
<circle cx="296.8" cy="233.1" r="1.25" fill="#0173b2"/>
<circle cx="295.7" cy="207.5" r="1.25" fill="#0173b2"/>
<circle cx="274.9" cy="209.8" r="1.25" fill="#0173b2"/>
<circle cx="292.6" cy="228.0" r="1.25" fill="#0173b2"/>
<circle cx="307.0" cy="225.8" r="1.25" fill="#0173b2"/>
<circle cx="302.4" cy="233.0" r="1.25" fill="#0173b2"/>
<circle cx="289.4" cy="228.0" r="1.25" fill="#0173b2"/>
<circle cx="300.8" cy="207.4" r="0.9" fill="#000000"/>
<circle cx="309.9" cy="209.6" r="1.25" fill="#0173b2"/>
<circle cx="317.5" cy="209.6" r="1.25" fill="#0173b2"/>
<circle cx="281.8" cy="227.4" r="1.25" fill="#0173b2"/>
<circle cx="266.4" cy="209.2" r="1.25" fill="#0173b2"/>
<circle cx="275.6" cy="201.5" r="1.25" fill="#0173b2"/>
<circle cx="284.8" cy="217.4" r="1.25" fill="#0173b2"/>
<circle cx="296.5" cy="238.9" r="1.25" fill="#0173b2"/>
<circle cx="281.5" cy="229.1" r="1.25" fill="#0173b2"/>
<circle cx="269.6" cy="219.9" r="1.25" fill="#0173b2"/>
<circle cx="302.7" cy="206.6" r="1.25" fill="#0173b2"/>
<circle cx="313.2" cy="226.5" r="1.25" fill="#0173b2"/>
<circle cx="304.6" cy="239.9" r="1.25" fill="#0173b2"/>
<circle cx="308.6" cy="212.4" r="1.25" fill="#0173b2"/>
<circle cx="312.3" cy="224.8" r="1.25" fill="#0173b2"/>
<circle cx="315.8" cy="224.3" r="1.25" fill="#0173b2"/>
<circle cx="306.0" cy="211.3" r="1.25" fill="#0173b2"/>
<circle cx="273.2" cy="211.0" r="1.25" fill="#0173b2"/>
<circle cx="280.2" cy="221.6" r="1.25" fill="#0173b2"/>
<circle cx="283.7" cy="195.7" r="1.25" fill="#0173b2"/>
<circle cx="289.5" cy="198.4" r="1.25" fill="#0173b2"/>
<circle cx="294.2" cy="198.7" r="1.25" fill="#0173b2"/>
<circle cx="285.8" cy="192.3" r="1.25" fill="#de8f05"/>
<circle cx="276.3" cy="198.3" r="1.25" fill="#0173b2"/>
<circle cx="294.3" cy="199.6" r="1.25" fill="#0173b2"/>
<circle cx="288.4" cy="192.3" r="0.9" fill="#000000"/>
<circle cx="294.5" cy="199.5" r="1.25" fill="#0173b2"/>
<circle cx="274.6" cy="198.0" r="1.25" fill="#0173b2"/>
<circle cx="275.9" cy="192.3" r="1.25" fill="#0173b2"/>
<circle cx="404.0" cy="231.0" r="1.25" fill="#0173b2"/>
<circle cx="425.8" cy="226.5" r="1.25" fill="#0173b2"/>
<circle cx="432.3" cy="232.0" r="1.25" fill="#0173b2"/>
<circle cx="431.0" cy="227.1" r="1.25" fill="#0173b2"/>
<circle cx="428.1" cy="224.0" r="1.25" fill="#0173b2"/>
<circle cx="420.3" cy="227.7" r="1.25" fill="#0173b2"/>
<circle cx="415.0" cy="229.2" r="1.25" fill="#0173b2"/>
<circle cx="426.1" cy="226.0" r="1.25" fill="#0173b2"/>
<circle cx="430.1" cy="227.8" r="1.25" fill="#0173b2"/>
<circle cx="417.7" cy="231.1" r="1.25" fill="#0173b2"/>
<circle cx="435.5" cy="224.9" r="1.25" fill="#0173b2"/>
<circle cx="424.1" cy="227.0" r="1.25" fill="#0173b2"/>
<circle cx="437.7" cy="223.9" r="1.25" fill="#0173b2"/>
<circle cx="430.0" cy="224.9" r="1.25" fill="#0173b2"/>
<circle cx="429.9" cy="228.5" r="1.25" fill="#0173b2"/>
<circle cx="438.0" cy="224.7" r="1.25" fill="#0173b2"/>
<circle cx="435.3" cy="229.1" r="1.25" fill="#0173b2"/>
<circle cx="423.5" cy="226.8" r="1.25" fill="#0173b2"/>
<circle cx="437.5" cy="224.6" r="1.25" fill="#0173b2"/>
<circle cx="433.4" cy="227.2" r="1.25" fill="#0173b2"/>
<circle cx="429.1" cy="227.5" r="1.25" fill="#0173b2"/>
<circle cx="433.7" cy="230.3" r="1.25" fill="#0173b2"/>
<circle cx="429.8" cy="230.7" r="1.25" fill="#0173b2"/>
<circle cx="437.2" cy="227.3" r="1.25" fill="#0173b2"/>
<circle cx="432.0" cy="226.5" r="1.25" fill="#0173b2"/>
<circle cx="415.9" cy="231.1" r="1.25" fill="#0173b2"/>
<circle cx="429.5" cy="226.3" r="1.25" fill="#0173b2"/>
<circle cx="431.8" cy="226.4" r="1.25" fill="#0173b2"/>
<circle cx="429.0" cy="231.6" r="1.25" fill="#0173b2"/>
<circle cx="401.7" cy="233.9" r="1.25" fill="#0173b2"/>
<circle cx="417.7" cy="227.4" r="1.25" fill="#0173b2"/>
<circle cx="431.1" cy="226.1" r="1.25" fill="#0173b2"/>
<circle cx="402.5" cy="232.3" r="1.25" fill="#0173b2"/>
<circle cx="418.0" cy="228.2" r="1.25" fill="#0173b2"/>
<circle cx="437.3" cy="227.1" r="1.25" fill="#0173b2"/>
<circle cx="435.0" cy="229.0" r="1.25" fill="#0173b2"/>
<circle cx="428.6" cy="227.1" r="1.25" fill="#0173b2"/>
<circle cx="420.2" cy="229.2" r="1.25" fill="#0173b2"/>
<circle cx="434.4" cy="231.4" r="1.25" fill="#0173b2"/>
<circle cx="430.8" cy="227.7" r="1.25" fill="#0173b2"/>
<circle cx="436.3" cy="225.8" r="1.25" fill="#0173b2"/>
<circle cx="407.1" cy="230.0" r="1.25" fill="#0173b2"/>
<circle cx="426.1" cy="225.0" r="1.25" fill="#0173b2"/>
<circle cx="431.1" cy="225.5" r="1.25" fill="#0173b2"/>
<circle cx="433.9" cy="227.7" r="1.25" fill="#0173b2"/>
<circle cx="416.5" cy="230.6" r="1.25" fill="#0173b2"/>
<circle cx="420.0" cy="229.0" r="1.25" fill="#0173b2"/>
<circle cx="407.7" cy="230.4" r="1.25" fill="#0173b2"/>
<circle cx="427.7" cy="226.6" r="1.25" fill="#0173b2"/>
<circle cx="436.2" cy="223.9" r="1.25" fill="#0173b2"/>
<circle cx="402.5" cy="233.0" r="1.25" fill="#0173b2"/>
<circle cx="424.1" cy="227.0" r="1.25" fill="#0173b2"/>
<circle cx="418.7" cy="228.7" r="1.25" fill="#0173b2"/>
<circle cx="426.9" cy="228.1" r="1.25" fill="#0173b2"/>
<circle cx="433.8" cy="230.3" r="1.25" fill="#0173b2"/>
<circle cx="433.2" cy="232.2" r="1.25" fill="#0173b2"/>
<circle cx="415.6" cy="228.6" r="1.25" fill="#0173b2"/>
<circle cx="421.4" cy="228.2" r="1.25" fill="#0173b2"/>
<circle cx="404.3" cy="234.2" r="1.25" fill="#0173b2"/>
<circle cx="418.6" cy="229.3" r="1.25" fill="#0173b2"/>
<circle cx="435.0" cy="227.6" r="1.25" fill="#0173b2"/>
<circle cx="436.3" cy="231.1" r="1.25" fill="#0173b2"/>
<circle cx="435.7" cy="229.9" r="1.25" fill="#0173b2"/>
<circle cx="406.1" cy="231.7" r="1.25" fill="#0173b2"/>
<circle cx="431.5" cy="225.1" r="1.25" fill="#0173b2"/>
<circle cx="403.3" cy="234.6" r="1.25" fill="#0173b2"/>
<circle cx="407.4" cy="232.4" r="1.25" fill="#0173b2"/>
<circle cx="427.6" cy="231.0" r="1.25" fill="#0173b2"/>
<circle cx="437.9" cy="227.7" r="1.25" fill="#0173b2"/>
<circle cx="416.9" cy="228.1" r="1.25" fill="#0173b2"/>
<circle cx="428.8" cy="224.0" r="1.25" fill="#0173b2"/>
<circle cx="422.4" cy="228.8" r="1.25" fill="#0173b2"/>
<circle cx="423.4" cy="227.4" r="1.25" fill="#0173b2"/>
<circle cx="435.8" cy="230.1" r="1.25" fill="#0173b2"/>
<circle cx="431.3" cy="232.9" r="1.25" fill="#0173b2"/>
<circle cx="463.5" cy="222.3" r="1.25" fill="#0173b2"/>
<circle cx="467.7" cy="227.8" r="1.25" fill="#0173b2"/>
<circle cx="472.5" cy="226.6" r="1.25" fill="#0173b2"/>
<circle cx="466.9" cy="221.7" r="1.25" fill="#0173b2"/>
<circle cx="460.5" cy="221.9" r="1.25" fill="#0173b2"/>
<circle cx="467.0" cy="225.3" r="1.25" fill="#0173b2"/>
<circle cx="462.8" cy="223.6" r="1.25" fill="#0173b2"/>
<circle cx="451.3" cy="221.9" r="1.25" fill="#0173b2"/>
<circle cx="469.6" cy="223.8" r="1.25" fill="#0173b2"/>
<circle cx="453.9" cy="226.2" r="1.25" fill="#0173b2"/>
<circle cx="468.1" cy="227.4" r="1.25" fill="#0173b2"/>
<circle cx="469.4" cy="223.3" r="1.25" fill="#de8f05"/>
<circle cx="460.1" cy="220.1" r="1.25" fill="#0173b2"/>
<circle cx="452.3" cy="226.5" r="1.25" fill="#0173b2"/>
<circle cx="464.0" cy="223.0" r="1.25" fill="#0173b2"/>
<circle cx="460.2" cy="219.7" r="1.25" fill="#0173b2"/>
<circle cx="459.9" cy="224.1" r="1.25" fill="#0173b2"/>
<circle cx="466.2" cy="222.6" r="1.25" fill="#0173b2"/>
<circle cx="453.2" cy="220.3" r="1.25" fill="#0173b2"/>
<circle cx="451.7" cy="220.8" r="1.25" fill="#0173b2"/>
<circle cx="456.8" cy="220.6" r="1.25" fill="#0173b2"/>
<circle cx="467.2" cy="226.0" r="1.25" fill="#0173b2"/>
<circle cx="469.2" cy="223.8" r="1.25" fill="#0173b2"/>
<circle cx="470.6" cy="228.0" r="1.25" fill="#0173b2"/>
<circle cx="466.6" cy="221.4" r="1.25" fill="#0173b2"/>
<circle cx="465.1" cy="225.1" r="1.25" fill="#0173b2"/>
<circle cx="452.8" cy="220.3" r="1.25" fill="#0173b2"/>
<circle cx="460.6" cy="221.8" r="1.25" fill="#0173b2"/>
<circle cx="462.9" cy="220.6" r="1.25" fill="#0173b2"/>
<circle cx="456.3" cy="219.0" r="1.25" fill="#0173b2"/>
<circle cx="451.8" cy="222.0" r="1.25" fill="#0173b2"/>
<circle cx="465.2" cy="222.9" r="1.25" fill="#0173b2"/>
<circle cx="464.0" cy="224.9" r="1.25" fill="#0173b2"/>
<circle cx="464.8" cy="222.8" r="1.25" fill="#0173b2"/>
<circle cx="462.0" cy="221.1" r="1.25" fill="#0173b2"/>
<circle cx="464.8" cy="226.6" r="1.25" fill="#0173b2"/>
<circle cx="472.5" cy="226.5" r="1.25" fill="#0173b2"/>
<circle cx="456.3" cy="225.2" r="1.25" fill="#0173b2"/>
<circle cx="449.1" cy="221.0" r="1.25" fill="#0173b2"/>
<circle cx="469.8" cy="224.6" r="1.25" fill="#0173b2"/>
<circle cx="451.4" cy="227.3" r="1.25" fill="#0173b2"/>
<circle cx="452.3" cy="222.9" r="1.25" fill="#0173b2"/>
<circle cx="464.4" cy="220.6" r="1.25" fill="#0173b2"/>
<circle cx="462.0" cy="222.8" r="1.25" fill="#0173b2"/>
<circle cx="454.9" cy="220.3" r="1.25" fill="#0173b2"/>
<circle cx="452.4" cy="225.5" r="1.25" fill="#0173b2"/>
<circle cx="452.6" cy="224.5" r="1.25" fill="#0173b2"/>
<circle cx="462.2" cy="223.4" r="1.25" fill="#0173b2"/>
<circle cx="458.9" cy="221.4" r="1.25" fill="#0173b2"/>
<circle cx="454.6" cy="219.8" r="1.25" fill="#0173b2"/>
<circle cx="470.3" cy="233.6" r="1.25" fill="#0173b2"/>
<circle cx="476.1" cy="235.8" r="1.25" fill="#0173b2"/>
<circle cx="477.2" cy="238.6" r="1.25" fill="#0173b2"/>
<circle cx="469.6" cy="229.1" r="1.25" fill="#0173b2"/>
<circle cx="470.8" cy="233.1" r="1.25" fill="#0173b2"/>
<circle cx="467.3" cy="233.1" r="1.25" fill="#0173b2"/>
<circle cx="477.0" cy="240.4" r="1.25" fill="#0173b2"/>
<circle cx="473.7" cy="230.4" r="1.25" fill="#0173b2"/>
<circle cx="469.6" cy="229.4" r="1.25" fill="#0173b2"/>
<circle cx="474.5" cy="236.8" r="1.25" fill="#0173b2"/>
<circle cx="473.9" cy="235.4" r="1.25" fill="#0173b2"/>
<circle cx="470.4" cy="231.1" r="1.25" fill="#0173b2"/>
<circle cx="469.6" cy="232.4" r="1.25" fill="#0173b2"/>
<circle cx="468.2" cy="234.8" r="1.25" fill="#0173b2"/>
<circle cx="470.9" cy="230.3" r="1.25" fill="#0173b2"/>
<circle cx="471.8" cy="236.4" r="1.25" fill="#0173b2"/>
<circle cx="473.9" cy="236.6" r="1.25" fill="#0173b2"/>
<circle cx="475.8" cy="236.2" r="1.25" fill="#0173b2"/>
<circle cx="471.5" cy="229.8" r="1.25" fill="#0173b2"/>
<circle cx="474.3" cy="238.1" r="0.9" fill="#000000"/>
<circle cx="469.5" cy="228.5" r="1.25" fill="#0173b2"/>
<circle cx="474.6" cy="233.9" r="1.25" fill="#0173b2"/>
<circle cx="470.0" cy="240.5" r="1.25" fill="#0173b2"/>
<circle cx="474.7" cy="243.3" r="1.25" fill="#0173b2"/>
<circle cx="470.2" cy="239.8" r="1.25" fill="#0173b2"/>
<circle cx="475.4" cy="243.3" r="1.25" fill="#0173b2"/>
<circle cx="477.5" cy="237.9" r="1.25" fill="#0173b2"/>
<circle cx="472.0" cy="236.3" r="1.25" fill="#0173b2"/>
<circle cx="470.1" cy="236.8" r="1.25" fill="#0173b2"/>
<circle cx="468.2" cy="232.6" r="1.25" fill="#0173b2"/>
<circle cx="471.8" cy="235.2" r="1.25" fill="#0173b2"/>
<circle cx="474.4" cy="241.8" r="1.25" fill="#0173b2"/>
<circle cx="471.9" cy="234.4" r="1.25" fill="#0173b2"/>
<circle cx="470.5" cy="240.5" r="1.25" fill="#0173b2"/>
<circle cx="471.5" cy="240.9" r="1.25" fill="#0173b2"/>
<circle cx="471.1" cy="234.1" r="1.25" fill="#0173b2"/>
<circle cx="469.9" cy="241.3" r="1.25" fill="#0173b2"/>
<circle cx="468.0" cy="231.8" r="1.25" fill="#0173b2"/>
<circle cx="473.7" cy="239.9" r="1.25" fill="#0173b2"/>
<circle cx="474.2" cy="232.5" r="1.25" fill="#0173b2"/>
<circle cx="468.8" cy="239.8" r="1.25" fill="#0173b2"/>
<circle cx="468.9" cy="243.9" r="1.25" fill="#0173b2"/>
<circle cx="450.4" cy="233.7" r="1.25" fill="#0173b2"/>
<circle cx="462.2" cy="239.3" r="1.25" fill="#0173b2"/>
<circle cx="448.4" cy="239.3" r="1.25" fill="#0173b2"/>
<circle cx="466.8" cy="244.6" r="1.25" fill="#0173b2"/>
<circle cx="453.4" cy="238.3" r="1.25" fill="#0173b2"/>
<circle cx="445.1" cy="236.2" r="1.25" fill="#de8f05"/>
<circle cx="465.6" cy="237.0" r="1.25" fill="#0173b2"/>
<circle cx="466.7" cy="238.4" r="1.25" fill="#0173b2"/>
<circle cx="463.2" cy="237.6" r="1.25" fill="#0173b2"/>
<circle cx="467.0" cy="238.6" r="1.25" fill="#0173b2"/>
<circle cx="458.0" cy="235.9" r="1.25" fill="#0173b2"/>
<circle cx="452.0" cy="237.7" r="1.25" fill="#0173b2"/>
<circle cx="451.4" cy="243.3" r="1.25" fill="#0173b2"/>
<circle cx="460.5" cy="241.3" r="1.25" fill="#0173b2"/>
<circle cx="458.5" cy="236.4" r="1.25" fill="#0173b2"/>
<circle cx="465.6" cy="245.5" r="1.25" fill="#0173b2"/>
<circle cx="457.7" cy="240.5" r="1.25" fill="#0173b2"/>
<circle cx="441.6" cy="236.9" r="1.25" fill="#0173b2"/>
<circle cx="458.2" cy="239.6" r="1.25" fill="#0173b2"/>
<circle cx="446.8" cy="236.7" r="1.25" fill="#0173b2"/>
<circle cx="447.7" cy="240.7" r="1.25" fill="#0173b2"/>
<circle cx="464.3" cy="236.1" r="1.25" fill="#0173b2"/>
<circle cx="442.1" cy="237.7" r="1.25" fill="#0173b2"/>
<circle cx="458.9" cy="243.5" r="1.25" fill="#0173b2"/>
<circle cx="456.6" cy="237.8" r="1.25" fill="#0173b2"/>
<circle cx="443.6" cy="235.9" r="1.25" fill="#0173b2"/>
<circle cx="443.2" cy="238.9" r="1.25" fill="#0173b2"/>
<circle cx="443.2" cy="237.5" r="1.25" fill="#0173b2"/>
<circle cx="455.4" cy="236.4" r="1.25" fill="#0173b2"/>
<circle cx="445.5" cy="239.6" r="1.25" fill="#0173b2"/>
<circle cx="451.4" cy="244.8" r="1.25" fill="#0173b2"/>
<circle cx="466.3" cy="237.4" r="1.25" fill="#0173b2"/>
<circle cx="458.6" cy="240.4" r="1.25" fill="#0173b2"/>
<circle cx="451.4" cy="233.8" r="1.25" fill="#0173b2"/>
<circle cx="456.1" cy="236.9" r="1.25" fill="#0173b2"/>
<circle cx="465.3" cy="237.1" r="1.25" fill="#0173b2"/>
<circle cx="452.3" cy="234.5" r="1.25" fill="#0173b2"/>
<circle cx="460.0" cy="238.7" r="1.25" fill="#0173b2"/>
<circle cx="453.9" cy="244.3" r="1.25" fill="#0173b2"/>
<circle cx="460.6" cy="242.0" r="1.25" fill="#0173b2"/>
<circle cx="454.4" cy="235.0" r="1.25" fill="#0173b2"/>
<circle cx="459.5" cy="242.3" r="1.25" fill="#0173b2"/>
<circle cx="459.5" cy="234.1" r="1.25" fill="#0173b2"/>
<circle cx="445.5" cy="239.6" r="1.25" fill="#0173b2"/>
<circle cx="456.7" cy="234.1" r="1.25" fill="#0173b2"/>
<circle cx="458.6" cy="234.1" r="1.25" fill="#0173b2"/>
<circle cx="460.5" cy="240.1" r="1.25" fill="#0173b2"/>
<circle cx="463.4" cy="240.5" r="1.25" fill="#0173b2"/>
<circle cx="453.5" cy="244.3" r="1.25" fill="#0173b2"/>
<circle cx="462.6" cy="237.5" r="1.25" fill="#0173b2"/>
<circle cx="469.0" cy="244.2" r="1.25" fill="#0173b2"/>
<circle cx="443.6" cy="241.1" r="1.25" fill="#0173b2"/>
<circle cx="461.9" cy="236.0" r="1.25" fill="#0173b2"/>
<circle cx="455.8" cy="232.3" r="1.25" fill="#0173b2"/>
<circle cx="453.4" cy="244.3" r="1.25" fill="#0173b2"/>
<circle cx="456.2" cy="244.8" r="1.25" fill="#0173b2"/>
<circle cx="466.9" cy="237.1" r="1.25" fill="#0173b2"/>
<circle cx="450.4" cy="233.1" r="1.25" fill="#0173b2"/>
<circle cx="458.9" cy="233.9" r="1.25" fill="#0173b2"/>
<circle cx="449.1" cy="236.2" r="1.25" fill="#de8f05"/>
<circle cx="467.1" cy="244.9" r="0.9" fill="#000000"/>
<circle cx="453.4" cy="243.8" r="1.25" fill="#0173b2"/>
<circle cx="467.7" cy="244.0" r="1.25" fill="#0173b2"/>
<circle cx="467.7" cy="240.2" r="1.25" fill="#0173b2"/>
<circle cx="465.8" cy="234.2" r="1.25" fill="#0173b2"/>
<circle cx="454.1" cy="243.7" r="1.25" fill="#0173b2"/>
<circle cx="448.8" cy="243.0" r="1.25" fill="#0173b2"/>
<circle cx="447.8" cy="242.3" r="1.25" fill="#0173b2"/>
<circle cx="450.4" cy="227.4" r="1.25" fill="#0173b2"/>
<circle cx="453.5" cy="229.8" r="1.25" fill="#0173b2"/>
<circle cx="451.8" cy="227.3" r="1.25" fill="#0173b2"/>
<circle cx="451.7" cy="231.7" r="1.25" fill="#0173b2"/>
<circle cx="455.1" cy="229.0" r="1.25" fill="#0173b2"/>
<circle cx="458.0" cy="229.5" r="1.25" fill="#0173b2"/>
<circle cx="453.5" cy="232.1" r="1.25" fill="#0173b2"/>
<circle cx="450.1" cy="231.6" r="1.25" fill="#0173b2"/>
<circle cx="451.8" cy="232.3" r="1.25" fill="#0173b2"/>
<circle cx="448.9" cy="227.9" r="1.25" fill="#0173b2"/>
<circle cx="454.9" cy="229.6" r="1.25" fill="#0173b2"/>
<circle cx="452.0" cy="230.4" r="1.25" fill="#0173b2"/>
<circle cx="450.3" cy="229.2" r="1.25" fill="#0173b2"/>
<circle cx="450.7" cy="232.5" r="1.25" fill="#0173b2"/>
<circle cx="454.0" cy="230.6" r="1.25" fill="#0173b2"/>
<circle cx="456.4" cy="228.0" r="1.25" fill="#0173b2"/>
<circle cx="457.4" cy="232.1" r="1.25" fill="#0173b2"/>
<circle cx="455.4" cy="232.4" r="1.25" fill="#0173b2"/>
<circle cx="452.7" cy="231.2" r="1.25" fill="#0173b2"/>
<circle cx="449.0" cy="229.0" r="1.25" fill="#0173b2"/>
<circle cx="450.3" cy="232.8" r="1.25" fill="#0173b2"/>
<circle cx="452.2" cy="226.8" r="1.25" fill="#0173b2"/>
<circle cx="437.5" cy="231.4" r="1.25" fill="#0173b2"/>
<circle cx="437.6" cy="229.9" r="1.25" fill="#0173b2"/>
<circle cx="442.4" cy="229.4" r="1.25" fill="#0173b2"/>
<circle cx="442.0" cy="235.2" r="1.25" fill="#0173b2"/>
<circle cx="437.7" cy="223.5" r="1.25" fill="#0173b2"/>
<circle cx="445.6" cy="231.3" r="1.25" fill="#0173b2"/>
<circle cx="442.4" cy="226.1" r="1.25" fill="#0173b2"/>
<circle cx="445.8" cy="227.4" r="1.25" fill="#0173b2"/>
<circle cx="442.9" cy="232.4" r="1.25" fill="#0173b2"/>
<circle cx="440.1" cy="230.0" r="1.25" fill="#0173b2"/>
<circle cx="442.6" cy="233.7" r="1.25" fill="#0173b2"/>
<circle cx="438.4" cy="224.1" r="1.25" fill="#0173b2"/>
<circle cx="438.5" cy="224.2" r="1.25" fill="#0173b2"/>
<circle cx="441.8" cy="226.6" r="1.25" fill="#0173b2"/>
<circle cx="439.1" cy="229.7" r="1.25" fill="#0173b2"/>
<circle cx="440.1" cy="234.5" r="1.25" fill="#0173b2"/>
<circle cx="439.5" cy="224.5" r="1.25" fill="#0173b2"/>
<circle cx="444.6" cy="234.4" r="1.25" fill="#0173b2"/>
<circle cx="440.7" cy="236.6" r="1.25" fill="#0173b2"/>
<circle cx="440.4" cy="227.5" r="1.25" fill="#0173b2"/>
<circle cx="442.1" cy="229.4" r="1.25" fill="#0173b2"/>
<circle cx="441.0" cy="234.2" r="1.25" fill="#0173b2"/>
<circle cx="446.5" cy="229.9" r="1.25" fill="#0173b2"/>
<circle cx="437.5" cy="228.9" r="1.25" fill="#0173b2"/>
<circle cx="447.3" cy="228.9" r="1.25" fill="#0173b2"/>
<circle cx="478.6" cy="228.6" r="1.25" fill="#0173b2"/>
<circle cx="481.3" cy="226.5" r="1.25" fill="#0173b2"/>
<circle cx="484.1" cy="223.8" r="1.25" fill="#0173b2"/>
<circle cx="486.9" cy="219.6" r="1.25" fill="#0173b2"/>
<circle cx="489.6" cy="215.5" r="1.25" fill="#0173b2"/>
<circle cx="492.4" cy="211.4" r="1.25" fill="#0173b2"/>
<circle cx="495.1" cy="207.9" r="1.25" fill="#0173b2"/>
<circle cx="497.9" cy="204.5" r="1.25" fill="#0173b2"/>
<circle cx="495.8" cy="202.4" r="1.25" fill="#0173b2"/>
<circle cx="499.3" cy="202.4" r="1.25" fill="#0173b2"/>
<circle cx="501.3" cy="205.2" r="1.25" fill="#0173b2"/>
<circle cx="498.6" cy="207.9" r="1.25" fill="#0173b2"/>
<circle cx="486.2" cy="222.4" r="1.25" fill="#de8f05"/>
<circle cx="482.7" cy="209.3" r="1.25" fill="#0173b2"/>
<circle cx="484.1" cy="211.4" r="1.25" fill="#0173b2"/>
<circle cx="487.5" cy="212.0" r="1.25" fill="#0173b2"/>
<circle cx="477.9" cy="219.6" r="1.25" fill="#de8f05"/>
<circle cx="473.8" cy="223.1" r="1.25" fill="#0173b2"/>
<circle cx="488.2" cy="232.0" r="1.25" fill="#0173b2"/>
<circle cx="460.7" cy="213.4" r="1.25" fill="#0173b2"/>
<circle cx="457.2" cy="216.2" r="1.25" fill="#0173b2"/>
<circle cx="461.0" cy="215.0" r="1.25" fill="#0173b2"/>
<circle cx="458.6" cy="226.5" r="1.25" fill="#de8f05"/>
<circle cx="466.2" cy="234.8" r="1.25" fill="#d55e00"/>
<circle cx="471.7" cy="234.1" r="1.25" fill="#de8f05"/>
<circle cx="473.0" cy="235.0" r="1.25" fill="#de8f05"/>
<circle cx="475.1" cy="231.3" r="1.25" fill="#de8f05"/>
<circle cx="462.7" cy="243.0" r="1.25" fill="#de8f05"/>
<circle cx="473.1" cy="245.1" r="1.25" fill="#de8f05"/>
<circle cx="448.3" cy="248.6" r="1.25" fill="#de8f05"/>
<circle cx="477.2" cy="238.9" r="1.25" fill="#de8f05"/>
<circle cx="462.0" cy="232.7" r="1.25" fill="#029e73"/>
<circle cx="477.2" cy="234.1" r="1.25" fill="#029e73"/>
<circle cx="454.5" cy="240.3" r="1.25" fill="#029e73"/>
<circle cx="447.6" cy="225.8" r="0.9" fill="#000000"/>
<circle cx="480.0" cy="230.7" r="0.9" fill="#000000"/>
<circle cx="452.7" cy="169.1" r="1.25" fill="#0173b2"/>
<circle cx="454.2" cy="169.5" r="1.25" fill="#de8f05"/>
<circle cx="456.0" cy="169.1" r="1.25" fill="#0173b2"/>
<circle cx="453.5" cy="172.4" r="1.25" fill="#0173b2"/>
<circle cx="455.3" cy="172.0" r="1.25" fill="#0173b2"/>
<circle cx="454.9" cy="176.0" r="1.25" fill="#de8f05"/>
<circle cx="455.6" cy="177.1" r="1.25" fill="#de8f05"/>
<circle cx="457.5" cy="179.6" r="1.25" fill="#0173b2"/>
<circle cx="457.1" cy="180.4" r="1.25" fill="#de8f05"/>
<circle cx="534.0" cy="224.5" r="1.25" fill="#de8f05"/>
<circle cx="535.1" cy="223.0" r="1.25" fill="#de8f05"/>
<circle cx="536.3" cy="222.5" r="1.25" fill="#de8f05"/>
<circle cx="536.8" cy="224.2" r="1.25" fill="#de8f05"/>
<circle cx="538.0" cy="225.9" r="1.25" fill="#de8f05"/>
<circle cx="538.6" cy="227.1" r="1.25" fill="#de8f05"/>
<circle cx="534.5" cy="225.5" r="1.25" fill="#de8f05"/>
<circle cx="457.0" cy="216.2" r="1.25" fill="#0173b2"/>
<circle cx="460.5" cy="214.1" r="1.25" fill="#0173b2"/>
<circle cx="488.5" cy="214.0" r="1.25" fill="#0173b2"/>
<circle cx="493.5" cy="209.5" r="1.25" fill="#0173b2"/>
<circle cx="496.5" cy="206.0" r="1.25" fill="#0173b2"/>
<circle cx="490.5" cy="213.0" r="1.25" fill="#0173b2"/>
<circle cx="485.0" cy="221.5" r="1.25" fill="#0173b2"/>
<circle cx="415.7" cy="232.0" r="1.25" fill="#de8f05"/>
<circle cx="410.8" cy="249.3" r="1.25" fill="#de8f05"/>
<circle cx="427.4" cy="237.6" r="1.25" fill="#029e73"/>
<circle cx="428.1" cy="242.4" r="1.25" fill="#029e73"/>
<circle cx="430.1" cy="250.0" r="1.25" fill="#029e73"/>
<circle cx="452.2" cy="252.0" r="1.25" fill="#029e73"/>
<circle cx="455.6" cy="251.3" r="1.25" fill="#029e73"/>
<circle cx="424.6" cy="232.7" r="0.9" fill="#000000"/>
<circle cx="429.4" cy="236.2" r="0.9" fill="#000000"/>
<circle cx="431.5" cy="238.9" r="0.9" fill="#000000"/>
<circle cx="435.0" cy="241.0" r="0.9" fill="#000000"/>
<circle cx="436.3" cy="243.1" r="0.9" fill="#000000"/>
<circle cx="434.3" cy="254.8" r="0.9" fill="#000000"/>
<circle cx="433.6" cy="258.2" r="0.9" fill="#000000"/>
<circle cx="437.7" cy="258.9" r="0.9" fill="#000000"/>
<circle cx="452.9" cy="257.5" r="0.9" fill="#000000"/>
<circle cx="454.9" cy="258.2" r="0.9" fill="#000000"/>
<circle cx="436.3" cy="234.8" r="1.25" fill="#d55e00"/>
<circle cx="452.9" cy="261.7" r="1.25" fill="#d55e00"/>
<circle cx="428.2" cy="244.4" r="0.9" fill="#000000"/>
<circle cx="434.2" cy="255.8" r="0.9" fill="#000000"/>
<circle cx="433.1" cy="259.6" r="0.9" fill="#000000"/>
<circle cx="436.4" cy="263.4" r="0.9" fill="#000000"/>
<circle cx="436.9" cy="271.6" r="0.9" fill="#000000"/>
<circle cx="446.2" cy="269.4" r="0.9" fill="#000000"/>
<circle cx="449.4" cy="256.4" r="0.9" fill="#000000"/>
<circle cx="454.9" cy="258.0" r="0.9" fill="#000000"/>
<circle cx="452.7" cy="259.1" r="0.9" fill="#000000"/>
<circle cx="435.3" cy="241.6" r="0.9" fill="#000000"/>
<circle cx="428.7" cy="242.2" r="1.25" fill="#029e73"/>
<circle cx="429.8" cy="250.4" r="1.25" fill="#029e73"/>
<circle cx="452.7" cy="252.5" r="1.25" fill="#029e73"/>
<circle cx="456.0" cy="250.9" r="1.25" fill="#029e73"/>
<circle cx="449.4" cy="250.9" r="1.25" fill="#d55e00"/>
<circle cx="452.7" cy="261.3" r="1.25" fill="#d55e00"/>
<circle cx="447.8" cy="253.1" r="1.25" fill="#0173b2"/>
<circle cx="474.5" cy="255.3" r="1.25" fill="#0173b2"/>
<circle cx="472.9" cy="253.1" r="1.25" fill="#0173b2"/>
<circle cx="473.5" cy="250.0" r="1.25" fill="#0173b2"/>
<circle cx="427.0" cy="245.5" r="1.25" fill="#de8f05"/>
<circle cx="426.7" cy="247.5" r="1.25" fill="#de8f05"/>
<circle cx="427.2" cy="248.8" r="1.25" fill="#de8f05"/>
<circle cx="428.5" cy="248.7" r="1.25" fill="#de8f05"/>
<circle cx="426.0" cy="250.6" r="0.9" fill="#000000"/>
<circle cx="427.2" cy="252.7" r="1.25" fill="#de8f05"/>
<circle cx="428.0" cy="252.3" r="1.25" fill="#de8f05"/>
<circle cx="428.4" cy="253.7" r="1.25" fill="#de8f05"/>
<circle cx="431.1" cy="255.8" r="1.25" fill="#de8f05"/>
<circle cx="430.5" cy="256.1" r="1.25" fill="#de8f05"/>
<circle cx="432.0" cy="256.5" r="1.25" fill="#de8f05"/>
<circle cx="433.2" cy="258.7" r="0.9" fill="#000000"/>
<circle cx="435.7" cy="259.4" r="1.25" fill="#de8f05"/>
<circle cx="435.7" cy="259.3" r="1.25" fill="#de8f05"/>
<circle cx="436.1" cy="260.7" r="1.25" fill="#de8f05"/>
<circle cx="436.5" cy="261.2" r="1.25" fill="#de8f05"/>
<circle cx="437.6" cy="262.1" r="0.9" fill="#000000"/>
<circle cx="438.6" cy="263.7" r="1.25" fill="#de8f05"/>
<circle cx="441.3" cy="263.6" r="1.25" fill="#de8f05"/>
<circle cx="442.1" cy="263.6" r="1.25" fill="#de8f05"/>
<circle cx="442.8" cy="264.6" r="1.25" fill="#de8f05"/>
<circle cx="442.4" cy="264.3" r="1.25" fill="#de8f05"/>
<circle cx="443.9" cy="263.8" r="1.25" fill="#de8f05"/>
<circle cx="447.2" cy="263.6" r="1.25" fill="#de8f05"/>
<circle cx="449.5" cy="261.4" r="1.25" fill="#de8f05"/>
<circle cx="447.7" cy="260.9" r="1.25" fill="#de8f05"/>
<circle cx="447.2" cy="260.7" r="1.25" fill="#de8f05"/>
<circle cx="448.1" cy="258.0" r="1.25" fill="#de8f05"/>
<circle cx="449.4" cy="257.3" r="1.25" fill="#de8f05"/>
<circle cx="448.6" cy="256.0" r="1.25" fill="#de8f05"/>
<circle cx="449.0" cy="255.7" r="1.25" fill="#de8f05"/>
<circle cx="448.2" cy="254.2" r="1.25" fill="#de8f05"/>
<circle cx="447.9" cy="252.7" r="1.25" fill="#de8f05"/>
<circle cx="447.7" cy="252.8" r="1.25" fill="#de8f05"/>
<circle cx="445.5" cy="251.4" r="0.9" fill="#000000"/>
<circle cx="447.0" cy="250.2" r="1.25" fill="#de8f05"/>
<circle cx="447.2" cy="248.4" r="1.25" fill="#de8f05"/>
<circle cx="447.9" cy="248.1" r="1.25" fill="#de8f05"/>
<circle cx="448.5" cy="247.1" r="1.25" fill="#de8f05"/>
<circle cx="429.9" cy="254.5" r="1.25" fill="#de8f05"/>
<circle cx="432.1" cy="251.2" r="1.25" fill="#de8f05"/>
<circle cx="430.2" cy="251.1" r="1.25" fill="#de8f05"/>
<circle cx="432.9" cy="250.4" r="1.25" fill="#de8f05"/>
<circle cx="433.1" cy="254.6" r="1.25" fill="#de8f05"/>
<circle cx="431.2" cy="253.2" r="0.9" fill="#000000"/>
<circle cx="438.5" cy="261.9" r="0.9" fill="#000000"/>
<circle cx="428.5" cy="250.9" r="1.25" fill="#de8f05"/>
<circle cx="428.7" cy="253.9" r="1.25" fill="#de8f05"/>
<circle cx="435.1" cy="257.3" r="1.25" fill="#de8f05"/>
<circle cx="431.5" cy="253.4" r="1.25" fill="#de8f05"/>
<circle cx="435.7" cy="258.1" r="1.25" fill="#de8f05"/>
<circle cx="431.6" cy="255.5" r="1.25" fill="#de8f05"/>
<circle cx="436.4" cy="257.7" r="0.9" fill="#000000"/>
<circle cx="448.9" cy="259.0" r="1.25" fill="#de8f05"/>
<circle cx="449.4" cy="253.2" r="1.25" fill="#de8f05"/>
<circle cx="453.4" cy="250.4" r="1.25" fill="#de8f05"/>
<circle cx="452.2" cy="251.0" r="1.25" fill="#de8f05"/>
<circle cx="447.1" cy="250.2" r="1.25" fill="#de8f05"/>
<circle cx="448.5" cy="259.9" r="1.25" fill="#de8f05"/>
<circle cx="448.9" cy="253.5" r="1.25" fill="#de8f05"/>
<circle cx="450.8" cy="253.3" r="1.25" fill="#de8f05"/>
<circle cx="455.5" cy="253.3" r="1.25" fill="#de8f05"/>
<circle cx="447.1" cy="257.9" r="1.25" fill="#de8f05"/>
<circle cx="451.5" cy="251.4" r="1.25" fill="#de8f05"/>
<circle cx="447.4" cy="259.9" r="1.25" fill="#de8f05"/>
<circle cx="431.5" cy="247.6" r="1.25" fill="#de8f05"/>
<circle cx="434.2" cy="250.9" r="1.25" fill="#de8f05"/>
<circle cx="436.9" cy="254.7" r="1.25" fill="#de8f05"/>
<circle cx="439.6" cy="248.7" r="1.25" fill="#de8f05"/>
<circle cx="430.8" cy="246.5" r="1.25" fill="#de8f05"/>
<circle cx="435.0" cy="250.6" r="1.25" fill="#de8f05"/>
<circle cx="439.1" cy="249.3" r="1.25" fill="#de8f05"/>
<circle cx="457.6" cy="255.8" r="1.25" fill="#de8f05"/>
<circle cx="458.0" cy="253.0" r="1.25" fill="#de8f05"/>
<circle cx="459.0" cy="250.0" r="1.25" fill="#de8f05"/>
<circle cx="455.0" cy="256.5" r="1.25" fill="#de8f05"/>
<circle cx="451.0" cy="258.0" r="1.25" fill="#de8f05"/>
<circle cx="443.1" cy="271.5" r="1.25" fill="#de8f05"/>
<circle cx="440.3" cy="271.5" r="1.25" fill="#de8f05"/>
<circle cx="440.2" cy="265.8" r="1.25" fill="#de8f05"/>
<circle cx="434.3" cy="270.4" r="1.25" fill="#de8f05"/>
<circle cx="444.2" cy="269.6" r="1.25" fill="#de8f05"/>
<circle cx="440.6" cy="266.4" r="0.9" fill="#000000"/>
<circle cx="437.3" cy="264.1" r="1.25" fill="#de8f05"/>
<circle cx="442.0" cy="270.0" r="0.9" fill="#000000"/>
<circle cx="444.2" cy="267.7" r="1.25" fill="#de8f05"/>
<circle cx="443.9" cy="266.3" r="1.25" fill="#de8f05"/>
<circle cx="441.5" cy="271.5" r="1.25" fill="#de8f05"/>
<circle cx="442.6" cy="272.4" r="1.25" fill="#de8f05"/>
<circle cx="433.3" cy="268.2" r="1.25" fill="#de8f05"/>
<circle cx="438.6" cy="271.3" r="1.25" fill="#de8f05"/>
<circle cx="434.0" cy="263.8" r="1.25" fill="#de8f05"/>
<circle cx="438.0" cy="273.0" r="1.25" fill="#de8f05"/>
<circle cx="445.4" cy="271.2" r="1.25" fill="#de8f05"/>
<circle cx="435.0" cy="266.2" r="1.25" fill="#de8f05"/>
<circle cx="437.7" cy="269.8" r="1.25" fill="#de8f05"/>
<circle cx="436.5" cy="269.4" r="0.9" fill="#000000"/>
<circle cx="434.4" cy="266.5" r="1.25" fill="#de8f05"/>
<circle cx="438.2" cy="271.8" r="1.25" fill="#de8f05"/>
<circle cx="441.0" cy="269.1" r="1.25" fill="#de8f05"/>
<circle cx="437.5" cy="265.7" r="1.25" fill="#de8f05"/>
<circle cx="432.1" cy="268.7" r="1.25" fill="#de8f05"/>
<circle cx="439.4" cy="267.2" r="1.25" fill="#de8f05"/>
<circle cx="443.4" cy="271.4" r="1.25" fill="#de8f05"/>
<circle cx="433.0" cy="269.3" r="0.9" fill="#000000"/>
<circle cx="442.3" cy="265.9" r="0.9" fill="#000000"/>
<circle cx="435.2" cy="269.1" r="1.25" fill="#de8f05"/>
<circle cx="436.0" cy="271.0" r="1.25" fill="#de8f05"/>
<circle cx="436.6" cy="268.7" r="0.9" fill="#000000"/>
<circle cx="440.6" cy="272.6" r="1.25" fill="#de8f05"/>
<circle cx="447.9" cy="263.3" r="1.25" fill="#de8f05"/>
<circle cx="440.4" cy="270.6" r="0.9" fill="#000000"/>
<circle cx="441.6" cy="268.0" r="1.25" fill="#de8f05"/>
<circle cx="440.1" cy="270.4" r="0.9" fill="#000000"/>
<circle cx="445.9" cy="263.6" r="1.25" fill="#de8f05"/>
<circle cx="444.6" cy="265.5" r="1.25" fill="#de8f05"/>
<circle cx="434.8" cy="270.4" r="1.25" fill="#de8f05"/>
<circle cx="441.3" cy="266.4" r="1.25" fill="#de8f05"/>
<circle cx="447.2" cy="265.6" r="1.25" fill="#de8f05"/>
<circle cx="437.6" cy="266.6" r="0.9" fill="#000000"/>
<circle cx="434.0" cy="268.9" r="1.25" fill="#de8f05"/>
<circle cx="446.9" cy="263.2" r="1.25" fill="#de8f05"/>
<circle cx="56.2" cy="332.5" r="0.9" fill="#000000"/>
<circle cx="61.4" cy="320.1" r="0.9" fill="#000000"/>
<circle cx="67.8" cy="323.2" r="1.25" fill="#de8f05"/>
<circle cx="66.7" cy="335.0" r="0.9" fill="#000000"/>
<circle cx="64.3" cy="341.3" r="1.25" fill="#de8f05"/>
<circle cx="60.3" cy="320.5" r="0.9" fill="#000000"/>
<circle cx="70.0" cy="323.6" r="1.25" fill="#de8f05"/>
<circle cx="63.9" cy="320.1" r="0.9" fill="#000000"/>
<circle cx="66.6" cy="325.4" r="1.25" fill="#de8f05"/>
<circle cx="66.2" cy="319.2" r="1.25" fill="#de8f05"/>
<circle cx="63.7" cy="342.0" r="1.25" fill="#de8f05"/>
<circle cx="67.2" cy="337.4" r="0.9" fill="#000000"/>
<circle cx="60.0" cy="336.9" r="1.25" fill="#de8f05"/>
<circle cx="55.9" cy="325.1" r="1.25" fill="#de8f05"/>
<circle cx="65.8" cy="322.8" r="1.25" fill="#de8f05"/>
<circle cx="63.0" cy="330.5" r="1.25" fill="#de8f05"/>
<circle cx="57.7" cy="333.1" r="0.9" fill="#000000"/>
<circle cx="48.0" cy="331.2" r="0.9" fill="#000000"/>
<circle cx="49.5" cy="329.1" r="0.9" fill="#000000"/>
<circle cx="58.6" cy="327.7" r="0.9" fill="#000000"/>
<circle cx="70.1" cy="327.5" r="1.25" fill="#de8f05"/>
<circle cx="62.9" cy="338.1" r="0.9" fill="#000000"/>
<circle cx="63.6" cy="325.5" r="1.25" fill="#de8f05"/>
<circle cx="53.2" cy="329.5" r="1.25" fill="#de8f05"/>
<circle cx="71.0" cy="330.5" r="0.9" fill="#000000"/>
<circle cx="63.0" cy="342.0" r="1.25" fill="#de8f05"/>
<circle cx="58.2" cy="328.5" r="1.25" fill="#de8f05"/>
<circle cx="67.5" cy="337.8" r="1.25" fill="#de8f05"/>
<circle cx="55.6" cy="328.6" r="1.25" fill="#de8f05"/>
<circle cx="62.8" cy="327.2" r="1.25" fill="#de8f05"/>
<circle cx="47.0" cy="331.7" r="1.25" fill="#de8f05"/>
<circle cx="56.7" cy="326.7" r="1.25" fill="#de8f05"/>
<circle cx="61.6" cy="332.3" r="1.25" fill="#de8f05"/>
<circle cx="52.1" cy="325.7" r="1.25" fill="#de8f05"/>
<circle cx="60.9" cy="322.5" r="1.25" fill="#de8f05"/>
<circle cx="49.6" cy="326.6" r="0.9" fill="#000000"/>
<circle cx="70.0" cy="323.4" r="0.9" fill="#000000"/>
<circle cx="57.5" cy="332.2" r="1.25" fill="#de8f05"/>
<circle cx="63.8" cy="336.6" r="1.25" fill="#de8f05"/>
<circle cx="60.6" cy="335.6" r="1.25" fill="#de8f05"/>
<circle cx="62.6" cy="324.7" r="1.25" fill="#de8f05"/>
<circle cx="57.8" cy="337.4" r="1.25" fill="#de8f05"/>
<circle cx="67.7" cy="333.9" r="1.25" fill="#de8f05"/>
<circle cx="56.1" cy="332.9" r="1.25" fill="#de8f05"/>
<circle cx="60.0" cy="335.2" r="1.25" fill="#de8f05"/>
<circle cx="67.0" cy="337.5" r="1.25" fill="#de8f05"/>
<circle cx="61.1" cy="340.3" r="0.9" fill="#000000"/>
<circle cx="67.1" cy="332.6" r="0.9" fill="#000000"/>
<circle cx="66.7" cy="322.9" r="1.25" fill="#de8f05"/>
<circle cx="63.7" cy="338.8" r="1.25" fill="#de8f05"/>
<circle cx="63.8" cy="322.5" r="1.25" fill="#de8f05"/>
<circle cx="61.8" cy="337.8" r="1.25" fill="#de8f05"/>
<circle cx="53.8" cy="326.5" r="1.25" fill="#de8f05"/>
<circle cx="61.3" cy="321.6" r="1.25" fill="#de8f05"/>
<circle cx="52.1" cy="331.5" r="1.25" fill="#de8f05"/>
<circle cx="64.6" cy="332.9" r="1.25" fill="#de8f05"/>
<circle cx="70.3" cy="324.5" r="1.25" fill="#de8f05"/>
<circle cx="48.4" cy="327.2" r="1.25" fill="#de8f05"/>
<circle cx="61.3" cy="329.5" r="1.25" fill="#de8f05"/>
<circle cx="59.8" cy="339.1" r="1.25" fill="#de8f05"/>
<circle cx="67.3" cy="332.9" r="1.25" fill="#de8f05"/>
<circle cx="69.9" cy="334.3" r="1.25" fill="#de8f05"/>
<circle cx="51.8" cy="332.1" r="0.9" fill="#000000"/>
<circle cx="54.9" cy="331.1" r="1.25" fill="#de8f05"/>
<circle cx="59.9" cy="321.6" r="0.9" fill="#000000"/>
<circle cx="54.6" cy="328.1" r="0.9" fill="#000000"/>
<circle cx="70.0" cy="322.3" r="1.25" fill="#de8f05"/>
<circle cx="66.1" cy="334.0" r="1.25" fill="#de8f05"/>
<circle cx="67.0" cy="337.6" r="1.25" fill="#de8f05"/>
<circle cx="64.3" cy="328.5" r="0.9" fill="#000000"/>
<circle cx="53.5" cy="332.4" r="1.25" fill="#de8f05"/>
<circle cx="69.2" cy="336.3" r="1.25" fill="#de8f05"/>
<circle cx="64.8" cy="337.7" r="1.25" fill="#de8f05"/>
<circle cx="57.4" cy="333.9" r="0.9" fill="#000000"/>
<circle cx="71.0" cy="324.4" r="1.25" fill="#de8f05"/>
<circle cx="65.8" cy="322.6" r="1.25" fill="#de8f05"/>
<circle cx="70.2" cy="335.9" r="1.25" fill="#de8f05"/>
<circle cx="48.8" cy="328.6" r="0.9" fill="#000000"/>
<circle cx="68.7" cy="337.9" r="1.25" fill="#de8f05"/>
<circle cx="64.6" cy="330.9" r="1.25" fill="#de8f05"/>
<circle cx="49.2" cy="331.5" r="0.9" fill="#000000"/>
<circle cx="56.9" cy="324.3" r="1.25" fill="#de8f05"/>
<circle cx="58.0" cy="335.4" r="1.25" fill="#de8f05"/>
<circle cx="70.0" cy="331.4" r="1.25" fill="#de8f05"/>
<circle cx="70.9" cy="330.6" r="0.9" fill="#000000"/>
<circle cx="64.6" cy="337.8" r="0.9" fill="#000000"/>
<circle cx="50.9" cy="332.7" r="1.25" fill="#de8f05"/>
<circle cx="66.8" cy="321.4" r="1.25" fill="#de8f05"/>
<circle cx="65.4" cy="338.3" r="1.25" fill="#de8f05"/>
<circle cx="66.9" cy="331.6" r="1.25" fill="#de8f05"/>
<circle cx="70.9" cy="335.4" r="1.25" fill="#de8f05"/>
<circle cx="61.6" cy="330.9" r="0.9" fill="#000000"/>
<circle cx="61.1" cy="320.3" r="1.25" fill="#de8f05"/>
<circle cx="56.9" cy="329.1" r="1.25" fill="#de8f05"/>
<circle cx="55.2" cy="327.9" r="1.25" fill="#de8f05"/>
<circle cx="65.3" cy="328.0" r="1.25" fill="#de8f05"/>
<circle cx="61.7" cy="327.2" r="1.25" fill="#de8f05"/>
<circle cx="71.4" cy="324.8" r="1.25" fill="#de8f05"/>
<circle cx="64.6" cy="339.8" r="1.25" fill="#de8f05"/>
<circle cx="65.1" cy="329.9" r="1.25" fill="#de8f05"/>
<circle cx="63.7" cy="330.3" r="0.9" fill="#000000"/>
<circle cx="71.2" cy="334.5" r="1.25" fill="#de8f05"/>
<circle cx="61.6" cy="328.8" r="1.25" fill="#de8f05"/>
<circle cx="54.7" cy="333.2" r="1.25" fill="#de8f05"/>
<circle cx="71.8" cy="326.1" r="1.25" fill="#de8f05"/>
<circle cx="72.9" cy="324.5" r="1.25" fill="#de8f05"/>
<circle cx="84.3" cy="323.4" r="1.25" fill="#de8f05"/>
<circle cx="73.2" cy="327.0" r="1.25" fill="#de8f05"/>
<circle cx="77.1" cy="328.0" r="0.9" fill="#000000"/>
<circle cx="81.7" cy="321.9" r="1.25" fill="#de8f05"/>
<circle cx="76.5" cy="330.7" r="1.25" fill="#de8f05"/>
<circle cx="76.2" cy="325.0" r="0.9" fill="#000000"/>
<circle cx="74.1" cy="320.9" r="1.25" fill="#de8f05"/>
<circle cx="75.1" cy="323.2" r="1.25" fill="#de8f05"/>
<circle cx="87.0" cy="324.4" r="1.25" fill="#de8f05"/>
<circle cx="79.1" cy="330.6" r="0.9" fill="#000000"/>
<circle cx="79.7" cy="333.0" r="1.25" fill="#de8f05"/>
<circle cx="91.7" cy="326.4" r="1.25" fill="#de8f05"/>
<circle cx="78.8" cy="322.2" r="1.25" fill="#de8f05"/>
<circle cx="89.7" cy="323.7" r="1.25" fill="#de8f05"/>
<circle cx="80.5" cy="326.4" r="1.25" fill="#de8f05"/>
<circle cx="74.3" cy="323.3" r="1.25" fill="#de8f05"/>
<circle cx="85.9" cy="324.9" r="1.25" fill="#de8f05"/>
<circle cx="76.1" cy="321.2" r="0.9" fill="#000000"/>
<circle cx="82.4" cy="323.1" r="1.25" fill="#de8f05"/>
<circle cx="76.8" cy="322.3" r="1.25" fill="#de8f05"/>
<circle cx="87.7" cy="330.8" r="1.25" fill="#de8f05"/>
<circle cx="89.7" cy="328.6" r="1.25" fill="#de8f05"/>
<circle cx="76.1" cy="326.5" r="0.9" fill="#000000"/>
<circle cx="83.2" cy="324.8" r="1.25" fill="#de8f05"/>
<circle cx="77.9" cy="318.5" r="0.9" fill="#000000"/>
<circle cx="76.1" cy="331.8" r="1.25" fill="#de8f05"/>
<circle cx="84.7" cy="323.6" r="0.9" fill="#000000"/>
<circle cx="76.9" cy="319.4" r="1.25" fill="#de8f05"/>
<circle cx="84.5" cy="329.0" r="1.25" fill="#de8f05"/>
<circle cx="76.4" cy="319.1" r="0.9" fill="#000000"/>
<circle cx="71.4" cy="327.9" r="1.25" fill="#de8f05"/>
<circle cx="74.6" cy="324.9" r="0.9" fill="#000000"/>
<circle cx="75.9" cy="320.4" r="1.25" fill="#de8f05"/>
<circle cx="84.8" cy="326.2" r="1.25" fill="#de8f05"/>
<circle cx="74.3" cy="321.7" r="1.25" fill="#de8f05"/>
<circle cx="80.8" cy="326.9" r="0.9" fill="#000000"/>
<circle cx="89.9" cy="325.5" r="1.25" fill="#de8f05"/>
<circle cx="77.4" cy="320.1" r="1.25" fill="#de8f05"/>
<circle cx="87.5" cy="319.8" r="1.25" fill="#de8f05"/>
<circle cx="89.0" cy="329.1" r="1.25" fill="#de8f05"/>
<circle cx="85.4" cy="330.9" r="1.25" fill="#de8f05"/>
<circle cx="73.9" cy="328.6" r="1.25" fill="#de8f05"/>
<circle cx="73.4" cy="320.4" r="1.25" fill="#de8f05"/>
<circle cx="73.3" cy="324.1" r="1.25" fill="#de8f05"/>
<circle cx="82.5" cy="324.4" r="0.9" fill="#000000"/>
<circle cx="72.4" cy="323.2" r="0.9" fill="#000000"/>
<circle cx="87.1" cy="326.6" r="0.9" fill="#000000"/>
<circle cx="82.9" cy="319.7" r="1.25" fill="#de8f05"/>
<circle cx="77.5" cy="324.5" r="1.25" fill="#de8f05"/>
<circle cx="72.7" cy="329.4" r="0.9" fill="#000000"/>
<circle cx="77.4" cy="320.1" r="0.9" fill="#000000"/>
<circle cx="85.5" cy="323.9" r="1.25" fill="#de8f05"/>
<circle cx="73.8" cy="331.5" r="1.25" fill="#de8f05"/>
<circle cx="88.1" cy="323.3" r="1.25" fill="#de8f05"/>
<circle cx="81.6" cy="330.1" r="0.9" fill="#000000"/>
<circle cx="78.2" cy="329.2" r="1.25" fill="#de8f05"/>
<circle cx="89.2" cy="330.3" r="1.25" fill="#de8f05"/>
<circle cx="78.4" cy="322.2" r="0.9" fill="#000000"/>
<circle cx="87.9" cy="322.8" r="1.25" fill="#de8f05"/>
<circle cx="82.0" cy="326.9" r="1.25" fill="#de8f05"/>
<circle cx="79.4" cy="327.0" r="1.25" fill="#de8f05"/>
<circle cx="73.5" cy="328.9" r="1.25" fill="#de8f05"/>
<circle cx="88.0" cy="329.2" r="0.9" fill="#000000"/>
<circle cx="75.6" cy="330.6" r="1.25" fill="#de8f05"/>
<circle cx="55.0" cy="338.0" r="0.9" fill="#000000"/>
<circle cx="58.0" cy="340.0" r="0.9" fill="#000000"/>
<circle cx="66.0" cy="342.0" r="0.9" fill="#000000"/>
<circle cx="72.0" cy="340.0" r="0.9" fill="#000000"/>
<circle cx="75.0" cy="343.0" r="0.9" fill="#000000"/>
<circle cx="79.0" cy="338.0" r="0.9" fill="#000000"/>
<circle cx="62.0" cy="336.0" r="1.25" fill="#de8f05"/>
<circle cx="64.0" cy="338.0" r="1.25" fill="#de8f05"/>
<circle cx="67.0" cy="336.0" r="1.25" fill="#de8f05"/>
<circle cx="50.2" cy="335.5" r="0.9" fill="#000000"/>
<circle cx="57.8" cy="339.4" r="0.9" fill="#000000"/>
<circle cx="62.9" cy="342.5" r="0.9" fill="#000000"/>
<circle cx="68.6" cy="338.7" r="0.9" fill="#000000"/>
<circle cx="73.7" cy="345.1" r="0.9" fill="#000000"/>
<circle cx="69.3" cy="341.9" r="0.9" fill="#000000"/>
<circle cx="78.2" cy="340.6" r="0.9" fill="#000000"/>
<circle cx="80.7" cy="343.2" r="0.9" fill="#000000"/>
<circle cx="82.0" cy="333.6" r="0.9" fill="#000000"/>
<circle cx="89.0" cy="332.4" r="0.9" fill="#000000"/>
<circle cx="92.2" cy="327.3" r="0.9" fill="#000000"/>
<circle cx="101.1" cy="339.4" r="0.9" fill="#000000"/>
<circle cx="86.5" cy="318.4" r="0.9" fill="#000000"/>
<circle cx="61.6" cy="336.2" r="1.25" fill="#029e73"/>
<circle cx="71.2" cy="338.7" r="1.25" fill="#029e73"/>
<circle cx="66.7" cy="343.8" r="1.25" fill="#029e73"/>
<circle cx="76.3" cy="346.4" r="1.25" fill="#029e73"/>
<circle cx="82.0" cy="342.5" r="1.25" fill="#029e73"/>
<circle cx="83.9" cy="336.8" r="1.25" fill="#029e73"/>
<circle cx="87.7" cy="338.1" r="1.25" fill="#029e73"/>
<circle cx="88.4" cy="341.9" r="1.25" fill="#029e73"/>
<circle cx="84.5" cy="345.1" r="1.25" fill="#029e73"/>
<circle cx="89.0" cy="346.4" r="1.25" fill="#029e73"/>
<circle cx="94.7" cy="340.6" r="1.25" fill="#029e73"/>
<circle cx="66.1" cy="328.5" r="1.25" fill="#d55e00"/>
<circle cx="92.8" cy="339.4" r="1.25" fill="#d55e00"/>
<circle cx="96.6" cy="341.9" r="1.25" fill="#de8f05"/>
<circle cx="85.2" cy="358.5" r="1.25" fill="#d55e00"/>
<circle cx="97.9" cy="327.9" r="1.25" fill="#de8f05"/>
<circle cx="104.3" cy="331.1" r="1.25" fill="#de8f05"/>
<circle cx="107.5" cy="324.1" r="1.25" fill="#de8f05"/>
<circle cx="53.4" cy="335.5" r="1.25" fill="#0173b2"/>
<circle cx="86.5" cy="350.2" r="1.25" fill="#0173b2"/>
<circle cx="99.2" cy="328.5" r="1.25" fill="#0173b2"/>
<circle cx="107.5" cy="338.7" r="1.25" fill="#0173b2"/>
<circle cx="103.6" cy="352.7" r="1.25" fill="#0173b2"/>
<circle cx="106.2" cy="349.5" r="1.25" fill="#0173b2"/>
<circle cx="107.6" cy="323.6" r="1.25" fill="#de8f05"/>
<circle cx="109.8" cy="322.9" r="0.9" fill="#000000"/>
<circle cx="113.5" cy="323.6" r="1.25" fill="#0173b2"/>
<circle cx="114.9" cy="325.1" r="1.25" fill="#0173b2"/>
<circle cx="118.5" cy="327.3" r="1.25" fill="#0173b2"/>
<circle cx="98.2" cy="328.7" r="1.25" fill="#de8f05"/>
<circle cx="104.0" cy="330.9" r="1.25" fill="#de8f05"/>
<circle cx="100.4" cy="332.4" r="0.9" fill="#000000"/>
<circle cx="106.9" cy="331.6" r="1.25" fill="#0173b2"/>
<circle cx="110.5" cy="332.4" r="1.25" fill="#0173b2"/>
<circle cx="114.9" cy="333.8" r="1.25" fill="#0173b2"/>
<circle cx="119.3" cy="334.5" r="1.25" fill="#0173b2"/>
<circle cx="107.6" cy="338.2" r="1.25" fill="#0173b2"/>
<circle cx="112.0" cy="340.4" r="1.25" fill="#0173b2"/>
<circle cx="100.4" cy="339.6" r="0.9" fill="#000000"/>
<circle cx="96.7" cy="341.8" r="1.25" fill="#de8f05"/>
<circle cx="125.1" cy="330.9" r="1.25" fill="#de8f05"/>
<circle cx="116.5" cy="326.0" r="1.25" fill="#0173b2"/>
<circle cx="130.9" cy="322.2" r="1.25" fill="#d55e00"/>
<circle cx="133.8" cy="322.9" r="1.25" fill="#d55e00"/>
<circle cx="124.4" cy="354.9" r="1.25" fill="#d55e00"/>
<circle cx="118.5" cy="351.3" r="1.25" fill="#d55e00"/>
<circle cx="162.9" cy="360.0" r="1.25" fill="#de8f05"/>
<circle cx="165.8" cy="362.2" r="1.25" fill="#de8f05"/>
<circle cx="125.1" cy="346.9" r="1.25" fill="#de8f05"/>
<circle cx="113.5" cy="364.4" r="1.25" fill="#de8f05"/>
<circle cx="121.5" cy="356.4" r="1.25" fill="#029e73"/>
<circle cx="112.0" cy="361.5" r="1.25" fill="#029e73"/>
<circle cx="104.7" cy="349.8" r="0.9" fill="#000000"/>
<circle cx="107.6" cy="351.3" r="0.9" fill="#000000"/>
<circle cx="110.5" cy="346.9" r="0.9" fill="#000000"/>
<circle cx="118.5" cy="360.7" r="0.9" fill="#000000"/>
<circle cx="110.5" cy="360.0" r="0.9" fill="#000000"/>
<circle cx="148.4" cy="342.5" r="0.9" fill="#000000"/>
<circle cx="119.3" cy="368.0" r="1.25" fill="#0173b2"/>
<circle cx="29.7" cy="380.0" r="1.25" fill="#de8f05"/>
<circle cx="31.4" cy="379.3" r="1.25" fill="#de8f05"/>
<circle cx="32.2" cy="377.4" r="1.25" fill="#de8f05"/>
<circle cx="33.8" cy="376.9" r="1.25" fill="#de8f05"/>
<circle cx="34.4" cy="375.2" r="1.25" fill="#de8f05"/>
<circle cx="36.2" cy="374.8" r="1.25" fill="#de8f05"/>
<circle cx="36.8" cy="373.1" r="1.25" fill="#de8f05"/>
<circle cx="38.2" cy="372.7" r="1.25" fill="#de8f05"/>
<circle cx="36.8" cy="372.5" r="0.9" fill="#000000"/>
<circle cx="35.0" cy="380.0" r="0.9" fill="#000000"/>
<circle cx="42.7" cy="375.5" r="0.9" fill="#000000"/>
<circle cx="58.1" cy="373.7" r="1.25" fill="#029e73"/>
<circle cx="64.1" cy="377.3" r="1.25" fill="#0173b2"/>
<circle cx="91.2" cy="403.9" r="0.9" fill="#000000"/>
<circle cx="96.5" cy="409.9" r="1.25" fill="#0173b2"/>
<circle cx="119.6" cy="368.7" r="1.25" fill="#0173b2"/>
<circle cx="115.9" cy="378.5" r="1.25" fill="#0173b2"/>
<circle cx="117.4" cy="377.7" r="1.25" fill="#0173b2"/>
<circle cx="115.1" cy="380.7" r="1.25" fill="#0173b2"/>
<circle cx="106.9" cy="394.2" r="1.25" fill="#0173b2"/>
<circle cx="104.7" cy="395.7" r="1.25" fill="#de8f05"/>
<circle cx="102.4" cy="398.6" r="1.25" fill="#0173b2"/>
<circle cx="103.5" cy="397.0" r="1.25" fill="#0173b2"/>
<circle cx="115.1" cy="408.4" r="1.25" fill="#0173b2"/>
<circle cx="103.9" cy="413.6" r="1.25" fill="#0173b2"/>
<circle cx="107.7" cy="414.3" r="1.25" fill="#0173b2"/>
<circle cx="110.7" cy="417.3" r="1.25" fill="#0173b2"/>
<circle cx="114.4" cy="414.3" r="1.25" fill="#0173b2"/>
<circle cx="115.9" cy="418.1" r="1.25" fill="#0173b2"/>
<circle cx="117.4" cy="415.8" r="1.25" fill="#de8f05"/>
<circle cx="120.4" cy="415.1" r="1.25" fill="#0173b2"/>
<circle cx="121.9" cy="417.3" r="0.9" fill="#000000"/>
<circle cx="121.1" cy="419.6" r="0.9" fill="#000000"/>
<circle cx="113.7" cy="419.6" r="1.25" fill="#0173b2"/>
<circle cx="126.4" cy="416.6" r="1.25" fill="#de8f05"/>
<circle cx="128.6" cy="416.6" r="1.25" fill="#de8f05"/>
<circle cx="112.0" cy="363.5" r="1.25" fill="#0173b2"/>
<circle cx="114.0" cy="364.0" r="1.25" fill="#de8f05"/>
<circle cx="116.0" cy="362.5" r="1.25" fill="#0173b2"/>
<circle cx="121.1" cy="363.5" r="1.25" fill="#0173b2"/>
<circle cx="137.0" cy="363.0" r="1.25" fill="#0173b2"/>
<circle cx="139.0" cy="364.5" r="1.25" fill="#0173b2"/>
<circle cx="141.0" cy="365.5" r="1.25" fill="#0173b2"/>
<circle cx="117.0" cy="416.5" r="1.25" fill="#0173b2"/>
<circle cx="115.0" cy="416.0" r="1.25" fill="#0173b2"/>
<circle cx="137.3" cy="355.3" r="1.25" fill="#0173b2"/>
<circle cx="137.1" cy="361.3" r="1.25" fill="#0173b2"/>
<circle cx="128.4" cy="341.9" r="1.25" fill="#0173b2"/>
<circle cx="147.3" cy="333.9" r="1.25" fill="#0173b2"/>
<circle cx="134.4" cy="356.6" r="1.25" fill="#0173b2"/>
<circle cx="160.8" cy="351.4" r="1.25" fill="#0173b2"/>
<circle cx="139.4" cy="356.9" r="1.25" fill="#0173b2"/>
<circle cx="161.8" cy="352.7" r="1.25" fill="#0173b2"/>
<circle cx="124.4" cy="352.7" r="1.25" fill="#0173b2"/>
<circle cx="145.2" cy="322.1" r="1.25" fill="#0173b2"/>
<circle cx="162.6" cy="358.4" r="1.25" fill="#0173b2"/>
<circle cx="131.5" cy="334.1" r="1.25" fill="#0173b2"/>
<circle cx="137.1" cy="333.8" r="1.25" fill="#0173b2"/>
<circle cx="139.3" cy="347.4" r="1.25" fill="#0173b2"/>
<circle cx="151.0" cy="351.6" r="1.25" fill="#0173b2"/>
<circle cx="133.3" cy="341.2" r="1.25" fill="#0173b2"/>
<circle cx="143.0" cy="328.5" r="1.25" fill="#0173b2"/>
<circle cx="160.6" cy="359.1" r="1.25" fill="#0173b2"/>
<circle cx="134.5" cy="328.0" r="1.25" fill="#0173b2"/>
<circle cx="125.4" cy="336.0" r="1.25" fill="#0173b2"/>
<circle cx="124.4" cy="361.6" r="1.25" fill="#0173b2"/>
<circle cx="138.1" cy="353.6" r="1.25" fill="#de8f05"/>
<circle cx="137.6" cy="363.8" r="1.25" fill="#0173b2"/>
<circle cx="119.4" cy="345.7" r="1.25" fill="#0173b2"/>
<circle cx="140.4" cy="362.8" r="1.25" fill="#0173b2"/>
<circle cx="160.5" cy="331.8" r="1.25" fill="#0173b2"/>
<circle cx="165.0" cy="331.7" r="1.25" fill="#0173b2"/>
<circle cx="140.7" cy="330.8" r="1.25" fill="#0173b2"/>
<circle cx="145.5" cy="324.4" r="1.25" fill="#0173b2"/>
<circle cx="106.6" cy="351.9" r="1.25" fill="#0173b2"/>
<circle cx="132.5" cy="356.4" r="0.9" fill="#000000"/>
<circle cx="163.8" cy="344.4" r="1.25" fill="#0173b2"/>
<circle cx="150.7" cy="350.7" r="1.25" fill="#0173b2"/>
<circle cx="129.2" cy="345.6" r="1.25" fill="#0173b2"/>
<circle cx="115.1" cy="359.3" r="1.25" fill="#0173b2"/>
<circle cx="137.7" cy="346.3" r="1.25" fill="#0173b2"/>
<circle cx="163.5" cy="340.1" r="1.25" fill="#0173b2"/>
<circle cx="129.3" cy="347.1" r="1.25" fill="#0173b2"/>
<circle cx="149.5" cy="326.0" r="1.25" fill="#0173b2"/>
<circle cx="155.8" cy="359.5" r="1.25" fill="#0173b2"/>
<circle cx="152.3" cy="347.4" r="1.25" fill="#0173b2"/>
<circle cx="117.7" cy="346.9" r="1.25" fill="#de8f05"/>
<circle cx="148.3" cy="324.9" r="1.25" fill="#0173b2"/>
<circle cx="133.6" cy="327.4" r="1.25" fill="#0173b2"/>
<circle cx="148.6" cy="334.8" r="1.25" fill="#0173b2"/>
<circle cx="143.8" cy="340.7" r="1.25" fill="#0173b2"/>
<circle cx="108.8" cy="354.2" r="1.25" fill="#0173b2"/>
<circle cx="142.7" cy="354.7" r="1.25" fill="#0173b2"/>
<circle cx="133.4" cy="351.4" r="1.25" fill="#0173b2"/>
<circle cx="130.1" cy="328.5" r="1.25" fill="#0173b2"/>
<circle cx="138.6" cy="361.1" r="1.25" fill="#de8f05"/>
<circle cx="139.0" cy="335.0" r="1.25" fill="#0173b2"/>
<circle cx="144.0" cy="353.8" r="1.25" fill="#0173b2"/>
<circle cx="128.0" cy="363.0" r="1.25" fill="#0173b2"/>
<circle cx="145.4" cy="359.7" r="1.25" fill="#0173b2"/>
<circle cx="133.7" cy="354.1" r="1.25" fill="#0173b2"/>
<circle cx="144.1" cy="329.3" r="1.25" fill="#0173b2"/>
<circle cx="125.7" cy="348.4" r="1.25" fill="#0173b2"/>
<circle cx="119.4" cy="355.7" r="1.25" fill="#0173b2"/>
<circle cx="160.8" cy="342.9" r="1.25" fill="#0173b2"/>
<circle cx="121.8" cy="347.9" r="1.25" fill="#0173b2"/>
<circle cx="109.1" cy="355.7" r="1.25" fill="#0173b2"/>
<circle cx="136.9" cy="339.3" r="1.25" fill="#0173b2"/>
<circle cx="163.2" cy="353.7" r="1.25" fill="#0173b2"/>
<circle cx="157.4" cy="350.8" r="1.25" fill="#0173b2"/>
<circle cx="163.4" cy="344.4" r="1.25" fill="#0173b2"/>
<circle cx="124.6" cy="336.0" r="1.25" fill="#0173b2"/>
<circle cx="150.4" cy="357.1" r="1.25" fill="#0173b2"/>
<circle cx="158.2" cy="358.0" r="1.25" fill="#0173b2"/>
<circle cx="117.5" cy="359.2" r="1.25" fill="#0173b2"/>
<circle cx="153.4" cy="356.7" r="1.25" fill="#0173b2"/>
<circle cx="107.3" cy="354.4" r="1.25" fill="#0173b2"/>
<circle cx="130.9" cy="325.9" r="1.25" fill="#de8f05"/>
<circle cx="135.0" cy="352.1" r="1.25" fill="#0173b2"/>
<circle cx="153.1" cy="335.4" r="1.25" fill="#0173b2"/>
<circle cx="151.6" cy="352.2" r="1.25" fill="#0173b2"/>
<circle cx="122.5" cy="358.9" r="1.25" fill="#0173b2"/>
<circle cx="140.2" cy="338.7" r="1.25" fill="#0173b2"/>
<circle cx="105.1" cy="352.8" r="1.25" fill="#0173b2"/>
<circle cx="143.0" cy="329.4" r="1.25" fill="#0173b2"/>
<circle cx="157.0" cy="348.4" r="1.25" fill="#0173b2"/>
<circle cx="139.6" cy="338.1" r="1.25" fill="#0173b2"/>
<circle cx="111.7" cy="359.6" r="1.25" fill="#0173b2"/>
<circle cx="119.5" cy="343.3" r="1.25" fill="#0173b2"/>
<circle cx="122.0" cy="344.7" r="1.25" fill="#0173b2"/>
<circle cx="162.7" cy="346.4" r="1.25" fill="#0173b2"/>
<circle cx="140.9" cy="356.0" r="1.25" fill="#0173b2"/>
<circle cx="145.8" cy="326.0" r="1.25" fill="#0173b2"/>
<circle cx="123.5" cy="339.0" r="1.25" fill="#0173b2"/>
<circle cx="157.8" cy="353.8" r="1.25" fill="#0173b2"/>
<circle cx="162.0" cy="340.9" r="1.25" fill="#0173b2"/>
<circle cx="156.7" cy="360.8" r="1.25" fill="#0173b2"/>
<circle cx="135.3" cy="345.7" r="1.25" fill="#0173b2"/>
<circle cx="123.2" cy="348.3" r="1.25" fill="#0173b2"/>
<circle cx="143.8" cy="348.4" r="1.25" fill="#0173b2"/>
<circle cx="157.8" cy="359.6" r="1.25" fill="#0173b2"/>
<circle cx="106.9" cy="355.2" r="1.25" fill="#0173b2"/>
<circle cx="159.3" cy="357.5" r="1.25" fill="#0173b2"/>
<circle cx="127.3" cy="362.9" r="1.25" fill="#0173b2"/>
<circle cx="140.2" cy="350.8" r="1.25" fill="#0173b2"/>
<circle cx="155.1" cy="328.4" r="1.25" fill="#0173b2"/>
<circle cx="120.4" cy="349.3" r="1.25" fill="#0173b2"/>
<circle cx="136.9" cy="359.1" r="1.25" fill="#0173b2"/>
<circle cx="115.8" cy="344.5" r="1.25" fill="#0173b2"/>
<circle cx="161.1" cy="350.1" r="1.25" fill="#0173b2"/>
<circle cx="116.5" cy="347.1" r="1.25" fill="#0173b2"/>
<circle cx="139.7" cy="347.5" r="1.25" fill="#0173b2"/>
<circle cx="153.5" cy="331.0" r="1.25" fill="#0173b2"/>
<circle cx="137.2" cy="335.6" r="1.25" fill="#0173b2"/>
<circle cx="128.3" cy="339.4" r="1.25" fill="#0173b2"/>
<circle cx="153.3" cy="344.7" r="1.25" fill="#0173b2"/>
<circle cx="116.3" cy="346.0" r="1.25" fill="#0173b2"/>
<circle cx="117.3" cy="355.8" r="1.25" fill="#0173b2"/>
<circle cx="149.3" cy="342.4" r="1.25" fill="#0173b2"/>
<circle cx="149.1" cy="353.2" r="1.25" fill="#de8f05"/>
<circle cx="119.5" cy="350.6" r="1.25" fill="#0173b2"/>
<circle cx="133.3" cy="344.4" r="1.25" fill="#0173b2"/>
<circle cx="131.5" cy="335.9" r="1.25" fill="#0173b2"/>
<circle cx="137.3" cy="337.8" r="1.25" fill="#0173b2"/>
<circle cx="166.7" cy="332.9" r="1.25" fill="#0173b2"/>
<circle cx="123.2" cy="354.0" r="1.25" fill="#0173b2"/>
<circle cx="126.5" cy="338.3" r="1.25" fill="#0173b2"/>
<circle cx="140.3" cy="364.1" r="1.25" fill="#0173b2"/>
<circle cx="141.6" cy="357.9" r="1.25" fill="#0173b2"/>
<circle cx="137.5" cy="346.7" r="1.25" fill="#0173b2"/>
<circle cx="151.6" cy="337.1" r="1.25" fill="#0173b2"/>
<circle cx="120.8" cy="362.1" r="1.25" fill="#0173b2"/>
<circle cx="120.2" cy="360.9" r="1.25" fill="#0173b2"/>
<circle cx="119.9" cy="342.3" r="1.25" fill="#de8f05"/>
<circle cx="129.5" cy="355.9" r="1.25" fill="#0173b2"/>
<circle cx="161.3" cy="336.4" r="1.25" fill="#0173b2"/>
<circle cx="133.4" cy="360.8" r="1.25" fill="#0173b2"/>
<circle cx="112.8" cy="360.1" r="1.25" fill="#0173b2"/>
<circle cx="133.9" cy="341.5" r="1.25" fill="#0173b2"/>
<circle cx="119.4" cy="362.2" r="1.25" fill="#0173b2"/>
<circle cx="135.8" cy="347.9" r="1.25" fill="#0173b2"/>
<circle cx="140.8" cy="341.1" r="1.25" fill="#0173b2"/>
<circle cx="111.2" cy="352.9" r="1.25" fill="#0173b2"/>
<circle cx="122.5" cy="358.2" r="1.25" fill="#0173b2"/>
<circle cx="131.9" cy="331.8" r="1.25" fill="#0173b2"/>
<circle cx="135.7" cy="364.3" r="1.25" fill="#0173b2"/>
<circle cx="132.3" cy="343.7" r="1.25" fill="#0173b2"/>
<circle cx="142.7" cy="324.4" r="1.25" fill="#0173b2"/>
<circle cx="130.1" cy="362.4" r="1.25" fill="#0173b2"/>
<circle cx="160.5" cy="330.4" r="1.25" fill="#0173b2"/>
<circle cx="125.5" cy="352.8" r="1.25" fill="#0173b2"/>
<circle cx="136.3" cy="344.7" r="1.25" fill="#0173b2"/>
<circle cx="140.6" cy="340.4" r="1.25" fill="#0173b2"/>
<circle cx="157.4" cy="351.7" r="1.25" fill="#0173b2"/>
<circle cx="119.4" cy="349.2" r="0.9" fill="#000000"/>
<circle cx="110.1" cy="356.3" r="1.25" fill="#0173b2"/>
<circle cx="141.9" cy="325.4" r="1.25" fill="#0173b2"/>
<circle cx="110.5" cy="348.0" r="1.25" fill="#0173b2"/>
<circle cx="139.4" cy="347.9" r="1.25" fill="#0173b2"/>
<circle cx="142.4" cy="348.1" r="1.25" fill="#0173b2"/>
<circle cx="136.4" cy="325.2" r="1.25" fill="#0173b2"/>
<circle cx="145.5" cy="323.6" r="1.25" fill="#0173b2"/>
<circle cx="118.6" cy="356.5" r="1.25" fill="#0173b2"/>
<circle cx="140.7" cy="330.9" r="1.25" fill="#0173b2"/>
<circle cx="159.0" cy="336.9" r="1.25" fill="#0173b2"/>
<circle cx="140.4" cy="365.2" r="1.25" fill="#0173b2"/>
<circle cx="113.9" cy="346.7" r="1.25" fill="#0173b2"/>
<circle cx="133.5" cy="352.7" r="1.25" fill="#0173b2"/>
<circle cx="135.8" cy="334.4" r="1.25" fill="#0173b2"/>
<circle cx="156.7" cy="341.4" r="1.25" fill="#0173b2"/>
<circle cx="135.9" cy="344.4" r="1.25" fill="#0173b2"/>
<circle cx="153.0" cy="342.9" r="1.25" fill="#0173b2"/>
<circle cx="118.8" cy="358.3" r="1.25" fill="#0173b2"/>
<circle cx="164.6" cy="331.4" r="1.25" fill="#0173b2"/>
<circle cx="144.1" cy="321.1" r="1.25" fill="#0173b2"/>
<circle cx="147.2" cy="335.4" r="1.25" fill="#0173b2"/>
<circle cx="147.5" cy="327.3" r="1.25" fill="#0173b2"/>
<circle cx="154.4" cy="351.2" r="1.25" fill="#0173b2"/>
<circle cx="144.6" cy="346.2" r="1.25" fill="#0173b2"/>
<circle cx="138.9" cy="362.1" r="1.25" fill="#0173b2"/>
<circle cx="136.4" cy="332.9" r="1.25" fill="#0173b2"/>
<circle cx="115.0" cy="348.6" r="1.25" fill="#0173b2"/>
<circle cx="133.6" cy="362.5" r="1.25" fill="#0173b2"/>
<circle cx="148.7" cy="347.3" r="1.25" fill="#0173b2"/>
<circle cx="132.0" cy="358.3" r="1.25" fill="#0173b2"/>
<circle cx="162.3" cy="345.0" r="1.25" fill="#0173b2"/>
<circle cx="159.7" cy="349.6" r="1.25" fill="#0173b2"/>
<circle cx="156.0" cy="335.6" r="1.25" fill="#0173b2"/>
<circle cx="159.7" cy="352.3" r="1.25" fill="#0173b2"/>
<circle cx="140.3" cy="328.3" r="1.25" fill="#0173b2"/>
<circle cx="104.9" cy="350.1" r="1.25" fill="#0173b2"/>
<circle cx="162.3" cy="355.2" r="1.25" fill="#0173b2"/>
<circle cx="159.9" cy="344.9" r="1.25" fill="#0173b2"/>
<circle cx="148.9" cy="327.9" r="1.25" fill="#de8f05"/>
<circle cx="137.9" cy="361.3" r="1.25" fill="#0173b2"/>
<circle cx="123.6" cy="350.3" r="1.25" fill="#0173b2"/>
<circle cx="132.6" cy="332.6" r="1.25" fill="#0173b2"/>
<circle cx="149.6" cy="330.5" r="1.25" fill="#0173b2"/>
<circle cx="134.2" cy="350.1" r="1.25" fill="#0173b2"/>
<circle cx="119.7" cy="355.4" r="1.25" fill="#0173b2"/>
<circle cx="160.0" cy="355.6" r="1.25" fill="#0173b2"/>
<circle cx="148.9" cy="348.4" r="1.25" fill="#0173b2"/>
<circle cx="146.3" cy="343.9" r="1.25" fill="#0173b2"/>
<circle cx="148.3" cy="325.9" r="1.25" fill="#0173b2"/>
<circle cx="158.8" cy="346.0" r="1.25" fill="#0173b2"/>
<circle cx="149.3" cy="342.6" r="1.25" fill="#0173b2"/>
<circle cx="145.5" cy="327.2" r="1.25" fill="#0173b2"/>
<circle cx="120.7" cy="356.9" r="1.25" fill="#0173b2"/>
<circle cx="142.3" cy="354.0" r="1.25" fill="#0173b2"/>
<circle cx="157.6" cy="344.8" r="1.25" fill="#0173b2"/>
<circle cx="158.0" cy="331.7" r="1.25" fill="#0173b2"/>
<circle cx="160.4" cy="351.4" r="1.25" fill="#0173b2"/>
<circle cx="138.3" cy="360.3" r="1.25" fill="#0173b2"/>
<circle cx="125.7" cy="351.4" r="1.25" fill="#0173b2"/>
<circle cx="135.1" cy="331.8" r="1.25" fill="#0173b2"/>
<circle cx="146.6" cy="335.6" r="1.25" fill="#0173b2"/>
<circle cx="120.3" cy="343.6" r="1.25" fill="#0173b2"/>
<circle cx="135.4" cy="363.8" r="1.25" fill="#0173b2"/>
<circle cx="126.1" cy="332.6" r="1.25" fill="#0173b2"/>
<circle cx="127.8" cy="339.5" r="1.25" fill="#0173b2"/>
<circle cx="137.1" cy="359.7" r="1.25" fill="#0173b2"/>
<circle cx="153.9" cy="349.7" r="1.25" fill="#0173b2"/>
<circle cx="161.9" cy="336.7" r="1.25" fill="#0173b2"/>
<circle cx="144.3" cy="322.8" r="1.25" fill="#0173b2"/>
<circle cx="151.2" cy="327.2" r="1.25" fill="#0173b2"/>
<circle cx="149.7" cy="345.1" r="1.25" fill="#0173b2"/>
<circle cx="155.7" cy="348.8" r="1.25" fill="#0173b2"/>
<circle cx="123.6" cy="359.3" r="1.25" fill="#0173b2"/>
<circle cx="165.4" cy="336.4" r="1.25" fill="#0173b2"/>
<circle cx="159.0" cy="344.4" r="1.25" fill="#0173b2"/>
<circle cx="131.2" cy="341.1" r="0.9" fill="#000000"/>
<circle cx="120.4" cy="344.1" r="1.25" fill="#0173b2"/>
<circle cx="135.7" cy="356.6" r="1.25" fill="#0173b2"/>
<circle cx="104.8" cy="349.8" r="1.25" fill="#0173b2"/>
<circle cx="152.3" cy="339.9" r="1.25" fill="#0173b2"/>
<circle cx="128.7" cy="343.9" r="1.25" fill="#0173b2"/>
<circle cx="125.3" cy="353.0" r="1.25" fill="#0173b2"/>
<circle cx="147.1" cy="336.7" r="1.25" fill="#0173b2"/>
<circle cx="121.9" cy="339.8" r="1.25" fill="#0173b2"/>
<circle cx="137.5" cy="332.9" r="1.25" fill="#0173b2"/>
<circle cx="129.3" cy="352.4" r="1.25" fill="#0173b2"/>
<circle cx="132.3" cy="345.5" r="1.25" fill="#0173b2"/>
<circle cx="145.4" cy="339.7" r="1.25" fill="#0173b2"/>
<circle cx="146.1" cy="335.6" r="1.25" fill="#0173b2"/>
<circle cx="147.4" cy="346.5" r="1.25" fill="#0173b2"/>
<circle cx="156.0" cy="350.9" r="1.25" fill="#0173b2"/>
<circle cx="142.5" cy="350.1" r="1.25" fill="#0173b2"/>
<circle cx="165.1" cy="337.1" r="1.25" fill="#0173b2"/>
<circle cx="107.7" cy="355.4" r="1.25" fill="#0173b2"/>
<circle cx="126.8" cy="337.0" r="1.25" fill="#0173b2"/>
<circle cx="110.4" cy="351.5" r="1.25" fill="#0173b2"/>
<circle cx="160.3" cy="348.2" r="1.25" fill="#0173b2"/>
<circle cx="131.0" cy="339.5" r="1.25" fill="#0173b2"/>
<circle cx="138.5" cy="332.6" r="1.25" fill="#0173b2"/>
<circle cx="160.0" cy="346.3" r="1.25" fill="#0173b2"/>
<circle cx="121.5" cy="346.4" r="1.25" fill="#0173b2"/>
<circle cx="157.4" cy="329.6" r="1.25" fill="#0173b2"/>
<circle cx="138.9" cy="334.9" r="1.25" fill="#0173b2"/>
<circle cx="134.4" cy="344.0" r="1.25" fill="#0173b2"/>
<circle cx="122.2" cy="356.8" r="1.25" fill="#0173b2"/>
<circle cx="144.2" cy="321.5" r="1.25" fill="#0173b2"/>
<circle cx="149.2" cy="342.8" r="1.25" fill="#0173b2"/>
<circle cx="133.4" cy="363.1" r="1.25" fill="#0173b2"/>
<circle cx="139.1" cy="339.3" r="1.25" fill="#0173b2"/>
<circle cx="140.6" cy="335.9" r="1.25" fill="#0173b2"/>
<circle cx="158.1" cy="337.3" r="1.25" fill="#0173b2"/>
<circle cx="138.8" cy="329.2" r="1.25" fill="#0173b2"/>
<circle cx="151.0" cy="327.5" r="1.25" fill="#0173b2"/>
<circle cx="112.8" cy="349.9" r="1.25" fill="#0173b2"/>
<circle cx="157.7" cy="341.8" r="1.25" fill="#0173b2"/>
<circle cx="140.7" cy="330.0" r="1.25" fill="#0173b2"/>
<circle cx="113.4" cy="351.6" r="1.25" fill="#0173b2"/>
<circle cx="121.6" cy="351.3" r="1.25" fill="#0173b2"/>
<circle cx="161.6" cy="357.8" r="1.25" fill="#0173b2"/>
<circle cx="141.9" cy="332.0" r="1.25" fill="#0173b2"/>
<circle cx="86.4" cy="412.2" r="1.25" fill="#0173b2"/>
<circle cx="90.2" cy="412.4" r="1.25" fill="#0173b2"/>
<circle cx="91.6" cy="408.7" r="1.25" fill="#0173b2"/>
<circle cx="87.0" cy="411.9" r="1.25" fill="#0173b2"/>
<circle cx="89.9" cy="409.5" r="1.25" fill="#0173b2"/>
<circle cx="82.7" cy="408.8" r="1.25" fill="#0173b2"/>
<circle cx="85.1" cy="405.6" r="1.25" fill="#0173b2"/>
<circle cx="91.0" cy="410.8" r="1.25" fill="#0173b2"/>
<circle cx="87.2" cy="410.0" r="1.25" fill="#0173b2"/>
<circle cx="88.8" cy="413.4" r="1.25" fill="#0173b2"/>
<circle cx="88.3" cy="409.5" r="1.25" fill="#0173b2"/>
<circle cx="87.8" cy="408.3" r="1.25" fill="#0173b2"/>
<circle cx="90.3" cy="405.4" r="1.25" fill="#0173b2"/>
<circle cx="90.4" cy="413.2" r="1.25" fill="#0173b2"/>
<circle cx="91.1" cy="409.5" r="1.25" fill="#0173b2"/>
<circle cx="86.6" cy="405.2" r="1.25" fill="#0173b2"/>
<circle cx="83.6" cy="409.5" r="1.25" fill="#0173b2"/>
<circle cx="84.7" cy="411.5" r="1.25" fill="#0173b2"/>
<circle cx="91.6" cy="408.9" r="1.25" fill="#0173b2"/>
<circle cx="92.2" cy="406.1" r="1.25" fill="#0173b2"/>
<circle cx="86.4" cy="409.2" r="1.25" fill="#0173b2"/>
<circle cx="90.7" cy="408.6" r="1.25" fill="#0173b2"/>
<circle cx="86.0" cy="412.6" r="1.25" fill="#0173b2"/>
<circle cx="87.0" cy="408.3" r="1.25" fill="#0173b2"/>
<circle cx="85.1" cy="408.9" r="1.25" fill="#0173b2"/>
<circle cx="90.5" cy="407.8" r="1.25" fill="#0173b2"/>
<circle cx="90.0" cy="409.0" r="1.25" fill="#0173b2"/>
<circle cx="85.8" cy="409.5" r="1.25" fill="#0173b2"/>
<circle cx="84.3" cy="412.5" r="1.25" fill="#0173b2"/>
<circle cx="88.4" cy="404.7" r="1.25" fill="#0173b2"/>
<circle cx="85.6" cy="409.2" r="1.25" fill="#0173b2"/>
<circle cx="84.6" cy="407.2" r="1.25" fill="#0173b2"/>
<circle cx="92.7" cy="408.6" r="1.25" fill="#0173b2"/>
<circle cx="85.2" cy="410.0" r="1.25" fill="#0173b2"/>
<circle cx="83.9" cy="409.3" r="1.25" fill="#0173b2"/>
<circle cx="89.9" cy="405.2" r="1.25" fill="#0173b2"/>
<circle cx="117.0" cy="413.1" r="1.25" fill="#0173b2"/>
<circle cx="117.8" cy="419.1" r="1.25" fill="#0173b2"/>
<circle cx="113.0" cy="411.9" r="1.25" fill="#0173b2"/>
<circle cx="115.6" cy="412.8" r="1.25" fill="#0173b2"/>
<circle cx="120.6" cy="415.6" r="1.25" fill="#0173b2"/>
<circle cx="119.4" cy="412.8" r="1.25" fill="#0173b2"/>
<circle cx="115.1" cy="414.7" r="1.25" fill="#0173b2"/>
<circle cx="118.3" cy="411.7" r="0.9" fill="#000000"/>
<circle cx="112.8" cy="413.1" r="0.9" fill="#000000"/>
<circle cx="112.8" cy="417.5" r="1.25" fill="#0173b2"/>
<circle cx="112.4" cy="413.6" r="1.25" fill="#0173b2"/>
<circle cx="116.2" cy="413.5" r="1.25" fill="#0173b2"/>
<circle cx="253.6" cy="338.6" r="0.9" fill="#000000"/>
<circle cx="239.2" cy="338.6" r="1.25" fill="#de8f05"/>
<circle cx="243.2" cy="343.6" r="0.9" fill="#000000"/>
<circle cx="241.3" cy="359.9" r="1.25" fill="#de8f05"/>
<circle cx="253.8" cy="349.5" r="1.25" fill="#de8f05"/>
<circle cx="226.1" cy="355.7" r="1.25" fill="#de8f05"/>
<circle cx="248.1" cy="352.0" r="1.25" fill="#de8f05"/>
<circle cx="229.0" cy="357.5" r="1.25" fill="#de8f05"/>
<circle cx="244.0" cy="350.8" r="0.9" fill="#000000"/>
<circle cx="230.2" cy="348.6" r="1.25" fill="#de8f05"/>
<circle cx="249.3" cy="335.5" r="1.25" fill="#de8f05"/>
<circle cx="227.1" cy="352.2" r="1.25" fill="#de8f05"/>
<circle cx="255.9" cy="344.9" r="0.9" fill="#000000"/>
<circle cx="248.7" cy="341.8" r="1.25" fill="#de8f05"/>
<circle cx="243.9" cy="336.7" r="1.25" fill="#de8f05"/>
<circle cx="237.8" cy="354.8" r="1.25" fill="#de8f05"/>
<circle cx="218.6" cy="359.6" r="0.9" fill="#000000"/>
<circle cx="229.1" cy="356.1" r="0.9" fill="#000000"/>
<circle cx="253.3" cy="341.1" r="0.9" fill="#000000"/>
<circle cx="246.5" cy="348.2" r="0.9" fill="#000000"/>
<circle cx="233.5" cy="349.3" r="1.25" fill="#de8f05"/>
<circle cx="247.0" cy="355.4" r="1.25" fill="#de8f05"/>
<circle cx="241.3" cy="354.7" r="1.25" fill="#de8f05"/>
<circle cx="224.6" cy="348.2" r="1.25" fill="#de8f05"/>
<circle cx="216.8" cy="359.0" r="0.9" fill="#000000"/>
<circle cx="254.7" cy="341.4" r="0.9" fill="#000000"/>
<circle cx="232.2" cy="347.7" r="0.9" fill="#000000"/>
<circle cx="240.0" cy="355.2" r="1.25" fill="#de8f05"/>
<circle cx="220.1" cy="359.8" r="1.25" fill="#de8f05"/>
<circle cx="224.0" cy="356.1" r="1.25" fill="#de8f05"/>
<circle cx="241.7" cy="355.5" r="1.25" fill="#de8f05"/>
<circle cx="248.9" cy="351.3" r="1.25" fill="#de8f05"/>
<circle cx="226.2" cy="348.5" r="1.25" fill="#de8f05"/>
<circle cx="221.1" cy="357.4" r="0.9" fill="#000000"/>
<circle cx="229.6" cy="350.7" r="0.9" fill="#000000"/>
<circle cx="243.3" cy="345.6" r="0.9" fill="#000000"/>
<circle cx="229.4" cy="346.8" r="1.25" fill="#de8f05"/>
<circle cx="246.6" cy="339.0" r="0.9" fill="#000000"/>
<circle cx="248.1" cy="349.5" r="0.9" fill="#000000"/>
<circle cx="220.2" cy="352.5" r="0.9" fill="#000000"/>
<circle cx="227.5" cy="352.8" r="1.25" fill="#de8f05"/>
<circle cx="236.0" cy="350.5" r="1.25" fill="#de8f05"/>
<circle cx="255.7" cy="342.2" r="1.25" fill="#de8f05"/>
<circle cx="226.6" cy="349.4" r="1.25" fill="#de8f05"/>
<circle cx="226.8" cy="348.4" r="0.9" fill="#000000"/>
<circle cx="217.2" cy="359.2" r="0.9" fill="#000000"/>
<circle cx="244.9" cy="342.8" r="0.9" fill="#000000"/>
<circle cx="258.6" cy="340.3" r="0.9" fill="#000000"/>
<circle cx="249.5" cy="334.6" r="1.25" fill="#de8f05"/>
<circle cx="244.6" cy="337.8" r="0.9" fill="#000000"/>
<circle cx="245.8" cy="340.6" r="1.25" fill="#de8f05"/>
<circle cx="243.9" cy="355.5" r="1.25" fill="#de8f05"/>
<circle cx="250.7" cy="349.8" r="1.25" fill="#de8f05"/>
<circle cx="237.6" cy="357.6" r="1.25" fill="#de8f05"/>
<circle cx="227.9" cy="349.8" r="1.25" fill="#de8f05"/>
<circle cx="224.8" cy="349.6" r="1.25" fill="#de8f05"/>
<circle cx="241.6" cy="348.0" r="1.25" fill="#de8f05"/>
<circle cx="238.7" cy="358.5" r="0.9" fill="#000000"/>
<circle cx="229.5" cy="344.6" r="1.25" fill="#de8f05"/>
<circle cx="248.6" cy="345.1" r="0.9" fill="#000000"/>
<circle cx="257.3" cy="338.3" r="1.25" fill="#de8f05"/>
<circle cx="258.8" cy="345.3" r="0.9" fill="#000000"/>
<circle cx="251.8" cy="343.5" r="1.25" fill="#de8f05"/>
<circle cx="251.9" cy="346.6" r="1.25" fill="#de8f05"/>
<circle cx="236.4" cy="356.7" r="0.9" fill="#000000"/>
<circle cx="230.7" cy="338.8" r="1.25" fill="#de8f05"/>
<circle cx="221.3" cy="354.3" r="1.25" fill="#de8f05"/>
<circle cx="226.5" cy="355.3" r="1.25" fill="#de8f05"/>
<circle cx="228.6" cy="341.7" r="0.9" fill="#000000"/>
<circle cx="245.0" cy="350.9" r="1.25" fill="#de8f05"/>
<circle cx="228.2" cy="346.8" r="0.9" fill="#000000"/>
<circle cx="221.9" cy="352.3" r="1.25" fill="#de8f05"/>
<circle cx="251.1" cy="342.4" r="0.9" fill="#000000"/>
<circle cx="219.8" cy="358.7" r="1.25" fill="#de8f05"/>
<circle cx="251.5" cy="344.0" r="1.25" fill="#de8f05"/>
<circle cx="219.8" cy="356.5" r="1.25" fill="#de8f05"/>
<circle cx="250.0" cy="339.5" r="1.25" fill="#de8f05"/>
<circle cx="247.2" cy="338.1" r="0.9" fill="#000000"/>
<circle cx="227.0" cy="357.9" r="0.9" fill="#000000"/>
<circle cx="246.3" cy="339.5" r="1.25" fill="#de8f05"/>
<circle cx="244.4" cy="355.6" r="1.25" fill="#de8f05"/>
<circle cx="231.7" cy="349.9" r="0.9" fill="#000000"/>
<circle cx="238.7" cy="358.0" r="1.25" fill="#de8f05"/>
<circle cx="234.1" cy="344.0" r="1.25" fill="#de8f05"/>
<circle cx="232.9" cy="338.5" r="0.9" fill="#000000"/>
<circle cx="243.0" cy="354.3" r="1.25" fill="#de8f05"/>
<circle cx="220.4" cy="351.6" r="1.25" fill="#de8f05"/>
<circle cx="249.6" cy="351.6" r="0.9" fill="#000000"/>
<circle cx="241.7" cy="352.5" r="1.25" fill="#de8f05"/>
<circle cx="219.4" cy="356.0" r="0.9" fill="#000000"/>
<circle cx="245.6" cy="341.4" r="1.25" fill="#de8f05"/>
<circle cx="243.7" cy="350.4" r="1.25" fill="#de8f05"/>
<circle cx="234.3" cy="354.7" r="0.9" fill="#000000"/>
<circle cx="251.4" cy="336.9" r="0.9" fill="#000000"/>
<circle cx="257.9" cy="344.2" r="1.25" fill="#de8f05"/>
<circle cx="234.3" cy="356.0" r="0.9" fill="#000000"/>
<circle cx="234.7" cy="354.4" r="1.25" fill="#de8f05"/>
<circle cx="221.3" cy="359.3" r="1.25" fill="#de8f05"/>
<circle cx="228.9" cy="350.1" r="1.25" fill="#de8f05"/>
<circle cx="246.0" cy="346.2" r="1.25" fill="#de8f05"/>
<circle cx="237.0" cy="345.2" r="0.9" fill="#000000"/>
<circle cx="247.4" cy="352.7" r="1.25" fill="#de8f05"/>
<circle cx="235.1" cy="350.2" r="1.25" fill="#de8f05"/>
<circle cx="240.9" cy="336.0" r="1.25" fill="#de8f05"/>
<circle cx="238.3" cy="357.5" r="0.9" fill="#000000"/>
<circle cx="248.7" cy="345.5" r="0.9" fill="#000000"/>
<circle cx="224.4" cy="353.1" r="1.25" fill="#de8f05"/>
<circle cx="231.3" cy="357.0" r="1.25" fill="#de8f05"/>
<circle cx="243.2" cy="360.3" r="0.9" fill="#000000"/>
<circle cx="216.9" cy="358.4" r="1.25" fill="#de8f05"/>
<circle cx="250.6" cy="337.9" r="1.25" fill="#de8f05"/>
<circle cx="239.0" cy="352.7" r="0.9" fill="#000000"/>
<circle cx="223.4" cy="351.5" r="0.9" fill="#000000"/>
<circle cx="235.3" cy="346.7" r="1.25" fill="#de8f05"/>
<circle cx="256.1" cy="344.8" r="0.9" fill="#000000"/>
<circle cx="240.9" cy="362.2" r="0.9" fill="#000000"/>
<circle cx="247.6" cy="347.6" r="1.25" fill="#de8f05"/>
<circle cx="240.9" cy="343.2" r="0.9" fill="#000000"/>
<circle cx="230.7" cy="346.7" r="1.25" fill="#de8f05"/>
<circle cx="240.9" cy="339.5" r="0.9" fill="#000000"/>
<circle cx="237.3" cy="357.8" r="0.9" fill="#000000"/>
<circle cx="243.6" cy="355.6" r="1.25" fill="#de8f05"/>
<circle cx="259.8" cy="345.4" r="1.25" fill="#de8f05"/>
<circle cx="242.9" cy="340.5" r="1.25" fill="#de8f05"/>
<circle cx="215.9" cy="356.3" r="1.25" fill="#de8f05"/>
<circle cx="237.4" cy="346.8" r="1.25" fill="#de8f05"/>
<circle cx="231.3" cy="350.1" r="1.25" fill="#de8f05"/>
<circle cx="260.4" cy="344.1" r="0.9" fill="#000000"/>
<circle cx="237.6" cy="349.3" r="0.9" fill="#000000"/>
<circle cx="257.6" cy="346.3" r="1.25" fill="#de8f05"/>
<circle cx="220.1" cy="357.5" r="1.25" fill="#de8f05"/>
<circle cx="251.2" cy="344.0" r="0.9" fill="#000000"/>
<circle cx="219.9" cy="354.9" r="0.9" fill="#000000"/>
<circle cx="226.3" cy="356.9" r="1.25" fill="#de8f05"/>
<circle cx="249.5" cy="348.4" r="0.9" fill="#000000"/>
<circle cx="259.7" cy="339.8" r="1.25" fill="#de8f05"/>
<circle cx="224.0" cy="353.5" r="1.25" fill="#de8f05"/>
<circle cx="238.8" cy="358.2" r="1.25" fill="#de8f05"/>
<circle cx="229.6" cy="354.8" r="0.9" fill="#000000"/>
<circle cx="221.6" cy="357.3" r="1.25" fill="#de8f05"/>
<circle cx="242.3" cy="364.7" r="0.9" fill="#000000"/>
<circle cx="242.9" cy="357.3" r="1.25" fill="#de8f05"/>
<circle cx="249.0" cy="347.7" r="1.25" fill="#de8f05"/>
<circle cx="240.7" cy="341.7" r="1.25" fill="#de8f05"/>
<circle cx="235.1" cy="347.7" r="1.25" fill="#de8f05"/>
<circle cx="231.5" cy="358.3" r="0.9" fill="#000000"/>
<circle cx="228.8" cy="356.1" r="1.25" fill="#de8f05"/>
<circle cx="250.5" cy="343.8" r="0.9" fill="#000000"/>
<circle cx="247.9" cy="343.5" r="0.9" fill="#000000"/>
<circle cx="253.6" cy="337.6" r="0.9" fill="#000000"/>
<circle cx="245.6" cy="357.2" r="1.25" fill="#029e73"/>
<circle cx="248.3" cy="361.3" r="1.25" fill="#029e73"/>
<circle cx="251.1" cy="366.2" r="1.25" fill="#029e73"/>
<circle cx="253.9" cy="352.4" r="1.25" fill="#029e73"/>
<circle cx="259.4" cy="356.5" r="1.25" fill="#029e73"/>
<circle cx="260.7" cy="360.0" r="1.25" fill="#029e73"/>
<circle cx="262.8" cy="354.4" r="1.25" fill="#029e73"/>
<circle cx="264.9" cy="357.2" r="1.25" fill="#029e73"/>
<circle cx="271.8" cy="349.6" r="1.25" fill="#029e73"/>
<circle cx="238.0" cy="358.6" r="1.25" fill="#029e73"/>
<circle cx="255.2" cy="373.1" r="1.25" fill="#d55e00"/>
<circle cx="269.7" cy="349.6" r="1.25" fill="#d55e00"/>
<circle cx="272.5" cy="348.9" r="1.25" fill="#de8f05"/>
<circle cx="229.7" cy="360.7" r="1.25" fill="#0173b2"/>
<circle cx="249.0" cy="353.1" r="1.25" fill="#0173b2"/>
<circle cx="252.5" cy="361.3" r="0.9" fill="#000000"/>
<circle cx="262.1" cy="344.8" r="0.9" fill="#000000"/>
<circle cx="276.6" cy="349.6" r="0.9" fill="#000000"/>
<circle cx="256.0" cy="355.0" r="0.9" fill="#000000"/>
<circle cx="258.0" cy="351.0" r="0.9" fill="#000000"/>
<circle cx="250.0" cy="357.0" r="0.9" fill="#000000"/>
<circle cx="299.1" cy="322.2" r="1.25" fill="#d55e00"/>
<circle cx="279.5" cy="331.6" r="1.25" fill="#de8f05"/>
<circle cx="293.3" cy="331.6" r="1.25" fill="#de8f05"/>
<circle cx="283.1" cy="355.6" r="1.25" fill="#d55e00"/>
<circle cx="282.4" cy="360.0" r="1.25" fill="#de8f05"/>
<circle cx="299.8" cy="358.5" r="1.25" fill="#de8f05"/>
<circle cx="292.5" cy="368.0" r="1.25" fill="#de8f05"/>
<circle cx="319.5" cy="354.9" r="1.25" fill="#d55e00"/>
<circle cx="348.5" cy="343.3" r="1.25" fill="#de8f05"/>
<circle cx="272.2" cy="349.1" r="1.25" fill="#de8f05"/>
<circle cx="271.5" cy="350.5" r="1.25" fill="#029e73"/>
<circle cx="278.0" cy="357.1" r="1.25" fill="#029e73"/>
<circle cx="288.9" cy="356.4" r="1.25" fill="#029e73"/>
<circle cx="316.5" cy="357.1" r="1.25" fill="#029e73"/>
<circle cx="280.9" cy="330.2" r="0.9" fill="#000000"/>
<circle cx="279.5" cy="338.9" r="0.9" fill="#000000"/>
<circle cx="289.6" cy="338.2" r="0.9" fill="#000000"/>
<circle cx="293.3" cy="344.7" r="0.9" fill="#000000"/>
<circle cx="276.5" cy="349.8" r="0.9" fill="#000000"/>
<circle cx="311.5" cy="339.6" r="0.9" fill="#000000"/>
<circle cx="336.9" cy="341.1" r="0.9" fill="#000000"/>
<circle cx="214.1" cy="402.8" r="1.25" fill="#de8f05"/>
<circle cx="215.4" cy="402.3" r="1.25" fill="#de8f05"/>
<circle cx="216.1" cy="400.9" r="1.25" fill="#de8f05"/>
<circle cx="217.7" cy="400.8" r="1.25" fill="#de8f05"/>
<circle cx="218.4" cy="399.3" r="1.25" fill="#de8f05"/>
<circle cx="220.0" cy="399.3" r="1.25" fill="#de8f05"/>
<circle cx="220.6" cy="397.9" r="1.25" fill="#de8f05"/>
<circle cx="222.2" cy="397.8" r="1.25" fill="#de8f05"/>
<circle cx="223.0" cy="403.2" r="0.9" fill="#000000"/>
<circle cx="228.4" cy="398.5" r="0.9" fill="#000000"/>
<circle cx="239.1" cy="399.2" r="1.25" fill="#029e73"/>
<circle cx="244.8" cy="402.4" r="1.25" fill="#0173b2"/>
<circle cx="245.8" cy="403.2" r="1.25" fill="#0173b2"/>
<circle cx="250.5" cy="366.4" r="1.25" fill="#029e73"/>
<circle cx="241.9" cy="365.0" r="1.25" fill="#de8f05"/>
<circle cx="273.3" cy="413.5" r="0.9" fill="#000000"/>
<circle cx="293.3" cy="368.6" r="1.25" fill="#de8f05"/>
<circle cx="296.2" cy="367.9" r="1.25" fill="#0173b2"/>
<circle cx="299.1" cy="367.2" r="1.25" fill="#0173b2"/>
<circle cx="301.0" cy="366.5" r="1.25" fill="#0173b2"/>
<circle cx="312.2" cy="370.8" r="1.25" fill="#0173b2"/>
<circle cx="312.9" cy="368.6" r="1.25" fill="#0173b2"/>
<circle cx="323.1" cy="366.5" r="1.25" fill="#0173b2"/>
<circle cx="327.5" cy="367.2" r="1.25" fill="#0173b2"/>
<circle cx="330.4" cy="366.7" r="1.25" fill="#0173b2"/>
<circle cx="310.0" cy="383.2" r="1.25" fill="#0173b2"/>
<circle cx="312.2" cy="386.1" r="1.25" fill="#0173b2"/>
<circle cx="302.7" cy="393.4" r="1.25" fill="#0173b2"/>
<circle cx="300.5" cy="396.3" r="1.25" fill="#de8f05"/>
<circle cx="301.3" cy="399.2" r="1.25" fill="#0173b2"/>
<circle cx="303.0" cy="394.5" r="1.25" fill="#0173b2"/>
<circle cx="303.5" cy="413.7" r="1.25" fill="#0173b2"/>
<circle cx="305.6" cy="414.0" r="1.25" fill="#0173b2"/>
<circle cx="273.6" cy="413.0" r="0.9" fill="#000000"/>
<circle cx="312.2" cy="403.5" r="1.25" fill="#0173b2"/>
<circle cx="315.1" cy="407.2" r="1.25" fill="#0173b2"/>
<circle cx="313.6" cy="411.5" r="1.25" fill="#0173b2"/>
<circle cx="318.0" cy="411.5" r="1.25" fill="#de8f05"/>
<circle cx="320.2" cy="407.9" r="0.9" fill="#000000"/>
<circle cx="322.4" cy="407.2" r="1.25" fill="#0173b2"/>
<circle cx="320.9" cy="412.3" r="1.25" fill="#0173b2"/>
<circle cx="323.8" cy="412.3" r="0.9" fill="#000000"/>
<circle cx="326.0" cy="413.0" r="1.25" fill="#de8f05"/>
<circle cx="328.2" cy="414.5" r="1.25" fill="#de8f05"/>
<circle cx="329.6" cy="415.2" r="1.25" fill="#de8f05"/>
<circle cx="314.0" cy="409.0" r="1.25" fill="#0173b2"/>
<circle cx="316.5" cy="410.0" r="1.25" fill="#0173b2"/>
<circle cx="313.0" cy="413.0" r="1.25" fill="#0173b2"/>
<circle cx="316.0" cy="413.0" r="1.25" fill="#0173b2"/>
<circle cx="318.5" cy="409.0" r="1.25" fill="#0173b2"/>
<circle cx="308.7" cy="327.5" r="1.25" fill="#0173b2"/>
<circle cx="310.7" cy="338.0" r="1.25" fill="#0173b2"/>
<circle cx="300.8" cy="342.4" r="1.25" fill="#0173b2"/>
<circle cx="314.2" cy="332.6" r="1.25" fill="#0173b2"/>
<circle cx="299.9" cy="339.2" r="1.25" fill="#0173b2"/>
<circle cx="304.3" cy="338.0" r="1.25" fill="#0173b2"/>
<circle cx="313.4" cy="337.2" r="1.25" fill="#0173b2"/>
<circle cx="317.3" cy="342.8" r="1.25" fill="#0173b2"/>
<circle cx="314.0" cy="354.3" r="1.25" fill="#0173b2"/>
<circle cx="316.9" cy="329.4" r="1.25" fill="#0173b2"/>
<circle cx="316.3" cy="356.4" r="1.25" fill="#0173b2"/>
<circle cx="307.8" cy="337.9" r="1.25" fill="#0173b2"/>
<circle cx="300.7" cy="338.5" r="1.25" fill="#0173b2"/>
<circle cx="314.7" cy="330.3" r="1.25" fill="#0173b2"/>
<circle cx="315.1" cy="332.0" r="1.25" fill="#0173b2"/>
<circle cx="318.7" cy="331.4" r="1.25" fill="#0173b2"/>
<circle cx="309.8" cy="351.1" r="1.25" fill="#0173b2"/>
<circle cx="305.6" cy="332.4" r="1.25" fill="#0173b2"/>
<circle cx="310.2" cy="346.5" r="1.25" fill="#0173b2"/>
<circle cx="300.1" cy="332.1" r="1.25" fill="#0173b2"/>
<circle cx="311.9" cy="335.2" r="1.25" fill="#0173b2"/>
<circle cx="304.7" cy="330.1" r="1.25" fill="#0173b2"/>
<circle cx="303.2" cy="336.3" r="1.25" fill="#0173b2"/>
<circle cx="311.5" cy="344.8" r="1.25" fill="#0173b2"/>
<circle cx="315.4" cy="342.0" r="1.25" fill="#0173b2"/>
<circle cx="313.4" cy="336.2" r="1.25" fill="#0173b2"/>
<circle cx="319.4" cy="330.7" r="1.25" fill="#0173b2"/>
<circle cx="304.4" cy="343.2" r="1.25" fill="#0173b2"/>
<circle cx="317.0" cy="334.6" r="1.25" fill="#0173b2"/>
<circle cx="310.1" cy="331.6" r="1.25" fill="#0173b2"/>
<circle cx="314.2" cy="342.2" r="1.25" fill="#0173b2"/>
<circle cx="305.5" cy="328.3" r="1.25" fill="#0173b2"/>
<circle cx="304.3" cy="323.1" r="1.25" fill="#0173b2"/>
<circle cx="305.5" cy="344.2" r="1.25" fill="#0173b2"/>
<circle cx="301.9" cy="329.0" r="1.25" fill="#0173b2"/>
<circle cx="308.7" cy="331.2" r="1.25" fill="#0173b2"/>
<circle cx="308.4" cy="342.9" r="1.25" fill="#0173b2"/>
<circle cx="312.4" cy="352.9" r="1.25" fill="#0173b2"/>
<circle cx="302.5" cy="322.9" r="1.25" fill="#0173b2"/>
<circle cx="314.3" cy="347.9" r="1.25" fill="#0173b2"/>
<circle cx="315.1" cy="349.2" r="1.25" fill="#0173b2"/>
<circle cx="307.3" cy="329.8" r="1.25" fill="#0173b2"/>
<circle cx="320.0" cy="331.3" r="1.25" fill="#0173b2"/>
<circle cx="308.9" cy="329.0" r="1.25" fill="#0173b2"/>
<circle cx="320.3" cy="335.6" r="1.25" fill="#0173b2"/>
<circle cx="308.0" cy="333.6" r="1.25" fill="#0173b2"/>
<circle cx="314.4" cy="350.6" r="1.25" fill="#0173b2"/>
<circle cx="319.7" cy="338.2" r="1.25" fill="#0173b2"/>
<circle cx="299.6" cy="338.0" r="1.25" fill="#0173b2"/>
<circle cx="299.8" cy="331.0" r="1.25" fill="#0173b2"/>
<circle cx="313.8" cy="344.1" r="1.25" fill="#0173b2"/>
<circle cx="315.6" cy="336.0" r="1.25" fill="#0173b2"/>
<circle cx="316.5" cy="336.7" r="1.25" fill="#0173b2"/>
<circle cx="309.8" cy="346.8" r="1.25" fill="#0173b2"/>
<circle cx="306.6" cy="348.5" r="1.25" fill="#0173b2"/>
<circle cx="313.8" cy="331.8" r="1.25" fill="#0173b2"/>
<circle cx="307.6" cy="330.7" r="1.25" fill="#0173b2"/>
<circle cx="311.1" cy="354.8" r="1.25" fill="#0173b2"/>
<circle cx="318.4" cy="339.9" r="0.9" fill="#000000"/>
<circle cx="314.8" cy="346.0" r="1.25" fill="#0173b2"/>
<circle cx="308.4" cy="320.9" r="1.25" fill="#0173b2"/>
<circle cx="318.1" cy="346.2" r="1.25" fill="#0173b2"/>
<circle cx="310.1" cy="337.5" r="1.25" fill="#0173b2"/>
<circle cx="309.9" cy="335.1" r="0.9" fill="#000000"/>
<circle cx="312.8" cy="356.8" r="1.25" fill="#0173b2"/>
<circle cx="303.3" cy="348.2" r="1.25" fill="#0173b2"/>
<circle cx="312.2" cy="339.5" r="1.25" fill="#0173b2"/>
<circle cx="305.9" cy="344.3" r="1.25" fill="#0173b2"/>
<circle cx="316.1" cy="336.6" r="1.25" fill="#0173b2"/>
<circle cx="310.6" cy="343.0" r="1.25" fill="#0173b2"/>
<circle cx="318.4" cy="332.1" r="0.9" fill="#000000"/>
<circle cx="307.8" cy="346.4" r="1.25" fill="#0173b2"/>
<circle cx="307.2" cy="333.5" r="1.25" fill="#0173b2"/>
<circle cx="306.8" cy="333.2" r="1.25" fill="#0173b2"/>
<circle cx="316.3" cy="339.4" r="1.25" fill="#0173b2"/>
<circle cx="305.9" cy="348.0" r="1.25" fill="#0173b2"/>
<circle cx="307.6" cy="336.9" r="1.25" fill="#0173b2"/>
<circle cx="304.8" cy="351.6" r="1.25" fill="#0173b2"/>
<circle cx="309.0" cy="342.8" r="1.25" fill="#0173b2"/>
<circle cx="299.6" cy="330.9" r="1.25" fill="#0173b2"/>
<circle cx="303.4" cy="338.6" r="1.25" fill="#0173b2"/>
<circle cx="305.1" cy="346.9" r="1.25" fill="#0173b2"/>
<circle cx="315.2" cy="347.3" r="1.25" fill="#0173b2"/>
<circle cx="311.2" cy="340.2" r="1.25" fill="#0173b2"/>
<circle cx="311.1" cy="353.9" r="1.25" fill="#0173b2"/>
<circle cx="308.1" cy="353.9" r="1.25" fill="#0173b2"/>
<circle cx="312.7" cy="333.2" r="1.25" fill="#0173b2"/>
<circle cx="317.1" cy="321.5" r="1.25" fill="#0173b2"/>
<circle cx="306.1" cy="326.5" r="1.25" fill="#0173b2"/>
<circle cx="301.8" cy="327.2" r="1.25" fill="#0173b2"/>
<circle cx="305.6" cy="331.6" r="1.25" fill="#0173b2"/>
<circle cx="307.0" cy="344.0" r="1.25" fill="#0173b2"/>
<circle cx="300.4" cy="340.2" r="1.25" fill="#0173b2"/>
<circle cx="319.1" cy="344.9" r="1.25" fill="#0173b2"/>
<circle cx="308.2" cy="318.3" r="1.25" fill="#0173b2"/>
<circle cx="307.0" cy="352.7" r="1.25" fill="#0173b2"/>
<circle cx="315.5" cy="342.6" r="1.25" fill="#0173b2"/>
<circle cx="310.3" cy="343.4" r="1.25" fill="#0173b2"/>
<circle cx="307.9" cy="351.0" r="1.25" fill="#0173b2"/>
<circle cx="308.1" cy="344.4" r="1.25" fill="#0173b2"/>
<circle cx="306.8" cy="334.1" r="1.25" fill="#0173b2"/>
<circle cx="304.0" cy="330.8" r="1.25" fill="#0173b2"/>
<circle cx="303.5" cy="336.0" r="1.25" fill="#0173b2"/>
<circle cx="311.8" cy="348.3" r="1.25" fill="#0173b2"/>
<circle cx="309.8" cy="323.8" r="1.25" fill="#0173b2"/>
<circle cx="313.9" cy="325.2" r="1.25" fill="#0173b2"/>
<circle cx="305.9" cy="329.7" r="1.25" fill="#0173b2"/>
<circle cx="318.0" cy="349.1" r="1.25" fill="#0173b2"/>
<circle cx="309.2" cy="324.4" r="1.25" fill="#0173b2"/>
<circle cx="307.9" cy="324.2" r="1.25" fill="#0173b2"/>
<circle cx="305.9" cy="336.4" r="1.25" fill="#0173b2"/>
<circle cx="314.1" cy="337.5" r="1.25" fill="#0173b2"/>
<circle cx="314.8" cy="347.1" r="1.25" fill="#0173b2"/>
<circle cx="304.8" cy="341.0" r="1.25" fill="#0173b2"/>
<circle cx="319.4" cy="346.1" r="1.25" fill="#0173b2"/>
<circle cx="329.1" cy="323.6" r="1.25" fill="#0173b2"/>
<circle cx="321.8" cy="337.5" r="1.25" fill="#0173b2"/>
<circle cx="328.0" cy="334.1" r="1.25" fill="#0173b2"/>
<circle cx="331.6" cy="340.5" r="1.25" fill="#0173b2"/>
<circle cx="333.1" cy="334.2" r="1.25" fill="#0173b2"/>
<circle cx="331.5" cy="325.4" r="1.25" fill="#0173b2"/>
<circle cx="334.5" cy="338.8" r="1.25" fill="#0173b2"/>
<circle cx="336.4" cy="342.7" r="1.25" fill="#0173b2"/>
<circle cx="328.3" cy="325.6" r="1.25" fill="#0173b2"/>
<circle cx="325.1" cy="322.4" r="1.25" fill="#0173b2"/>
<circle cx="323.9" cy="334.2" r="1.25" fill="#0173b2"/>
<circle cx="333.7" cy="327.6" r="1.25" fill="#0173b2"/>
<circle cx="320.6" cy="325.3" r="1.25" fill="#0173b2"/>
<circle cx="323.7" cy="332.4" r="1.25" fill="#0173b2"/>
<circle cx="339.5" cy="341.9" r="1.25" fill="#0173b2"/>
<circle cx="321.3" cy="336.7" r="1.25" fill="#0173b2"/>
<circle cx="332.5" cy="342.2" r="1.25" fill="#0173b2"/>
<circle cx="339.1" cy="342.6" r="1.25" fill="#0173b2"/>
<circle cx="333.3" cy="341.2" r="1.25" fill="#0173b2"/>
<circle cx="326.1" cy="322.5" r="1.25" fill="#0173b2"/>
<circle cx="327.6" cy="329.9" r="0.9" fill="#000000"/>
<circle cx="338.3" cy="331.7" r="1.25" fill="#0173b2"/>
<circle cx="329.2" cy="328.5" r="1.25" fill="#0173b2"/>
<circle cx="330.7" cy="344.1" r="1.25" fill="#0173b2"/>
<circle cx="335.6" cy="328.3" r="1.25" fill="#0173b2"/>
<circle cx="331.0" cy="344.3" r="1.25" fill="#0173b2"/>
<circle cx="345.3" cy="343.1" r="1.25" fill="#0173b2"/>
<circle cx="338.3" cy="338.5" r="1.25" fill="#0173b2"/>
<circle cx="321.7" cy="323.3" r="1.25" fill="#0173b2"/>
<circle cx="330.6" cy="344.6" r="1.25" fill="#0173b2"/>
<circle cx="330.9" cy="326.0" r="1.25" fill="#0173b2"/>
<circle cx="335.9" cy="341.5" r="1.25" fill="#0173b2"/>
<circle cx="328.1" cy="322.3" r="1.25" fill="#0173b2"/>
<circle cx="338.2" cy="336.6" r="1.25" fill="#0173b2"/>
<circle cx="341.7" cy="336.1" r="1.25" fill="#0173b2"/>
<circle cx="337.6" cy="324.0" r="1.25" fill="#0173b2"/>
<circle cx="336.9" cy="328.8" r="1.25" fill="#0173b2"/>
<circle cx="326.8" cy="332.9" r="1.25" fill="#0173b2"/>
<circle cx="334.9" cy="343.5" r="1.25" fill="#0173b2"/>
<circle cx="339.9" cy="334.3" r="1.25" fill="#0173b2"/>
<circle cx="325.2" cy="336.7" r="1.25" fill="#0173b2"/>
<circle cx="336.9" cy="329.7" r="1.25" fill="#0173b2"/>
<circle cx="342.0" cy="341.1" r="1.25" fill="#0173b2"/>
<circle cx="331.5" cy="334.1" r="0.9" fill="#000000"/>
<circle cx="320.3" cy="324.5" r="1.25" fill="#0173b2"/>
<circle cx="324.5" cy="339.1" r="1.25" fill="#0173b2"/>
<circle cx="332.2" cy="340.7" r="1.25" fill="#0173b2"/>
<circle cx="338.4" cy="323.7" r="1.25" fill="#0173b2"/>
<circle cx="338.6" cy="330.2" r="1.25" fill="#0173b2"/>
<circle cx="331.7" cy="325.0" r="1.25" fill="#0173b2"/>
<circle cx="321.8" cy="338.4" r="1.25" fill="#0173b2"/>
<circle cx="336.6" cy="336.5" r="1.25" fill="#0173b2"/>
<circle cx="336.5" cy="334.4" r="1.25" fill="#0173b2"/>
<circle cx="324.2" cy="332.7" r="1.25" fill="#0173b2"/>
<circle cx="336.2" cy="327.4" r="1.25" fill="#0173b2"/>
<circle cx="332.3" cy="333.6" r="1.25" fill="#0173b2"/>
<circle cx="327.1" cy="332.1" r="1.25" fill="#0173b2"/>
<circle cx="327.9" cy="323.6" r="1.25" fill="#0173b2"/>
<circle cx="333.5" cy="339.0" r="1.25" fill="#0173b2"/>
<circle cx="334.8" cy="322.8" r="1.25" fill="#0173b2"/>
<circle cx="337.8" cy="324.8" r="1.25" fill="#0173b2"/>
<circle cx="320.5" cy="323.1" r="0.9" fill="#000000"/>
<circle cx="330.3" cy="334.5" r="1.25" fill="#0173b2"/>
<circle cx="322.3" cy="329.5" r="1.25" fill="#0173b2"/>
<circle cx="339.6" cy="339.7" r="1.25" fill="#0173b2"/>
<circle cx="324.0" cy="332.4" r="1.25" fill="#0173b2"/>
<circle cx="323.9" cy="329.8" r="1.25" fill="#0173b2"/>
<circle cx="338.3" cy="332.4" r="1.25" fill="#0173b2"/>
<circle cx="335.7" cy="329.1" r="1.25" fill="#0173b2"/>
<circle cx="338.9" cy="331.3" r="1.25" fill="#0173b2"/>
<circle cx="340.3" cy="337.8" r="1.25" fill="#0173b2"/>
<circle cx="339.8" cy="343.5" r="1.25" fill="#0173b2"/>
<circle cx="338.2" cy="340.3" r="1.25" fill="#0173b2"/>
<circle cx="331.8" cy="335.2" r="1.25" fill="#0173b2"/>
<circle cx="330.6" cy="342.4" r="1.25" fill="#0173b2"/>
<circle cx="290.1" cy="332.4" r="1.25" fill="#0173b2"/>
<circle cx="284.9" cy="330.8" r="1.25" fill="#0173b2"/>
<circle cx="292.4" cy="336.5" r="1.25" fill="#0173b2"/>
<circle cx="290.7" cy="341.2" r="1.25" fill="#0173b2"/>
<circle cx="281.3" cy="339.8" r="1.25" fill="#0173b2"/>
<circle cx="293.6" cy="344.3" r="0.9" fill="#000000"/>
<circle cx="295.7" cy="334.6" r="1.25" fill="#0173b2"/>
<circle cx="290.2" cy="343.9" r="1.25" fill="#0173b2"/>
<circle cx="298.6" cy="341.0" r="1.25" fill="#0173b2"/>
<circle cx="287.5" cy="336.3" r="1.25" fill="#0173b2"/>
<circle cx="294.6" cy="337.3" r="1.25" fill="#0173b2"/>
<circle cx="287.5" cy="333.7" r="1.25" fill="#0173b2"/>
<circle cx="288.0" cy="339.8" r="1.25" fill="#0173b2"/>
<circle cx="298.4" cy="342.3" r="1.25" fill="#0173b2"/>
<circle cx="287.4" cy="336.8" r="1.25" fill="#0173b2"/>
<circle cx="284.7" cy="335.8" r="1.25" fill="#0173b2"/>
<circle cx="283.6" cy="337.0" r="1.25" fill="#0173b2"/>
<circle cx="289.8" cy="330.9" r="1.25" fill="#0173b2"/>
<circle cx="291.3" cy="333.8" r="1.25" fill="#0173b2"/>
<circle cx="291.0" cy="336.0" r="1.25" fill="#0173b2"/>
<circle cx="299.0" cy="331.6" r="1.25" fill="#0173b2"/>
<circle cx="290.7" cy="336.7" r="1.25" fill="#0173b2"/>
<circle cx="339.2" cy="355.9" r="1.25" fill="#0173b2"/>
<circle cx="303.4" cy="366.9" r="1.25" fill="#0173b2"/>
<circle cx="332.4" cy="357.3" r="1.25" fill="#0173b2"/>
<circle cx="329.1" cy="360.8" r="1.25" fill="#0173b2"/>
<circle cx="317.4" cy="365.1" r="1.25" fill="#0173b2"/>
<circle cx="326.4" cy="356.1" r="1.25" fill="#0173b2"/>
<circle cx="307.0" cy="363.9" r="1.25" fill="#0173b2"/>
<circle cx="340.7" cy="357.8" r="1.25" fill="#0173b2"/>
<circle cx="335.3" cy="354.7" r="1.25" fill="#0173b2"/>
<circle cx="318.5" cy="358.3" r="1.25" fill="#0173b2"/>
<circle cx="304.8" cy="364.3" r="1.25" fill="#0173b2"/>
<circle cx="339.1" cy="365.5" r="1.25" fill="#0173b2"/>
<circle cx="313.9" cy="360.1" r="1.25" fill="#0173b2"/>
<circle cx="338.5" cy="352.6" r="1.25" fill="#0173b2"/>
<circle cx="301.9" cy="362.7" r="1.25" fill="#0173b2"/>
<circle cx="325.6" cy="354.7" r="1.25" fill="#0173b2"/>
<circle cx="333.6" cy="359.1" r="1.25" fill="#0173b2"/>
<circle cx="311.6" cy="365.7" r="1.25" fill="#0173b2"/>
<circle cx="313.4" cy="362.2" r="1.25" fill="#0173b2"/>
<circle cx="326.9" cy="363.1" r="1.25" fill="#0173b2"/>
<circle cx="311.0" cy="360.5" r="1.25" fill="#0173b2"/>
<circle cx="312.1" cy="363.0" r="1.25" fill="#0173b2"/>
<circle cx="340.8" cy="356.8" r="1.25" fill="#0173b2"/>
<circle cx="322.6" cy="356.3" r="1.25" fill="#0173b2"/>
<circle cx="336.1" cy="360.8" r="1.25" fill="#0173b2"/>
<circle cx="300.2" cy="366.0" r="1.25" fill="#0173b2"/>
<circle cx="326.9" cy="355.6" r="1.25" fill="#0173b2"/>
<circle cx="320.5" cy="355.9" r="1.25" fill="#de8f05"/>
<circle cx="333.4" cy="363.0" r="1.25" fill="#0173b2"/>
<circle cx="329.4" cy="357.2" r="1.25" fill="#0173b2"/>
<circle cx="340.4" cy="362.8" r="1.25" fill="#0173b2"/>
<circle cx="324.1" cy="358.8" r="1.25" fill="#0173b2"/>
<circle cx="306.0" cy="361.6" r="1.25" fill="#0173b2"/>
<circle cx="324.7" cy="367.3" r="1.25" fill="#0173b2"/>
<circle cx="336.7" cy="358.8" r="1.25" fill="#0173b2"/>
<circle cx="317.7" cy="360.9" r="1.25" fill="#0173b2"/>
<circle cx="326.7" cy="362.2" r="1.25" fill="#de8f05"/>
<circle cx="335.2" cy="355.0" r="1.25" fill="#0173b2"/>
<circle cx="335.5" cy="365.3" r="1.25" fill="#0173b2"/>
<circle cx="323.6" cy="366.4" r="1.25" fill="#0173b2"/>
<circle cx="324.5" cy="358.0" r="1.25" fill="#0173b2"/>
<circle cx="320.9" cy="356.5" r="1.25" fill="#0173b2"/>
<circle cx="347.0" cy="343.0" r="1.25" fill="#de8f05"/>
<circle cx="349.0" cy="342.5" r="1.25" fill="#de8f05"/>
<circle cx="351.5" cy="342.3" r="0.9" fill="#000000"/>
<circle cx="345.5" cy="344.5" r="1.25" fill="#0173b2"/>
<circle cx="343.5" cy="346.0" r="1.25" fill="#0173b2"/>
<circle cx="282.7" cy="413.4" r="1.25" fill="#0173b2"/>
<circle cx="285.3" cy="418.6" r="1.25" fill="#0173b2"/>
<circle cx="281.9" cy="418.0" r="1.25" fill="#0173b2"/>
<circle cx="278.5" cy="415.9" r="1.25" fill="#0173b2"/>
<circle cx="285.4" cy="416.2" r="1.25" fill="#0173b2"/>
<circle cx="285.7" cy="413.2" r="1.25" fill="#0173b2"/>
<circle cx="284.4" cy="416.1" r="1.25" fill="#0173b2"/>
<circle cx="285.9" cy="412.8" r="1.25" fill="#0173b2"/>
<circle cx="287.8" cy="413.4" r="1.25" fill="#0173b2"/>
<circle cx="285.9" cy="414.9" r="1.25" fill="#0173b2"/>
<circle cx="285.6" cy="417.5" r="1.25" fill="#0173b2"/>
<circle cx="282.0" cy="419.5" r="1.25" fill="#0173b2"/>
<circle cx="282.3" cy="415.6" r="1.25" fill="#0173b2"/>
<circle cx="285.8" cy="413.1" r="1.25" fill="#0173b2"/>
<circle cx="288.1" cy="414.6" r="1.25" fill="#0173b2"/>
<circle cx="278.4" cy="416.6" r="1.25" fill="#0173b2"/>
<circle cx="279.8" cy="415.4" r="1.25" fill="#0173b2"/>
<circle cx="279.3" cy="417.7" r="1.25" fill="#0173b2"/>
<circle cx="286.1" cy="417.4" r="1.25" fill="#0173b2"/>
<circle cx="284.1" cy="412.6" r="1.25" fill="#0173b2"/>
<circle cx="285.8" cy="416.3" r="1.25" fill="#0173b2"/>
<circle cx="285.1" cy="418.5" r="1.25" fill="#0173b2"/>
<circle cx="283.2" cy="414.2" r="1.25" fill="#0173b2"/>
<circle cx="277.6" cy="417.5" r="1.25" fill="#0173b2"/>
<circle cx="285.2" cy="417.0" r="1.25" fill="#0173b2"/>
<circle cx="283.2" cy="415.5" r="1.25" fill="#0173b2"/>
<circle cx="288.4" cy="414.9" r="1.25" fill="#0173b2"/>
<circle cx="286.4" cy="419.1" r="1.25" fill="#0173b2"/>
<circle cx="289.2" cy="415.4" r="1.25" fill="#0173b2"/>
<circle cx="278.8" cy="415.8" r="1.25" fill="#0173b2"/>
<circle cx="283.0" cy="415.0" r="1.25" fill="#0173b2"/>
<circle cx="286.7" cy="413.9" r="1.25" fill="#0173b2"/>
<circle cx="313.8" cy="412.3" r="1.25" fill="#0173b2"/>
<circle cx="313.3" cy="411.2" r="1.25" fill="#0173b2"/>
<circle cx="313.7" cy="408.1" r="1.25" fill="#0173b2"/>
<circle cx="315.7" cy="406.5" r="1.25" fill="#0173b2"/>
<circle cx="318.4" cy="409.5" r="1.25" fill="#0173b2"/>
<circle cx="317.8" cy="406.6" r="1.25" fill="#0173b2"/>
<circle cx="315.0" cy="404.7" r="1.25" fill="#0173b2"/>
<circle cx="314.9" cy="411.5" r="1.25" fill="#0173b2"/>
<circle cx="314.2" cy="405.9" r="1.25" fill="#0173b2"/>
<circle cx="316.4" cy="413.0" r="1.25" fill="#0173b2"/>
<rect x="24.5" y="17.4" width="152.7" height="113.29999999999998" fill="none" stroke="#999" stroke-width="1.1"/>
<line x1="38.5" y1="130.7" x2="38.5" y2="132.7" stroke="#444" stroke-width="0.6"/>
<text x="38.5" y="137.29999999999998" font-size="4.6" text-anchor="middle" fill="#222" stroke="#222" stroke-width="0.1">−5</text>
<line x1="61.5" y1="130.7" x2="61.5" y2="132.7" stroke="#444" stroke-width="0.6"/>
<text x="61.5" y="137.29999999999998" font-size="4.6" text-anchor="middle" fill="#222" stroke="#222" stroke-width="0.1">0</text>
<line x1="84.5" y1="130.7" x2="84.5" y2="132.7" stroke="#444" stroke-width="0.6"/>
<text x="84.5" y="137.29999999999998" font-size="4.6" text-anchor="middle" fill="#222" stroke="#222" stroke-width="0.1">5</text>
<line x1="107.5" y1="130.7" x2="107.5" y2="132.7" stroke="#444" stroke-width="0.6"/>
<text x="107.5" y="137.29999999999998" font-size="4.6" text-anchor="middle" fill="#222" stroke="#222" stroke-width="0.1">10</text>
<line x1="130.5" y1="130.7" x2="130.5" y2="132.7" stroke="#444" stroke-width="0.6"/>
<text x="130.5" y="137.29999999999998" font-size="4.6" text-anchor="middle" fill="#222" stroke="#222" stroke-width="0.1">15</text>
<line x1="153.5" y1="130.7" x2="153.5" y2="132.7" stroke="#444" stroke-width="0.6"/>
<text x="153.5" y="137.29999999999998" font-size="4.6" text-anchor="middle" fill="#222" stroke="#222" stroke-width="0.1">20</text>
<line x1="22.5" y1="120.4" x2="24.5" y2="120.4" stroke="#444" stroke-width="0.6"/>
<text x="21.5" y="122.60000000000001" font-size="4.6" text-anchor="end" fill="#222" stroke="#222" stroke-width="0.1">−5</text>
<line x1="22.5" y1="99.6" x2="24.5" y2="99.6" stroke="#444" stroke-width="0.6"/>
<text x="21.5" y="101.8" font-size="4.6" text-anchor="end" fill="#222" stroke="#222" stroke-width="0.1">0</text>
<line x1="22.5" y1="78.8" x2="24.5" y2="78.8" stroke="#444" stroke-width="0.6"/>
<text x="21.5" y="81.0" font-size="4.6" text-anchor="end" fill="#222" stroke="#222" stroke-width="0.1">5</text>
<line x1="22.5" y1="58.0" x2="24.5" y2="58.0" stroke="#444" stroke-width="0.6"/>
<text x="21.5" y="60.2" font-size="4.6" text-anchor="end" fill="#222" stroke="#222" stroke-width="0.1">10</text>
<line x1="22.5" y1="37.2" x2="24.5" y2="37.2" stroke="#444" stroke-width="0.6"/>
<text x="21.5" y="39.400000000000006" font-size="4.6" text-anchor="end" fill="#222" stroke="#222" stroke-width="0.1">15</text>
<text x="40.3" y="14.6" font-size="5.0" fill="#222" stroke="#222" stroke-width="0.05" textLength="120.7" lengthAdjust="spacingAndGlyphs">LDA (UMAP representation), colored by authors</text>
<text x="6.2" y="14.7" font-size="14.5" font-family="Liberation Serif" fill="#000" stroke="#000" stroke-width="0.1">a)</text>
<rect x="26" y="102" width="18.5" height="26" fill="#fff" fill-opacity="0.8" stroke="#ddd" stroke-width="0.5" rx="0.8"/>
<circle cx="32.7" cy="106.2" r="1.65" fill="#0173b2"/>
<text x="41.4" y="108.2" font-size="4.6" text-anchor="middle" fill="#222">0</text>
<circle cx="32.7" cy="112.4" r="1.65" fill="#de8f05"/>
<text x="41.4" y="114.4" font-size="4.6" text-anchor="middle" fill="#222">1</text>
<circle cx="32.7" cy="118.5" r="1.65" fill="#029e73"/>
<text x="41.4" y="120.5" font-size="4.6" text-anchor="middle" fill="#222">2</text>
<circle cx="32.7" cy="124.6" r="1.65" fill="#d55e00"/>
<text x="41.4" y="126.6" font-size="4.6" text-anchor="middle" fill="#222">3</text>
<rect x="208.7" y="17.25" width="152.3" height="113.35" fill="none" stroke="#999" stroke-width="1.1"/>
<line x1="227.7" y1="130.6" x2="227.7" y2="132.6" stroke="#444" stroke-width="0.6"/>
<text x="227.7" y="137.2" font-size="4.6" text-anchor="middle" fill="#222" stroke="#222" stroke-width="0.1">−0.4</text>
<line x1="248.3" y1="130.6" x2="248.3" y2="132.6" stroke="#444" stroke-width="0.6"/>
<text x="248.3" y="137.2" font-size="4.6" text-anchor="middle" fill="#222" stroke="#222" stroke-width="0.1">−0.2</text>
<line x1="268.9" y1="130.6" x2="268.9" y2="132.6" stroke="#444" stroke-width="0.6"/>
<text x="268.9" y="137.2" font-size="4.6" text-anchor="middle" fill="#222" stroke="#222" stroke-width="0.1">0.0</text>
<line x1="289.5" y1="130.6" x2="289.5" y2="132.6" stroke="#444" stroke-width="0.6"/>
<text x="289.5" y="137.2" font-size="4.6" text-anchor="middle" fill="#222" stroke="#222" stroke-width="0.1">0.2</text>
<line x1="310.1" y1="130.6" x2="310.1" y2="132.6" stroke="#444" stroke-width="0.6"/>
<text x="310.1" y="137.2" font-size="4.6" text-anchor="middle" fill="#222" stroke="#222" stroke-width="0.1">0.4</text>
<line x1="330.7" y1="130.6" x2="330.7" y2="132.6" stroke="#444" stroke-width="0.6"/>
<text x="330.7" y="137.2" font-size="4.6" text-anchor="middle" fill="#222" stroke="#222" stroke-width="0.1">0.6</text>
<line x1="351.3" y1="130.6" x2="351.3" y2="132.6" stroke="#444" stroke-width="0.6"/>
<text x="351.3" y="137.2" font-size="4.6" text-anchor="middle" fill="#222" stroke="#222" stroke-width="0.1">0.8</text>
<line x1="206.7" y1="122.2" x2="208.7" y2="122.2" stroke="#444" stroke-width="0.6"/>
<text x="205.7" y="124.4" font-size="4.6" text-anchor="end" fill="#222" stroke="#222" stroke-width="0.1">−0.2</text>
<line x1="206.7" y1="103.7" x2="208.7" y2="103.7" stroke="#444" stroke-width="0.6"/>
<text x="205.7" y="105.9" font-size="4.6" text-anchor="end" fill="#222" stroke="#222" stroke-width="0.1">0.0</text>
<line x1="206.7" y1="85.2" x2="208.7" y2="85.2" stroke="#444" stroke-width="0.6"/>
<text x="205.7" y="87.4" font-size="4.6" text-anchor="end" fill="#222" stroke="#222" stroke-width="0.1">0.2</text>
<line x1="206.7" y1="66.7" x2="208.7" y2="66.7" stroke="#444" stroke-width="0.6"/>
<text x="205.7" y="68.9" font-size="4.6" text-anchor="end" fill="#222" stroke="#222" stroke-width="0.1">0.4</text>
<line x1="206.7" y1="48.2" x2="208.7" y2="48.2" stroke="#444" stroke-width="0.6"/>
<text x="205.7" y="50.400000000000006" font-size="4.6" text-anchor="end" fill="#222" stroke="#222" stroke-width="0.1">0.6</text>
<line x1="206.7" y1="29.7" x2="208.7" y2="29.7" stroke="#444" stroke-width="0.6"/>
<text x="205.7" y="31.9" font-size="4.6" text-anchor="end" fill="#222" stroke="#222" stroke-width="0.1">0.8</text>
<text x="226.4" y="14.4" font-size="5.0" fill="#222" stroke="#222" stroke-width="0.05" textLength="116.3" lengthAdjust="spacingAndGlyphs">LDA (PCA representation), colored by authors</text>
<text x="188.4" y="13.3" font-size="14.5" font-family="Liberation Serif" fill="#000" stroke="#000" stroke-width="0.1">b)</text>
<rect x="340.3" y="19.5" width="19.0" height="25.0" fill="#fff" fill-opacity="0.8" stroke="#ddd" stroke-width="0.5" rx="0.8"/>
<circle cx="346.6" cy="22.6" r="1.65" fill="#0173b2"/>
<text x="355.5" y="24.6" font-size="4.6" text-anchor="middle" fill="#222">0</text>
<circle cx="346.6" cy="28.8" r="1.65" fill="#de8f05"/>
<text x="355.5" y="30.8" font-size="4.6" text-anchor="middle" fill="#222">1</text>
<circle cx="346.6" cy="35.2" r="1.65" fill="#029e73"/>
<text x="355.5" y="37.2" font-size="4.6" text-anchor="middle" fill="#222">2</text>
<circle cx="346.6" cy="41.3" r="1.65" fill="#d55e00"/>
<text x="355.5" y="43.3" font-size="4.6" text-anchor="middle" fill="#222">3</text>
<rect x="391.5" y="17.25" width="153.10000000000002" height="113.25" fill="none" stroke="#999" stroke-width="1.1"/>
<line x1="407.6" y1="130.5" x2="407.6" y2="132.5" stroke="#444" stroke-width="0.6"/>
<text x="407.6" y="137.1" font-size="4.6" text-anchor="middle" fill="#222" stroke="#222" stroke-width="0.1">2</text>
<line x1="438.98" y1="130.5" x2="438.98" y2="132.5" stroke="#444" stroke-width="0.6"/>
<text x="438.98" y="137.1" font-size="4.6" text-anchor="middle" fill="#222" stroke="#222" stroke-width="0.1">4</text>
<line x1="470.35" y1="130.5" x2="470.35" y2="132.5" stroke="#444" stroke-width="0.6"/>
<text x="470.35" y="137.1" font-size="4.6" text-anchor="middle" fill="#222" stroke="#222" stroke-width="0.1">6</text>
<line x1="501.73" y1="130.5" x2="501.73" y2="132.5" stroke="#444" stroke-width="0.6"/>
<text x="501.73" y="137.1" font-size="4.6" text-anchor="middle" fill="#222" stroke="#222" stroke-width="0.1">8</text>
<line x1="533.1" y1="130.5" x2="533.1" y2="132.5" stroke="#444" stroke-width="0.6"/>
<text x="533.1" y="137.1" font-size="4.6" text-anchor="middle" fill="#222" stroke="#222" stroke-width="0.1">10</text>
<line x1="389.5" y1="125.3" x2="391.5" y2="125.3" stroke="#444" stroke-width="0.6"/>
<text x="388.5" y="127.5" font-size="4.6" text-anchor="end" fill="#222" stroke="#222" stroke-width="0.1">8</text>
<line x1="389.5" y1="112.58" x2="391.5" y2="112.58" stroke="#444" stroke-width="0.6"/>
<text x="388.5" y="114.78" font-size="4.6" text-anchor="end" fill="#222" stroke="#222" stroke-width="0.1">9</text>
<line x1="389.5" y1="99.85" x2="391.5" y2="99.85" stroke="#444" stroke-width="0.6"/>
<text x="388.5" y="102.05" font-size="4.6" text-anchor="end" fill="#222" stroke="#222" stroke-width="0.1">10</text>
<line x1="389.5" y1="87.12" x2="391.5" y2="87.12" stroke="#444" stroke-width="0.6"/>
<text x="388.5" y="89.32000000000001" font-size="4.6" text-anchor="end" fill="#222" stroke="#222" stroke-width="0.1">11</text>
<line x1="389.5" y1="74.4" x2="391.5" y2="74.4" stroke="#444" stroke-width="0.6"/>
<text x="388.5" y="76.60000000000001" font-size="4.6" text-anchor="end" fill="#222" stroke="#222" stroke-width="0.1">12</text>
<line x1="389.5" y1="61.67" x2="391.5" y2="61.67" stroke="#444" stroke-width="0.6"/>
<text x="388.5" y="63.870000000000005" font-size="4.6" text-anchor="end" fill="#222" stroke="#222" stroke-width="0.1">13</text>
<line x1="389.5" y1="48.95" x2="391.5" y2="48.95" stroke="#444" stroke-width="0.6"/>
<text x="388.5" y="51.150000000000006" font-size="4.6" text-anchor="end" fill="#222" stroke="#222" stroke-width="0.1">14</text>
<line x1="389.5" y1="36.23" x2="391.5" y2="36.23" stroke="#444" stroke-width="0.6"/>
<text x="388.5" y="38.43" font-size="4.6" text-anchor="end" fill="#222" stroke="#222" stroke-width="0.1">15</text>
<line x1="389.5" y1="23.5" x2="391.5" y2="23.5" stroke="#444" stroke-width="0.6"/>
<text x="388.5" y="25.7" font-size="4.6" text-anchor="end" fill="#222" stroke="#222" stroke-width="0.1">16</text>
<text x="400.2" y="14.4" font-size="5.0" fill="#222" stroke="#222" stroke-width="0.05" textLength="135.6" lengthAdjust="spacingAndGlyphs">HDBSCAN (UMAP representation), colored by authors</text>
<text x="371.8" y="13.1" font-size="14.5" font-family="Liberation Serif" fill="#000" stroke="#000" stroke-width="0.1">c)</text>
<rect x="394" y="19.3" width="18.600000000000023" height="26.2" fill="#fff" fill-opacity="0.8" stroke="#ddd" stroke-width="0.5" rx="0.8"/>
<circle cx="399.8" cy="22.8" r="1.65" fill="#0173b2"/>
<text x="408.9" y="24.8" font-size="4.6" text-anchor="middle" fill="#222">0</text>
<circle cx="399.8" cy="29.3" r="1.65" fill="#de8f05"/>
<text x="408.9" y="31.3" font-size="4.6" text-anchor="middle" fill="#222">1</text>
<circle cx="399.8" cy="35.6" r="1.65" fill="#029e73"/>
<text x="408.9" y="37.6" font-size="4.6" text-anchor="middle" fill="#222">2</text>
<circle cx="399.8" cy="41.4" r="1.65" fill="#d55e00"/>
<text x="408.9" y="43.4" font-size="4.6" text-anchor="middle" fill="#222">3</text>
<rect x="25.3" y="164.3" width="151.89999999999998" height="113.80000000000001" fill="none" stroke="#999" stroke-width="1.1"/>
<line x1="34.4" y1="278.1" x2="34.4" y2="280.1" stroke="#444" stroke-width="0.6"/>
<text x="34.4" y="284.70000000000005" font-size="4.6" text-anchor="middle" fill="#222" stroke="#222" stroke-width="0.1">−4</text>
<line x1="54.27" y1="278.1" x2="54.27" y2="280.1" stroke="#444" stroke-width="0.6"/>
<text x="54.27" y="284.70000000000005" font-size="4.6" text-anchor="middle" fill="#222" stroke="#222" stroke-width="0.1">−2</text>
<line x1="74.14" y1="278.1" x2="74.14" y2="280.1" stroke="#444" stroke-width="0.6"/>
<text x="74.14" y="284.70000000000005" font-size="4.6" text-anchor="middle" fill="#222" stroke="#222" stroke-width="0.1">0</text>
<line x1="94.01" y1="278.1" x2="94.01" y2="280.1" stroke="#444" stroke-width="0.6"/>
<text x="94.01" y="284.70000000000005" font-size="4.6" text-anchor="middle" fill="#222" stroke="#222" stroke-width="0.1">2</text>
<line x1="113.89" y1="278.1" x2="113.89" y2="280.1" stroke="#444" stroke-width="0.6"/>
<text x="113.89" y="284.70000000000005" font-size="4.6" text-anchor="middle" fill="#222" stroke="#222" stroke-width="0.1">4</text>
<line x1="133.76" y1="278.1" x2="133.76" y2="280.1" stroke="#444" stroke-width="0.6"/>
<text x="133.76" y="284.70000000000005" font-size="4.6" text-anchor="middle" fill="#222" stroke="#222" stroke-width="0.1">6</text>
<line x1="153.63" y1="278.1" x2="153.63" y2="280.1" stroke="#444" stroke-width="0.6"/>
<text x="153.63" y="284.70000000000005" font-size="4.6" text-anchor="middle" fill="#222" stroke="#222" stroke-width="0.1">8</text>
<line x1="173.5" y1="278.1" x2="173.5" y2="280.1" stroke="#444" stroke-width="0.6"/>
<text x="173.5" y="284.70000000000005" font-size="4.6" text-anchor="middle" fill="#222" stroke="#222" stroke-width="0.1">10</text>
<line x1="23.3" y1="274.4" x2="25.3" y2="274.4" stroke="#444" stroke-width="0.6"/>
<text x="22.3" y="276.59999999999997" font-size="4.6" text-anchor="end" fill="#222" stroke="#222" stroke-width="0.1">−2</text>
<line x1="23.3" y1="260.4" x2="25.3" y2="260.4" stroke="#444" stroke-width="0.6"/>
<text x="22.3" y="262.59999999999997" font-size="4.6" text-anchor="end" fill="#222" stroke="#222" stroke-width="0.1">−1</text>
<line x1="23.3" y1="246.4" x2="25.3" y2="246.4" stroke="#444" stroke-width="0.6"/>
<text x="22.3" y="248.6" font-size="4.6" text-anchor="end" fill="#222" stroke="#222" stroke-width="0.1">0</text>
<line x1="23.3" y1="232.4" x2="25.3" y2="232.4" stroke="#444" stroke-width="0.6"/>
<text x="22.3" y="234.6" font-size="4.6" text-anchor="end" fill="#222" stroke="#222" stroke-width="0.1">1</text>
<line x1="23.3" y1="218.4" x2="25.3" y2="218.4" stroke="#444" stroke-width="0.6"/>
<text x="22.3" y="220.6" font-size="4.6" text-anchor="end" fill="#222" stroke="#222" stroke-width="0.1">2</text>
<line x1="23.3" y1="204.4" x2="25.3" y2="204.4" stroke="#444" stroke-width="0.6"/>
<text x="22.3" y="206.6" font-size="4.6" text-anchor="end" fill="#222" stroke="#222" stroke-width="0.1">3</text>
<line x1="23.3" y1="190.4" x2="25.3" y2="190.4" stroke="#444" stroke-width="0.6"/>
<text x="22.3" y="192.6" font-size="4.6" text-anchor="end" fill="#222" stroke="#222" stroke-width="0.1">4</text>
<line x1="23.3" y1="176.4" x2="25.3" y2="176.4" stroke="#444" stroke-width="0.6"/>
<text x="22.3" y="178.6" font-size="4.6" text-anchor="end" fill="#222" stroke="#222" stroke-width="0.1">5</text>
<text x="36.1" y="161.8" font-size="5.0" fill="#222" stroke="#222" stroke-width="0.05" textLength="131.0" lengthAdjust="spacingAndGlyphs">top2vec (UMAP representation), colored by authors</text>
<text x="5.1" y="158.8" font-size="14.5" font-family="Liberation Serif" fill="#000" stroke="#000" stroke-width="0.1">d)</text>
<rect x="157.9" y="166.3" width="17.900000000000006" height="25.899999999999977" fill="#fff" fill-opacity="0.8" stroke="#ddd" stroke-width="0.5" rx="0.8"/>
<circle cx="163.4" cy="170.1" r="1.65" fill="#0173b2"/>
<text x="172.1" y="172.1" font-size="4.6" text-anchor="middle" fill="#222">0</text>
<circle cx="163.4" cy="176.6" r="1.65" fill="#de8f05"/>
<text x="172.1" y="178.6" font-size="4.6" text-anchor="middle" fill="#222">1</text>
<circle cx="163.4" cy="182.5" r="1.65" fill="#029e73"/>
<text x="172.1" y="184.5" font-size="4.6" text-anchor="middle" fill="#222">2</text>
<circle cx="163.4" cy="189.0" r="1.65" fill="#d55e00"/>
<text x="172.1" y="191.0" font-size="4.6" text-anchor="middle" fill="#222">3</text>
<rect x="208.2" y="165.4" width="152.40000000000003" height="113.20000000000002" fill="none" stroke="#999" stroke-width="1.1"/>
<line x1="225.1" y1="278.6" x2="225.1" y2="280.6" stroke="#444" stroke-width="0.6"/>
<text x="225.1" y="285.20000000000005" font-size="4.6" text-anchor="middle" fill="#222" stroke="#222" stroke-width="0.1">2</text>
<line x1="257.1" y1="278.6" x2="257.1" y2="280.6" stroke="#444" stroke-width="0.6"/>
<text x="257.1" y="285.20000000000005" font-size="4.6" text-anchor="middle" fill="#222" stroke="#222" stroke-width="0.1">4</text>
<line x1="289.1" y1="278.6" x2="289.1" y2="280.6" stroke="#444" stroke-width="0.6"/>
<text x="289.1" y="285.20000000000005" font-size="4.6" text-anchor="middle" fill="#222" stroke="#222" stroke-width="0.1">6</text>
<line x1="321.1" y1="278.6" x2="321.1" y2="280.6" stroke="#444" stroke-width="0.6"/>
<text x="321.1" y="285.20000000000005" font-size="4.6" text-anchor="middle" fill="#222" stroke="#222" stroke-width="0.1">8</text>
<line x1="353.1" y1="278.6" x2="353.1" y2="280.6" stroke="#444" stroke-width="0.6"/>
<text x="353.1" y="285.20000000000005" font-size="4.6" text-anchor="middle" fill="#222" stroke="#222" stroke-width="0.1">10</text>
<line x1="206.2" y1="275.4" x2="208.2" y2="275.4" stroke="#444" stroke-width="0.6"/>
<text x="205.2" y="277.59999999999997" font-size="4.6" text-anchor="end" fill="#222" stroke="#222" stroke-width="0.1">6</text>
<line x1="206.2" y1="252.15" x2="208.2" y2="252.15" stroke="#444" stroke-width="0.6"/>
<text x="205.2" y="254.35" font-size="4.6" text-anchor="end" fill="#222" stroke="#222" stroke-width="0.1">8</text>
<line x1="206.2" y1="228.9" x2="208.2" y2="228.9" stroke="#444" stroke-width="0.6"/>
<text x="205.2" y="231.1" font-size="4.6" text-anchor="end" fill="#222" stroke="#222" stroke-width="0.1">10</text>
<line x1="206.2" y1="205.65" x2="208.2" y2="205.65" stroke="#444" stroke-width="0.6"/>
<text x="205.2" y="207.85" font-size="4.6" text-anchor="end" fill="#222" stroke="#222" stroke-width="0.1">12</text>
<line x1="206.2" y1="182.4" x2="208.2" y2="182.4" stroke="#444" stroke-width="0.6"/>
<text x="205.2" y="184.6" font-size="4.6" text-anchor="end" fill="#222" stroke="#222" stroke-width="0.1">14</text>
<text x="211.2" y="162.3" font-size="5.0" fill="#222" stroke="#222" stroke-width="0.05" textLength="145.7" lengthAdjust="spacingAndGlyphs">German-BERT (UMAP representation), colored by authors</text>
<text x="188.6" y="161.6" font-size="14.5" font-family="Liberation Serif" fill="#000" stroke="#000" stroke-width="0.1">e)</text>
<rect x="340.6" y="167.8" width="18.0" height="24.799999999999983" fill="#fff" fill-opacity="0.8" stroke="#ddd" stroke-width="0.5" rx="0.8"/>
<circle cx="346.3" cy="171.0" r="1.65" fill="#0173b2"/>
<text x="355.3" y="173.0" font-size="4.6" text-anchor="middle" fill="#222">0</text>
<circle cx="346.3" cy="177.2" r="1.65" fill="#de8f05"/>
<text x="355.3" y="179.2" font-size="4.6" text-anchor="middle" fill="#222">1</text>
<circle cx="346.3" cy="183.3" r="1.65" fill="#029e73"/>
<text x="355.3" y="185.3" font-size="4.6" text-anchor="middle" fill="#222">2</text>
<circle cx="346.3" cy="189.4" r="1.65" fill="#d55e00"/>
<text x="355.3" y="191.4" font-size="4.6" text-anchor="middle" fill="#222">3</text>
<rect x="393.6" y="164.3" width="151.89999999999998" height="113.5" fill="none" stroke="#999" stroke-width="1.1"/>
<line x1="411.3" y1="277.8" x2="411.3" y2="279.8" stroke="#444" stroke-width="0.6"/>
<text x="411.3" y="284.40000000000003" font-size="4.6" text-anchor="middle" fill="#222" stroke="#222" stroke-width="0.1">−2</text>
<line x1="429.8" y1="277.8" x2="429.8" y2="279.8" stroke="#444" stroke-width="0.6"/>
<text x="429.8" y="284.40000000000003" font-size="4.6" text-anchor="middle" fill="#222" stroke="#222" stroke-width="0.1">0</text>
<line x1="448.3" y1="277.8" x2="448.3" y2="279.8" stroke="#444" stroke-width="0.6"/>
<text x="448.3" y="284.40000000000003" font-size="4.6" text-anchor="middle" fill="#222" stroke="#222" stroke-width="0.1">2</text>
<line x1="466.8" y1="277.8" x2="466.8" y2="279.8" stroke="#444" stroke-width="0.6"/>
<text x="466.8" y="284.40000000000003" font-size="4.6" text-anchor="middle" fill="#222" stroke="#222" stroke-width="0.1">4</text>
<line x1="485.3" y1="277.8" x2="485.3" y2="279.8" stroke="#444" stroke-width="0.6"/>
<text x="485.3" y="284.40000000000003" font-size="4.6" text-anchor="middle" fill="#222" stroke="#222" stroke-width="0.1">6</text>
<line x1="503.8" y1="277.8" x2="503.8" y2="279.8" stroke="#444" stroke-width="0.6"/>
<text x="503.8" y="284.40000000000003" font-size="4.6" text-anchor="middle" fill="#222" stroke="#222" stroke-width="0.1">8</text>
<line x1="522.3" y1="277.8" x2="522.3" y2="279.8" stroke="#444" stroke-width="0.6"/>
<text x="522.3" y="284.40000000000003" font-size="4.6" text-anchor="middle" fill="#222" stroke="#222" stroke-width="0.1">10</text>
<line x1="540.8" y1="277.8" x2="540.8" y2="279.8" stroke="#444" stroke-width="0.6"/>
<text x="540.8" y="284.40000000000003" font-size="4.6" text-anchor="middle" fill="#222" stroke="#222" stroke-width="0.1">12</text>
<line x1="391.6" y1="277.0" x2="393.6" y2="277.0" stroke="#444" stroke-width="0.6"/>
<text x="390.6" y="279.2" font-size="4.6" text-anchor="end" fill="#222" stroke="#222" stroke-width="0.1">−2</text>
<line x1="391.6" y1="256.04" x2="393.6" y2="256.04" stroke="#444" stroke-width="0.6"/>
<text x="390.6" y="258.24" font-size="4.6" text-anchor="end" fill="#222" stroke="#222" stroke-width="0.1">0</text>
<line x1="391.6" y1="235.08" x2="393.6" y2="235.08" stroke="#444" stroke-width="0.6"/>
<text x="390.6" y="237.28" font-size="4.6" text-anchor="end" fill="#222" stroke="#222" stroke-width="0.1">2</text>
<line x1="391.6" y1="214.12" x2="393.6" y2="214.12" stroke="#444" stroke-width="0.6"/>
<text x="390.6" y="216.32" font-size="4.6" text-anchor="end" fill="#222" stroke="#222" stroke-width="0.1">4</text>
<line x1="391.6" y1="193.16" x2="393.6" y2="193.16" stroke="#444" stroke-width="0.6"/>
<text x="390.6" y="195.35999999999999" font-size="4.6" text-anchor="end" fill="#222" stroke="#222" stroke-width="0.1">6</text>
<line x1="391.6" y1="172.2" x2="393.6" y2="172.2" stroke="#444" stroke-width="0.6"/>
<text x="390.6" y="174.39999999999998" font-size="4.6" text-anchor="end" fill="#222" stroke="#222" stroke-width="0.1">8</text>
<text x="399.9" y="161.6" font-size="5.0" fill="#222" stroke="#222" stroke-width="0.05" textLength="139.2" lengthAdjust="spacingAndGlyphs">Patho-BERT (UMAP representation), colored by authors</text>
<text x="375.5" y="160.7" font-size="14.5" font-family="Liberation Serif" fill="#000" stroke="#000" stroke-width="0.1">f)</text>
<rect x="525.6" y="166.4" width="18.0" height="25.799999999999983" fill="#fff" fill-opacity="0.8" stroke="#ddd" stroke-width="0.5" rx="0.8"/>
<circle cx="531.3" cy="169.9" r="1.65" fill="#0173b2"/>
<text x="540.3" y="171.9" font-size="4.6" text-anchor="middle" fill="#222">0</text>
<circle cx="531.3" cy="176.4" r="1.65" fill="#de8f05"/>
<text x="540.3" y="178.4" font-size="4.6" text-anchor="middle" fill="#222">1</text>
<circle cx="531.3" cy="182.3" r="1.65" fill="#029e73"/>
<text x="540.3" y="184.3" font-size="4.6" text-anchor="middle" fill="#222">2</text>
<circle cx="531.3" cy="188.5" r="1.65" fill="#d55e00"/>
<text x="540.3" y="190.5" font-size="4.6" text-anchor="middle" fill="#222">3</text>
<rect x="23.4" y="312.3" width="153.1" height="113.69999999999999" fill="none" stroke="#999" stroke-width="1.1"/>
<line x1="35.3" y1="426" x2="35.3" y2="428" stroke="#444" stroke-width="0.6"/>
<text x="35.3" y="432.6" font-size="4.6" text-anchor="middle" fill="#222" stroke="#222" stroke-width="0.1">4</text>
<line x1="67.85" y1="426" x2="67.85" y2="428" stroke="#444" stroke-width="0.6"/>
<text x="67.85" y="432.6" font-size="4.6" text-anchor="middle" fill="#222" stroke="#222" stroke-width="0.1">6</text>
<line x1="100.4" y1="426" x2="100.4" y2="428" stroke="#444" stroke-width="0.6"/>
<text x="100.4" y="432.6" font-size="4.6" text-anchor="middle" fill="#222" stroke="#222" stroke-width="0.1">8</text>
<line x1="132.95" y1="426" x2="132.95" y2="428" stroke="#444" stroke-width="0.6"/>
<text x="132.95" y="432.6" font-size="4.6" text-anchor="middle" fill="#222" stroke="#222" stroke-width="0.1">10</text>
<line x1="165.5" y1="426" x2="165.5" y2="428" stroke="#444" stroke-width="0.6"/>
<text x="165.5" y="432.6" font-size="4.6" text-anchor="middle" fill="#222" stroke="#222" stroke-width="0.1">12</text>
<line x1="21.4" y1="425.3" x2="23.4" y2="425.3" stroke="#444" stroke-width="0.6"/>
<text x="20.4" y="427.5" font-size="4.6" text-anchor="end" fill="#222" stroke="#222" stroke-width="0.1">4</text>
<line x1="21.4" y1="412.55" x2="23.4" y2="412.55" stroke="#444" stroke-width="0.6"/>
<text x="20.4" y="414.75" font-size="4.6" text-anchor="end" fill="#222" stroke="#222" stroke-width="0.1">5</text>
<line x1="21.4" y1="399.8" x2="23.4" y2="399.8" stroke="#444" stroke-width="0.6"/>
<text x="20.4" y="402.0" font-size="4.6" text-anchor="end" fill="#222" stroke="#222" stroke-width="0.1">6</text>
<line x1="21.4" y1="387.05" x2="23.4" y2="387.05" stroke="#444" stroke-width="0.6"/>
<text x="20.4" y="389.25" font-size="4.6" text-anchor="end" fill="#222" stroke="#222" stroke-width="0.1">7</text>
<line x1="21.4" y1="374.3" x2="23.4" y2="374.3" stroke="#444" stroke-width="0.6"/>
<text x="20.4" y="376.5" font-size="4.6" text-anchor="end" fill="#222" stroke="#222" stroke-width="0.1">8</text>
<line x1="21.4" y1="361.55" x2="23.4" y2="361.55" stroke="#444" stroke-width="0.6"/>
<text x="20.4" y="363.75" font-size="4.6" text-anchor="end" fill="#222" stroke="#222" stroke-width="0.1">9</text>
<line x1="21.4" y1="348.8" x2="23.4" y2="348.8" stroke="#444" stroke-width="0.6"/>
<text x="20.4" y="351.0" font-size="4.6" text-anchor="end" fill="#222" stroke="#222" stroke-width="0.1">10</text>
<line x1="21.4" y1="336.05" x2="23.4" y2="336.05" stroke="#444" stroke-width="0.6"/>
<text x="20.4" y="338.25" font-size="4.6" text-anchor="end" fill="#222" stroke="#222" stroke-width="0.1">11</text>
<line x1="21.4" y1="323.3" x2="23.4" y2="323.3" stroke="#444" stroke-width="0.6"/>
<text x="20.4" y="325.5" font-size="4.6" text-anchor="end" fill="#222" stroke="#222" stroke-width="0.1">12</text>
<text x="33.5" y="309.6" font-size="5.0" fill="#222" stroke="#222" stroke-width="0.05" textLength="132.7" lengthAdjust="spacingAndGlyphs">k-means (UMAP representation), colored by authors</text>
<text x="4" y="307.2" font-size="14.5" font-family="Liberation Serif" fill="#000" stroke="#000" stroke-width="0.1">g)</text>
<rect x="24.6" y="314" width="19.299999999999997" height="26.30000000000001" fill="#fff" fill-opacity="0.8" stroke="#ddd" stroke-width="0.5" rx="0.8"/>
<circle cx="31.7" cy="318.3" r="1.65" fill="#0173b2"/>
<text x="40.4" y="320.3" font-size="4.6" text-anchor="middle" fill="#222">0</text>
<circle cx="31.7" cy="324.3" r="1.65" fill="#de8f05"/>
<text x="40.4" y="326.3" font-size="4.6" text-anchor="middle" fill="#222">1</text>
<circle cx="31.7" cy="330.4" r="1.65" fill="#029e73"/>
<text x="40.4" y="332.4" font-size="4.6" text-anchor="middle" fill="#222">2</text>
<circle cx="31.7" cy="336.7" r="1.65" fill="#d55e00"/>
<text x="40.4" y="338.7" font-size="4.6" text-anchor="middle" fill="#222">3</text>
<rect x="207.5" y="311.8" width="153.10000000000002" height="113.5" fill="none" stroke="#999" stroke-width="1.1"/>
<line x1="213.8" y1="425.3" x2="213.8" y2="427.3" stroke="#444" stroke-width="0.6"/>
<text x="213.8" y="431.90000000000003" font-size="4.6" text-anchor="middle" fill="#222" stroke="#222" stroke-width="0.1">3</text>
<line x1="231.25" y1="425.3" x2="231.25" y2="427.3" stroke="#444" stroke-width="0.6"/>
<text x="231.25" y="431.90000000000003" font-size="4.6" text-anchor="middle" fill="#222" stroke="#222" stroke-width="0.1">4</text>
<line x1="248.7" y1="425.3" x2="248.7" y2="427.3" stroke="#444" stroke-width="0.6"/>
<text x="248.7" y="431.90000000000003" font-size="4.6" text-anchor="middle" fill="#222" stroke="#222" stroke-width="0.1">5</text>
<line x1="266.15" y1="425.3" x2="266.15" y2="427.3" stroke="#444" stroke-width="0.6"/>
<text x="266.15" y="431.90000000000003" font-size="4.6" text-anchor="middle" fill="#222" stroke="#222" stroke-width="0.1">6</text>
<line x1="283.6" y1="425.3" x2="283.6" y2="427.3" stroke="#444" stroke-width="0.6"/>
<text x="283.6" y="431.90000000000003" font-size="4.6" text-anchor="middle" fill="#222" stroke="#222" stroke-width="0.1">7</text>
<line x1="301.05" y1="425.3" x2="301.05" y2="427.3" stroke="#444" stroke-width="0.6"/>
<text x="301.05" y="431.90000000000003" font-size="4.6" text-anchor="middle" fill="#222" stroke="#222" stroke-width="0.1">8</text>
<line x1="318.5" y1="425.3" x2="318.5" y2="427.3" stroke="#444" stroke-width="0.6"/>
<text x="318.5" y="431.90000000000003" font-size="4.6" text-anchor="middle" fill="#222" stroke="#222" stroke-width="0.1">9</text>
<line x1="335.95" y1="425.3" x2="335.95" y2="427.3" stroke="#444" stroke-width="0.6"/>
<text x="335.95" y="431.90000000000003" font-size="4.6" text-anchor="middle" fill="#222" stroke="#222" stroke-width="0.1">10</text>
<line x1="353.4" y1="425.3" x2="353.4" y2="427.3" stroke="#444" stroke-width="0.6"/>
<text x="353.4" y="431.90000000000003" font-size="4.6" text-anchor="middle" fill="#222" stroke="#222" stroke-width="0.1">11</text>
<line x1="205.5" y1="416.4" x2="207.5" y2="416.4" stroke="#444" stroke-width="0.6"/>
<text x="204.5" y="418.59999999999997" font-size="4.6" text-anchor="end" fill="#222" stroke="#222" stroke-width="0.1">7</text>
<line x1="205.5" y1="403.5" x2="207.5" y2="403.5" stroke="#444" stroke-width="0.6"/>
<text x="204.5" y="405.7" font-size="4.6" text-anchor="end" fill="#222" stroke="#222" stroke-width="0.1">8</text>
<line x1="205.5" y1="390.6" x2="207.5" y2="390.6" stroke="#444" stroke-width="0.6"/>
<text x="204.5" y="392.8" font-size="4.6" text-anchor="end" fill="#222" stroke="#222" stroke-width="0.1">9</text>
<line x1="205.5" y1="377.7" x2="207.5" y2="377.7" stroke="#444" stroke-width="0.6"/>
<text x="204.5" y="379.9" font-size="4.6" text-anchor="end" fill="#222" stroke="#222" stroke-width="0.1">10</text>
<line x1="205.5" y1="364.8" x2="207.5" y2="364.8" stroke="#444" stroke-width="0.6"/>
<text x="204.5" y="367.0" font-size="4.6" text-anchor="end" fill="#222" stroke="#222" stroke-width="0.1">11</text>
<line x1="205.5" y1="351.9" x2="207.5" y2="351.9" stroke="#444" stroke-width="0.6"/>
<text x="204.5" y="354.09999999999997" font-size="4.6" text-anchor="end" fill="#222" stroke="#222" stroke-width="0.1">12</text>
<line x1="205.5" y1="339.0" x2="207.5" y2="339.0" stroke="#444" stroke-width="0.6"/>
<text x="204.5" y="341.2" font-size="4.6" text-anchor="end" fill="#222" stroke="#222" stroke-width="0.1">13</text>
<line x1="205.5" y1="326.1" x2="207.5" y2="326.1" stroke="#444" stroke-width="0.6"/>
<text x="204.5" y="328.3" font-size="4.6" text-anchor="end" fill="#222" stroke="#222" stroke-width="0.1">14</text>
<line x1="205.5" y1="313.2" x2="207.5" y2="313.2" stroke="#444" stroke-width="0.6"/>
<text x="204.5" y="315.4" font-size="4.6" text-anchor="end" fill="#222" stroke="#222" stroke-width="0.1">15</text>
<text x="217.2" y="309.6" font-size="5.0" fill="#222" stroke="#222" stroke-width="0.05" textLength="133.3" lengthAdjust="spacingAndGlyphs">GSDPMM (UMAP representation), colored by authors</text>
<text x="188.6" y="307.9" font-size="14.5" font-family="Liberation Serif" fill="#000" stroke="#000" stroke-width="0.1">h)</text>
<rect x="209.1" y="314.1" width="17.900000000000006" height="26.19999999999999" fill="#fff" fill-opacity="0.8" stroke="#ddd" stroke-width="0.5" rx="0.8"/>
<circle cx="215.6" cy="317.6" r="1.65" fill="#0173b2"/>
<text x="224.6" y="319.6" font-size="4.6" text-anchor="middle" fill="#222">0</text>
<circle cx="215.6" cy="323.8" r="1.65" fill="#de8f05"/>
<text x="224.6" y="325.8" font-size="4.6" text-anchor="middle" fill="#222">1</text>
<circle cx="215.6" cy="330.3" r="1.65" fill="#029e73"/>
<text x="224.6" y="332.3" font-size="4.6" text-anchor="middle" fill="#222">2</text>
<circle cx="215.6" cy="336.6" r="1.65" fill="#d55e00"/>
<text x="224.6" y="338.6" font-size="4.6" text-anchor="middle" fill="#222">3</text>
</svg></body></html>
